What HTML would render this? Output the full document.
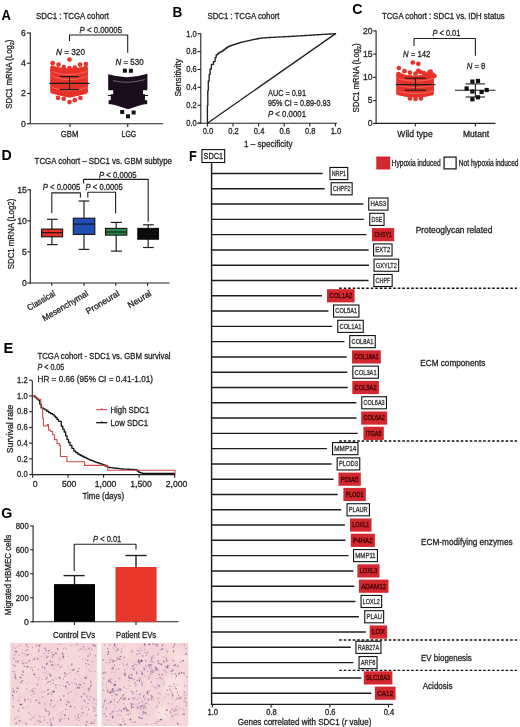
<!DOCTYPE html>
<html><head><meta charset="utf-8"><title>Figure</title>
<style>
html,body{margin:0;padding:0;background:#fff;}
body{width:520px;height:727px;overflow:hidden;}
svg{display:block;font-family:'Liberation Sans', Arial, sans-serif;fill:#231f20;}
text{stroke:#231f20;stroke-width:0.3px;}

</style></head><body>
<svg width="520" height="727" viewBox="0 0 520 727" fill="#231f20">
<rect width="520" height="727" fill="#fff"/>
<text x="1.60" y="20.20" font-size="14.2" textLength="9.40" lengthAdjust="spacingAndGlyphs" font-weight="bold" style="stroke-width:0;fill:#000;stroke:#000;">A</text>
<text x="172.40" y="17.20" font-size="14.2" textLength="9.80" lengthAdjust="spacingAndGlyphs" font-weight="bold" style="stroke-width:0;fill:#000;stroke:#000;">B</text>
<text x="352.20" y="13.60" font-size="14.2" textLength="10.20" lengthAdjust="spacingAndGlyphs" font-weight="bold" style="stroke-width:0;fill:#000;stroke:#000;">C</text>
<text x="1.60" y="160.40" font-size="14.2" textLength="10.20" lengthAdjust="spacingAndGlyphs" font-weight="bold" style="stroke-width:0;fill:#000;stroke:#000;">D</text>
<text x="3.40" y="353.40" font-size="14.2" textLength="9.80" lengthAdjust="spacingAndGlyphs" font-weight="bold" style="stroke-width:0;fill:#000;stroke:#000;">E</text>
<text x="188.90" y="161.00" font-size="14.2" textLength="7.80" lengthAdjust="spacingAndGlyphs" font-weight="bold" style="stroke-width:0;fill:#000;stroke:#000;">F</text>
<text x="1.20" y="518.40" font-size="14.2" textLength="11.00" lengthAdjust="spacingAndGlyphs" font-weight="bold" style="stroke-width:0;fill:#000;stroke:#000;">G</text>
<text x="36.00" y="19.20" font-size="8.86" textLength="73.00" lengthAdjust="spacingAndGlyphs">SDC1 : TCGA cohort</text>
<line x1="30.30" y1="32.60" x2="30.30" y2="123.60" stroke="#231f20" stroke-width="1.1" />
<line x1="29.70" y1="123.70" x2="163.00" y2="123.70" stroke="#231f20" stroke-width="1.1" />
<line x1="26.80" y1="33.00" x2="30.30" y2="33.00" stroke="#231f20" stroke-width="1.1" />
<text x="25.80" y="35.80" font-size="8.64" text-anchor="end">6</text>
<line x1="26.80" y1="63.20" x2="30.30" y2="63.20" stroke="#231f20" stroke-width="1.1" />
<text x="25.80" y="66.00" font-size="8.64" text-anchor="end">4</text>
<line x1="26.80" y1="93.50" x2="30.30" y2="93.50" stroke="#231f20" stroke-width="1.1" />
<text x="25.80" y="96.30" font-size="8.64" text-anchor="end">2</text>
<line x1="26.80" y1="123.70" x2="30.30" y2="123.70" stroke="#231f20" stroke-width="1.1" />
<text x="25.80" y="126.50" font-size="8.64" text-anchor="end">0</text>
<line x1="70.00" y1="123.70" x2="70.00" y2="126.90" stroke="#231f20" stroke-width="1.1" />
<line x1="127.70" y1="123.70" x2="127.70" y2="126.90" stroke="#231f20" stroke-width="1.1" />
<text x="69.60" y="136.60" font-size="8.64" text-anchor="middle" textLength="17.50" lengthAdjust="spacingAndGlyphs">GBM</text>
<text x="128.90" y="136.60" font-size="8.64" text-anchor="middle" textLength="14.80" lengthAdjust="spacingAndGlyphs">LGG</text>
<text transform="translate(12.4 74.2) rotate(-90)" font-size="8.64" text-anchor="middle" textLength="69" lengthAdjust="spacingAndGlyphs">SDC1 mRNA (Log<tspan font-size="5.5" dy="1.6">2</tspan><tspan dy="-1.6">)</tspan></text>
<polyline points="69.50,41.00 69.50,35.00 127.70,35.00 127.70,52.70" fill="none" stroke="#231f20" stroke-width="1.1" stroke-linejoin="round"/>
<text x="79.60" y="33.30" font-size="8.64" textLength="42.40" lengthAdjust="spacingAndGlyphs"><tspan font-style="italic">P</tspan> &lt; 0.00005</text>
<text x="56.00" y="55.20" font-size="8.64" textLength="29.00" lengthAdjust="spacingAndGlyphs"><tspan font-style="italic">N</tspan> = 320</text>
<text x="115.60" y="65.20" font-size="8.64" textLength="28.00" lengthAdjust="spacingAndGlyphs"><tspan font-style="italic">N</tspan> = 530</text>
<circle cx="69.50" cy="59.60" r="2.35" fill="#e8322a"/>
<circle cx="52.70" cy="63.20" r="2.35" fill="#e8322a"/>
<circle cx="58.50" cy="64.60" r="2.35" fill="#e8322a"/>
<circle cx="63.75" cy="67.00" r="2.35" fill="#e8322a"/>
<circle cx="69.50" cy="68.00" r="2.35" fill="#e8322a"/>
<circle cx="74.80" cy="67.50" r="2.35" fill="#e8322a"/>
<circle cx="80.10" cy="64.60" r="2.35" fill="#e8322a"/>
<circle cx="85.90" cy="64.10" r="2.35" fill="#e8322a"/>
<circle cx="52.30" cy="67.54" r="2.1" fill="#e8322a"/>
<circle cx="53.90" cy="68.07" r="2.1" fill="#e8322a"/>
<circle cx="55.50" cy="68.54" r="2.1" fill="#e8322a"/>
<circle cx="57.10" cy="68.96" r="2.1" fill="#e8322a"/>
<circle cx="58.70" cy="69.33" r="2.1" fill="#e8322a"/>
<circle cx="60.30" cy="69.65" r="2.1" fill="#e8322a"/>
<circle cx="61.90" cy="69.92" r="2.1" fill="#e8322a"/>
<circle cx="63.50" cy="70.14" r="2.1" fill="#e8322a"/>
<circle cx="65.10" cy="70.31" r="2.1" fill="#e8322a"/>
<circle cx="66.70" cy="70.42" r="2.1" fill="#e8322a"/>
<circle cx="68.30" cy="70.49" r="2.1" fill="#e8322a"/>
<circle cx="69.90" cy="70.50" r="2.1" fill="#e8322a"/>
<circle cx="71.50" cy="70.46" r="2.1" fill="#e8322a"/>
<circle cx="73.10" cy="70.37" r="2.1" fill="#e8322a"/>
<circle cx="74.70" cy="70.23" r="2.1" fill="#e8322a"/>
<circle cx="76.30" cy="70.04" r="2.1" fill="#e8322a"/>
<circle cx="77.90" cy="69.79" r="2.1" fill="#e8322a"/>
<circle cx="79.50" cy="69.50" r="2.1" fill="#e8322a"/>
<circle cx="81.10" cy="69.15" r="2.1" fill="#e8322a"/>
<circle cx="82.70" cy="68.76" r="2.1" fill="#e8322a"/>
<circle cx="84.30" cy="68.31" r="2.1" fill="#e8322a"/>
<circle cx="85.90" cy="67.81" r="2.1" fill="#e8322a"/>
<circle cx="52.30" cy="69.34" r="2.1" fill="#e8322a"/>
<circle cx="53.90" cy="69.87" r="2.1" fill="#e8322a"/>
<circle cx="55.50" cy="70.34" r="2.1" fill="#e8322a"/>
<circle cx="57.10" cy="70.76" r="2.1" fill="#e8322a"/>
<circle cx="58.70" cy="71.13" r="2.1" fill="#e8322a"/>
<circle cx="60.30" cy="71.45" r="2.1" fill="#e8322a"/>
<circle cx="61.90" cy="71.72" r="2.1" fill="#e8322a"/>
<circle cx="63.50" cy="71.94" r="2.1" fill="#e8322a"/>
<circle cx="65.10" cy="72.11" r="2.1" fill="#e8322a"/>
<circle cx="66.70" cy="72.22" r="2.1" fill="#e8322a"/>
<circle cx="68.30" cy="72.29" r="2.1" fill="#e8322a"/>
<circle cx="69.90" cy="72.30" r="2.1" fill="#e8322a"/>
<circle cx="71.50" cy="72.26" r="2.1" fill="#e8322a"/>
<circle cx="73.10" cy="72.17" r="2.1" fill="#e8322a"/>
<circle cx="74.70" cy="72.03" r="2.1" fill="#e8322a"/>
<circle cx="76.30" cy="71.84" r="2.1" fill="#e8322a"/>
<circle cx="77.90" cy="71.59" r="2.1" fill="#e8322a"/>
<circle cx="79.50" cy="71.30" r="2.1" fill="#e8322a"/>
<circle cx="81.10" cy="70.95" r="2.1" fill="#e8322a"/>
<circle cx="82.70" cy="70.56" r="2.1" fill="#e8322a"/>
<circle cx="84.30" cy="70.11" r="2.1" fill="#e8322a"/>
<circle cx="85.90" cy="69.61" r="2.1" fill="#e8322a"/>
<circle cx="52.30" cy="71.14" r="2.1" fill="#e8322a"/>
<circle cx="53.90" cy="71.67" r="2.1" fill="#e8322a"/>
<circle cx="55.50" cy="72.14" r="2.1" fill="#e8322a"/>
<circle cx="57.10" cy="72.56" r="2.1" fill="#e8322a"/>
<circle cx="58.70" cy="72.93" r="2.1" fill="#e8322a"/>
<circle cx="60.30" cy="73.25" r="2.1" fill="#e8322a"/>
<circle cx="61.90" cy="73.52" r="2.1" fill="#e8322a"/>
<circle cx="63.50" cy="73.74" r="2.1" fill="#e8322a"/>
<circle cx="65.10" cy="73.91" r="2.1" fill="#e8322a"/>
<circle cx="66.70" cy="74.02" r="2.1" fill="#e8322a"/>
<circle cx="68.30" cy="74.09" r="2.1" fill="#e8322a"/>
<circle cx="69.90" cy="74.10" r="2.1" fill="#e8322a"/>
<circle cx="71.50" cy="74.06" r="2.1" fill="#e8322a"/>
<circle cx="73.10" cy="73.97" r="2.1" fill="#e8322a"/>
<circle cx="74.70" cy="73.83" r="2.1" fill="#e8322a"/>
<circle cx="76.30" cy="73.64" r="2.1" fill="#e8322a"/>
<circle cx="77.90" cy="73.39" r="2.1" fill="#e8322a"/>
<circle cx="79.50" cy="73.10" r="2.1" fill="#e8322a"/>
<circle cx="81.10" cy="72.75" r="2.1" fill="#e8322a"/>
<circle cx="82.70" cy="72.36" r="2.1" fill="#e8322a"/>
<circle cx="84.30" cy="71.91" r="2.1" fill="#e8322a"/>
<circle cx="85.90" cy="71.41" r="2.1" fill="#e8322a"/>
<circle cx="52.30" cy="72.94" r="2.1" fill="#e8322a"/>
<circle cx="53.90" cy="73.47" r="2.1" fill="#e8322a"/>
<circle cx="55.50" cy="73.94" r="2.1" fill="#e8322a"/>
<circle cx="57.10" cy="74.36" r="2.1" fill="#e8322a"/>
<circle cx="58.70" cy="74.73" r="2.1" fill="#e8322a"/>
<circle cx="60.30" cy="75.05" r="2.1" fill="#e8322a"/>
<circle cx="61.90" cy="75.32" r="2.1" fill="#e8322a"/>
<circle cx="63.50" cy="75.54" r="2.1" fill="#e8322a"/>
<circle cx="65.10" cy="75.71" r="2.1" fill="#e8322a"/>
<circle cx="66.70" cy="75.82" r="2.1" fill="#e8322a"/>
<circle cx="68.30" cy="75.89" r="2.1" fill="#e8322a"/>
<circle cx="69.90" cy="75.90" r="2.1" fill="#e8322a"/>
<circle cx="71.50" cy="75.86" r="2.1" fill="#e8322a"/>
<circle cx="73.10" cy="75.77" r="2.1" fill="#e8322a"/>
<circle cx="74.70" cy="75.63" r="2.1" fill="#e8322a"/>
<circle cx="76.30" cy="75.44" r="2.1" fill="#e8322a"/>
<circle cx="77.90" cy="75.19" r="2.1" fill="#e8322a"/>
<circle cx="79.50" cy="74.90" r="2.1" fill="#e8322a"/>
<circle cx="81.10" cy="74.55" r="2.1" fill="#e8322a"/>
<circle cx="82.70" cy="74.16" r="2.1" fill="#e8322a"/>
<circle cx="84.30" cy="73.71" r="2.1" fill="#e8322a"/>
<circle cx="85.90" cy="73.21" r="2.1" fill="#e8322a"/>
<circle cx="52.30" cy="74.74" r="2.1" fill="#e8322a"/>
<circle cx="53.90" cy="75.27" r="2.1" fill="#e8322a"/>
<circle cx="55.50" cy="75.74" r="2.1" fill="#e8322a"/>
<circle cx="57.10" cy="76.16" r="2.1" fill="#e8322a"/>
<circle cx="58.70" cy="76.53" r="2.1" fill="#e8322a"/>
<circle cx="60.30" cy="76.85" r="2.1" fill="#e8322a"/>
<circle cx="61.90" cy="77.12" r="2.1" fill="#e8322a"/>
<circle cx="63.50" cy="77.34" r="2.1" fill="#e8322a"/>
<circle cx="65.10" cy="77.51" r="2.1" fill="#e8322a"/>
<circle cx="66.70" cy="77.62" r="2.1" fill="#e8322a"/>
<circle cx="68.30" cy="77.69" r="2.1" fill="#e8322a"/>
<circle cx="69.90" cy="77.70" r="2.1" fill="#e8322a"/>
<circle cx="71.50" cy="77.66" r="2.1" fill="#e8322a"/>
<circle cx="73.10" cy="77.57" r="2.1" fill="#e8322a"/>
<circle cx="74.70" cy="77.43" r="2.1" fill="#e8322a"/>
<circle cx="76.30" cy="77.24" r="2.1" fill="#e8322a"/>
<circle cx="77.90" cy="76.99" r="2.1" fill="#e8322a"/>
<circle cx="79.50" cy="76.70" r="2.1" fill="#e8322a"/>
<circle cx="81.10" cy="76.35" r="2.1" fill="#e8322a"/>
<circle cx="82.70" cy="75.96" r="2.1" fill="#e8322a"/>
<circle cx="84.30" cy="75.51" r="2.1" fill="#e8322a"/>
<circle cx="85.90" cy="75.01" r="2.1" fill="#e8322a"/>
<circle cx="52.30" cy="76.54" r="2.1" fill="#e8322a"/>
<circle cx="53.90" cy="77.07" r="2.1" fill="#e8322a"/>
<circle cx="55.50" cy="77.54" r="2.1" fill="#e8322a"/>
<circle cx="57.10" cy="77.96" r="2.1" fill="#e8322a"/>
<circle cx="58.70" cy="78.33" r="2.1" fill="#e8322a"/>
<circle cx="60.30" cy="78.65" r="2.1" fill="#e8322a"/>
<circle cx="61.90" cy="78.92" r="2.1" fill="#e8322a"/>
<circle cx="63.50" cy="79.14" r="2.1" fill="#e8322a"/>
<circle cx="65.10" cy="79.31" r="2.1" fill="#e8322a"/>
<circle cx="66.70" cy="79.42" r="2.1" fill="#e8322a"/>
<circle cx="68.30" cy="79.49" r="2.1" fill="#e8322a"/>
<circle cx="69.90" cy="79.50" r="2.1" fill="#e8322a"/>
<circle cx="71.50" cy="79.46" r="2.1" fill="#e8322a"/>
<circle cx="73.10" cy="79.37" r="2.1" fill="#e8322a"/>
<circle cx="74.70" cy="79.23" r="2.1" fill="#e8322a"/>
<circle cx="76.30" cy="79.04" r="2.1" fill="#e8322a"/>
<circle cx="77.90" cy="78.79" r="2.1" fill="#e8322a"/>
<circle cx="79.50" cy="78.50" r="2.1" fill="#e8322a"/>
<circle cx="81.10" cy="78.15" r="2.1" fill="#e8322a"/>
<circle cx="82.70" cy="77.76" r="2.1" fill="#e8322a"/>
<circle cx="84.30" cy="77.31" r="2.1" fill="#e8322a"/>
<circle cx="85.90" cy="76.81" r="2.1" fill="#e8322a"/>
<circle cx="52.30" cy="78.34" r="2.1" fill="#e8322a"/>
<circle cx="53.90" cy="78.87" r="2.1" fill="#e8322a"/>
<circle cx="55.50" cy="79.34" r="2.1" fill="#e8322a"/>
<circle cx="57.10" cy="79.76" r="2.1" fill="#e8322a"/>
<circle cx="58.70" cy="80.13" r="2.1" fill="#e8322a"/>
<circle cx="60.30" cy="80.45" r="2.1" fill="#e8322a"/>
<circle cx="61.90" cy="80.72" r="2.1" fill="#e8322a"/>
<circle cx="63.50" cy="80.94" r="2.1" fill="#e8322a"/>
<circle cx="65.10" cy="81.11" r="2.1" fill="#e8322a"/>
<circle cx="66.70" cy="81.22" r="2.1" fill="#e8322a"/>
<circle cx="68.30" cy="81.29" r="2.1" fill="#e8322a"/>
<circle cx="69.90" cy="81.30" r="2.1" fill="#e8322a"/>
<circle cx="71.50" cy="81.26" r="2.1" fill="#e8322a"/>
<circle cx="73.10" cy="81.17" r="2.1" fill="#e8322a"/>
<circle cx="74.70" cy="81.03" r="2.1" fill="#e8322a"/>
<circle cx="76.30" cy="80.84" r="2.1" fill="#e8322a"/>
<circle cx="77.90" cy="80.59" r="2.1" fill="#e8322a"/>
<circle cx="79.50" cy="80.30" r="2.1" fill="#e8322a"/>
<circle cx="81.10" cy="79.95" r="2.1" fill="#e8322a"/>
<circle cx="82.70" cy="79.56" r="2.1" fill="#e8322a"/>
<circle cx="84.30" cy="79.11" r="2.1" fill="#e8322a"/>
<circle cx="85.90" cy="78.61" r="2.1" fill="#e8322a"/>
<circle cx="52.30" cy="80.14" r="2.1" fill="#e8322a"/>
<circle cx="53.90" cy="80.67" r="2.1" fill="#e8322a"/>
<circle cx="55.50" cy="81.14" r="2.1" fill="#e8322a"/>
<circle cx="57.10" cy="81.56" r="2.1" fill="#e8322a"/>
<circle cx="58.70" cy="81.93" r="2.1" fill="#e8322a"/>
<circle cx="60.30" cy="82.25" r="2.1" fill="#e8322a"/>
<circle cx="61.90" cy="82.52" r="2.1" fill="#e8322a"/>
<circle cx="63.50" cy="82.74" r="2.1" fill="#e8322a"/>
<circle cx="65.10" cy="82.91" r="2.1" fill="#e8322a"/>
<circle cx="66.70" cy="83.02" r="2.1" fill="#e8322a"/>
<circle cx="68.30" cy="83.09" r="2.1" fill="#e8322a"/>
<circle cx="69.90" cy="83.10" r="2.1" fill="#e8322a"/>
<circle cx="71.50" cy="83.06" r="2.1" fill="#e8322a"/>
<circle cx="73.10" cy="82.97" r="2.1" fill="#e8322a"/>
<circle cx="74.70" cy="82.83" r="2.1" fill="#e8322a"/>
<circle cx="76.30" cy="82.64" r="2.1" fill="#e8322a"/>
<circle cx="77.90" cy="82.39" r="2.1" fill="#e8322a"/>
<circle cx="79.50" cy="82.10" r="2.1" fill="#e8322a"/>
<circle cx="81.10" cy="81.75" r="2.1" fill="#e8322a"/>
<circle cx="82.70" cy="81.36" r="2.1" fill="#e8322a"/>
<circle cx="84.30" cy="80.91" r="2.1" fill="#e8322a"/>
<circle cx="85.90" cy="80.41" r="2.1" fill="#e8322a"/>
<circle cx="52.30" cy="81.94" r="2.1" fill="#e8322a"/>
<circle cx="53.90" cy="82.47" r="2.1" fill="#e8322a"/>
<circle cx="55.50" cy="82.94" r="2.1" fill="#e8322a"/>
<circle cx="57.10" cy="83.36" r="2.1" fill="#e8322a"/>
<circle cx="58.70" cy="83.73" r="2.1" fill="#e8322a"/>
<circle cx="60.30" cy="84.05" r="2.1" fill="#e8322a"/>
<circle cx="61.90" cy="84.32" r="2.1" fill="#e8322a"/>
<circle cx="63.50" cy="84.54" r="2.1" fill="#e8322a"/>
<circle cx="65.10" cy="84.71" r="2.1" fill="#e8322a"/>
<circle cx="66.70" cy="84.82" r="2.1" fill="#e8322a"/>
<circle cx="68.30" cy="84.89" r="2.1" fill="#e8322a"/>
<circle cx="69.90" cy="84.90" r="2.1" fill="#e8322a"/>
<circle cx="71.50" cy="84.86" r="2.1" fill="#e8322a"/>
<circle cx="73.10" cy="84.77" r="2.1" fill="#e8322a"/>
<circle cx="74.70" cy="84.63" r="2.1" fill="#e8322a"/>
<circle cx="76.30" cy="84.44" r="2.1" fill="#e8322a"/>
<circle cx="77.90" cy="84.19" r="2.1" fill="#e8322a"/>
<circle cx="79.50" cy="83.90" r="2.1" fill="#e8322a"/>
<circle cx="81.10" cy="83.55" r="2.1" fill="#e8322a"/>
<circle cx="82.70" cy="83.16" r="2.1" fill="#e8322a"/>
<circle cx="84.30" cy="82.71" r="2.1" fill="#e8322a"/>
<circle cx="85.90" cy="82.21" r="2.1" fill="#e8322a"/>
<circle cx="52.30" cy="83.74" r="2.1" fill="#e8322a"/>
<circle cx="53.90" cy="84.27" r="2.1" fill="#e8322a"/>
<circle cx="55.50" cy="84.74" r="2.1" fill="#e8322a"/>
<circle cx="57.10" cy="85.16" r="2.1" fill="#e8322a"/>
<circle cx="58.70" cy="85.53" r="2.1" fill="#e8322a"/>
<circle cx="60.30" cy="85.85" r="2.1" fill="#e8322a"/>
<circle cx="61.90" cy="86.12" r="2.1" fill="#e8322a"/>
<circle cx="63.50" cy="86.34" r="2.1" fill="#e8322a"/>
<circle cx="65.10" cy="86.51" r="2.1" fill="#e8322a"/>
<circle cx="66.70" cy="86.62" r="2.1" fill="#e8322a"/>
<circle cx="68.30" cy="86.69" r="2.1" fill="#e8322a"/>
<circle cx="69.90" cy="86.70" r="2.1" fill="#e8322a"/>
<circle cx="71.50" cy="86.66" r="2.1" fill="#e8322a"/>
<circle cx="73.10" cy="86.57" r="2.1" fill="#e8322a"/>
<circle cx="74.70" cy="86.43" r="2.1" fill="#e8322a"/>
<circle cx="76.30" cy="86.24" r="2.1" fill="#e8322a"/>
<circle cx="77.90" cy="85.99" r="2.1" fill="#e8322a"/>
<circle cx="79.50" cy="85.70" r="2.1" fill="#e8322a"/>
<circle cx="81.10" cy="85.35" r="2.1" fill="#e8322a"/>
<circle cx="82.70" cy="84.96" r="2.1" fill="#e8322a"/>
<circle cx="84.30" cy="84.51" r="2.1" fill="#e8322a"/>
<circle cx="85.90" cy="84.01" r="2.1" fill="#e8322a"/>
<circle cx="52.30" cy="85.54" r="2.1" fill="#e8322a"/>
<circle cx="53.90" cy="86.07" r="2.1" fill="#e8322a"/>
<circle cx="55.50" cy="86.54" r="2.1" fill="#e8322a"/>
<circle cx="57.10" cy="86.96" r="2.1" fill="#e8322a"/>
<circle cx="58.70" cy="87.33" r="2.1" fill="#e8322a"/>
<circle cx="60.30" cy="87.65" r="2.1" fill="#e8322a"/>
<circle cx="61.90" cy="87.92" r="2.1" fill="#e8322a"/>
<circle cx="63.50" cy="88.14" r="2.1" fill="#e8322a"/>
<circle cx="65.10" cy="88.31" r="2.1" fill="#e8322a"/>
<circle cx="66.70" cy="88.42" r="2.1" fill="#e8322a"/>
<circle cx="68.30" cy="88.49" r="2.1" fill="#e8322a"/>
<circle cx="69.90" cy="88.50" r="2.1" fill="#e8322a"/>
<circle cx="71.50" cy="88.46" r="2.1" fill="#e8322a"/>
<circle cx="73.10" cy="88.37" r="2.1" fill="#e8322a"/>
<circle cx="74.70" cy="88.23" r="2.1" fill="#e8322a"/>
<circle cx="76.30" cy="88.04" r="2.1" fill="#e8322a"/>
<circle cx="77.90" cy="87.79" r="2.1" fill="#e8322a"/>
<circle cx="79.50" cy="87.50" r="2.1" fill="#e8322a"/>
<circle cx="81.10" cy="87.15" r="2.1" fill="#e8322a"/>
<circle cx="82.70" cy="86.76" r="2.1" fill="#e8322a"/>
<circle cx="84.30" cy="86.31" r="2.1" fill="#e8322a"/>
<circle cx="85.90" cy="85.81" r="2.1" fill="#e8322a"/>
<circle cx="52.30" cy="87.34" r="2.1" fill="#e8322a"/>
<circle cx="53.90" cy="87.87" r="2.1" fill="#e8322a"/>
<circle cx="55.50" cy="88.34" r="2.1" fill="#e8322a"/>
<circle cx="57.10" cy="88.76" r="2.1" fill="#e8322a"/>
<circle cx="58.70" cy="89.13" r="2.1" fill="#e8322a"/>
<circle cx="60.30" cy="89.45" r="2.1" fill="#e8322a"/>
<circle cx="61.90" cy="89.72" r="2.1" fill="#e8322a"/>
<circle cx="63.50" cy="89.94" r="2.1" fill="#e8322a"/>
<circle cx="65.10" cy="90.11" r="2.1" fill="#e8322a"/>
<circle cx="66.70" cy="90.22" r="2.1" fill="#e8322a"/>
<circle cx="68.30" cy="90.29" r="2.1" fill="#e8322a"/>
<circle cx="69.90" cy="90.30" r="2.1" fill="#e8322a"/>
<circle cx="71.50" cy="90.26" r="2.1" fill="#e8322a"/>
<circle cx="73.10" cy="90.17" r="2.1" fill="#e8322a"/>
<circle cx="74.70" cy="90.03" r="2.1" fill="#e8322a"/>
<circle cx="76.30" cy="89.84" r="2.1" fill="#e8322a"/>
<circle cx="77.90" cy="89.59" r="2.1" fill="#e8322a"/>
<circle cx="79.50" cy="89.30" r="2.1" fill="#e8322a"/>
<circle cx="81.10" cy="88.95" r="2.1" fill="#e8322a"/>
<circle cx="82.70" cy="88.56" r="2.1" fill="#e8322a"/>
<circle cx="84.30" cy="88.11" r="2.1" fill="#e8322a"/>
<circle cx="85.90" cy="87.61" r="2.1" fill="#e8322a"/>
<circle cx="52.30" cy="89.14" r="2.1" fill="#e8322a"/>
<circle cx="53.90" cy="89.67" r="2.1" fill="#e8322a"/>
<circle cx="55.50" cy="90.14" r="2.1" fill="#e8322a"/>
<circle cx="57.10" cy="90.56" r="2.1" fill="#e8322a"/>
<circle cx="58.70" cy="90.93" r="2.1" fill="#e8322a"/>
<circle cx="60.30" cy="91.25" r="2.1" fill="#e8322a"/>
<circle cx="61.90" cy="91.52" r="2.1" fill="#e8322a"/>
<circle cx="63.50" cy="91.74" r="2.1" fill="#e8322a"/>
<circle cx="65.10" cy="91.91" r="2.1" fill="#e8322a"/>
<circle cx="66.70" cy="92.02" r="2.1" fill="#e8322a"/>
<circle cx="68.30" cy="92.09" r="2.1" fill="#e8322a"/>
<circle cx="69.90" cy="92.10" r="2.1" fill="#e8322a"/>
<circle cx="71.50" cy="92.06" r="2.1" fill="#e8322a"/>
<circle cx="73.10" cy="91.97" r="2.1" fill="#e8322a"/>
<circle cx="74.70" cy="91.83" r="2.1" fill="#e8322a"/>
<circle cx="76.30" cy="91.64" r="2.1" fill="#e8322a"/>
<circle cx="77.90" cy="91.39" r="2.1" fill="#e8322a"/>
<circle cx="79.50" cy="91.10" r="2.1" fill="#e8322a"/>
<circle cx="81.10" cy="90.75" r="2.1" fill="#e8322a"/>
<circle cx="82.70" cy="90.36" r="2.1" fill="#e8322a"/>
<circle cx="84.30" cy="89.91" r="2.1" fill="#e8322a"/>
<circle cx="85.90" cy="89.41" r="2.1" fill="#e8322a"/>
<circle cx="52.30" cy="90.94" r="2.1" fill="#e8322a"/>
<circle cx="53.90" cy="91.47" r="2.1" fill="#e8322a"/>
<circle cx="55.50" cy="91.94" r="2.1" fill="#e8322a"/>
<circle cx="57.10" cy="92.36" r="2.1" fill="#e8322a"/>
<circle cx="58.70" cy="92.73" r="2.1" fill="#e8322a"/>
<circle cx="60.30" cy="93.05" r="2.1" fill="#e8322a"/>
<circle cx="61.90" cy="93.32" r="2.1" fill="#e8322a"/>
<circle cx="63.50" cy="93.54" r="2.1" fill="#e8322a"/>
<circle cx="65.10" cy="93.71" r="2.1" fill="#e8322a"/>
<circle cx="66.70" cy="93.82" r="2.1" fill="#e8322a"/>
<circle cx="68.30" cy="93.89" r="2.1" fill="#e8322a"/>
<circle cx="69.90" cy="93.90" r="2.1" fill="#e8322a"/>
<circle cx="71.50" cy="93.86" r="2.1" fill="#e8322a"/>
<circle cx="73.10" cy="93.77" r="2.1" fill="#e8322a"/>
<circle cx="74.70" cy="93.63" r="2.1" fill="#e8322a"/>
<circle cx="76.30" cy="93.44" r="2.1" fill="#e8322a"/>
<circle cx="77.90" cy="93.19" r="2.1" fill="#e8322a"/>
<circle cx="79.50" cy="92.90" r="2.1" fill="#e8322a"/>
<circle cx="81.10" cy="92.55" r="2.1" fill="#e8322a"/>
<circle cx="82.70" cy="92.16" r="2.1" fill="#e8322a"/>
<circle cx="84.30" cy="91.71" r="2.1" fill="#e8322a"/>
<circle cx="85.90" cy="91.21" r="2.1" fill="#e8322a"/>
<circle cx="58.00" cy="97.80" r="2.35" fill="#e8322a"/>
<circle cx="63.75" cy="98.75" r="2.35" fill="#e8322a"/>
<circle cx="69.50" cy="102.10" r="2.35" fill="#e8322a"/>
<circle cx="74.80" cy="100.20" r="2.35" fill="#e8322a"/>
<circle cx="80.40" cy="98.00" r="2.35" fill="#e8322a"/>
<circle cx="52.50" cy="91.80" r="2.0" fill="#e8322a"/>
<circle cx="54.00" cy="92.15" r="2.0" fill="#e8322a"/>
<circle cx="55.50" cy="92.51" r="2.0" fill="#e8322a"/>
<circle cx="57.00" cy="92.86" r="2.0" fill="#e8322a"/>
<circle cx="58.50" cy="93.21" r="2.0" fill="#e8322a"/>
<circle cx="60.00" cy="93.56" r="2.0" fill="#e8322a"/>
<circle cx="61.50" cy="93.92" r="2.0" fill="#e8322a"/>
<circle cx="63.00" cy="94.27" r="2.0" fill="#e8322a"/>
<circle cx="64.50" cy="94.62" r="2.0" fill="#e8322a"/>
<circle cx="66.00" cy="94.98" r="2.0" fill="#e8322a"/>
<circle cx="67.50" cy="95.33" r="2.0" fill="#e8322a"/>
<circle cx="69.00" cy="95.68" r="2.0" fill="#e8322a"/>
<circle cx="70.50" cy="95.56" r="2.0" fill="#e8322a"/>
<circle cx="72.00" cy="95.21" r="2.0" fill="#e8322a"/>
<circle cx="73.50" cy="94.86" r="2.0" fill="#e8322a"/>
<circle cx="75.00" cy="94.51" r="2.0" fill="#e8322a"/>
<circle cx="76.50" cy="94.15" r="2.0" fill="#e8322a"/>
<circle cx="78.00" cy="93.80" r="2.0" fill="#e8322a"/>
<circle cx="79.50" cy="93.45" r="2.0" fill="#e8322a"/>
<circle cx="81.00" cy="93.09" r="2.0" fill="#e8322a"/>
<circle cx="82.50" cy="92.74" r="2.0" fill="#e8322a"/>
<circle cx="84.00" cy="92.39" r="2.0" fill="#e8322a"/>
<circle cx="85.50" cy="92.04" r="2.0" fill="#e8322a"/>
<polyline points="52.00,71.44 53.00,71.78 54.00,72.10 55.00,72.40 56.00,72.68 57.00,72.94 58.00,73.18 59.00,73.40 60.00,73.60 61.00,73.78 62.00,73.94 63.00,74.08 64.00,74.20 65.00,74.30 66.00,74.38 67.00,74.44 68.00,74.48 69.00,74.50 70.00,74.50 71.00,74.48 72.00,74.44 73.00,74.38 74.00,74.30 75.00,74.20 76.00,74.08 77.00,73.94 78.00,73.78 79.00,73.60 80.00,73.40 81.00,73.18 82.00,72.94 83.00,72.68 84.00,72.40 85.00,72.10 86.00,71.78 87.00,71.44" fill="none" stroke="#f6a08a" stroke-width="0.7" opacity="0.7"/>
<polyline points="52.00,76.44 53.00,76.78 54.00,77.10 55.00,77.40 56.00,77.68 57.00,77.94 58.00,78.18 59.00,78.40 60.00,78.60 61.00,78.78 62.00,78.94 63.00,79.08 64.00,79.20 65.00,79.30 66.00,79.38 67.00,79.44 68.00,79.48 69.00,79.50 70.00,79.50 71.00,79.48 72.00,79.44 73.00,79.38 74.00,79.30 75.00,79.20 76.00,79.08 77.00,78.94 78.00,78.78 79.00,78.60 80.00,78.40 81.00,78.18 82.00,77.94 83.00,77.68 84.00,77.40 85.00,77.10 86.00,76.78 87.00,76.44" fill="none" stroke="#f6a08a" stroke-width="0.7" opacity="0.7"/>
<polyline points="52.00,87.44 53.00,87.78 54.00,88.10 55.00,88.40 56.00,88.68 57.00,88.94 58.00,89.18 59.00,89.40 60.00,89.60 61.00,89.78 62.00,89.94 63.00,90.08 64.00,90.20 65.00,90.30 66.00,90.38 67.00,90.44 68.00,90.48 69.00,90.50 70.00,90.50 71.00,90.48 72.00,90.44 73.00,90.38 74.00,90.30 75.00,90.20 76.00,90.08 77.00,89.94 78.00,89.78 79.00,89.60 80.00,89.40 81.00,89.18 82.00,88.94 83.00,88.68 84.00,88.40 85.00,88.10 86.00,87.78 87.00,87.44" fill="none" stroke="#f6a08a" stroke-width="0.7" opacity="0.7"/>
<line x1="49.30" y1="83.40" x2="89.40" y2="83.40" stroke="#1a1a1a" stroke-width="1.2" />
<line x1="69.50" y1="76.60" x2="69.50" y2="89.60" stroke="#1a1a1a" stroke-width="1.1" />
<line x1="59.90" y1="76.60" x2="78.70" y2="76.60" stroke="#1a1a1a" stroke-width="1.1" />
<line x1="59.90" y1="89.60" x2="78.70" y2="89.60" stroke="#1a1a1a" stroke-width="1.1" />
<path d="M108.2,74.3 Q128,80.2 147.4,73.8 L147.4,90.3 L143,90.3 L143,94.2 L145,94.2 L145,104 Q137,106 128,109.3 Q119,106 110.8,104 L110.8,94.2 L113.2,94.2 L113.2,90.3 L108.2,90.3 Z" fill="#1c0d1e"/>
<rect x="122.90" y="68.70" width="4.00" height="4.00" fill="#1c0d1e"/>
<rect x="128.90" y="68.80" width="4.00" height="4.00" fill="#1c0d1e"/>
<rect x="120.20" y="110.00" width="4.00" height="4.00" fill="#1c0d1e"/>
<rect x="126.00" y="114.30" width="4.00" height="4.00" fill="#1c0d1e"/>
<rect x="131.60" y="110.50" width="4.00" height="4.00" fill="#1c0d1e"/>
<rect x="108.60" y="100.20" width="4.00" height="4.00" fill="#1c0d1e"/>
<rect x="143.20" y="100.20" width="4.00" height="4.00" fill="#1c0d1e"/>
<path d="M113,80.6 Q128,84.5 145,79.5" fill="none" stroke="#ffffff" stroke-width="0.6" opacity="0.6"/>
<line x1="108.00" y1="95.50" x2="148.00" y2="95.50" stroke="#1c0d1e" stroke-width="1.2" />
<text x="207.50" y="19.20" font-size="8.86" textLength="72.00" lengthAdjust="spacingAndGlyphs">SDC1 : TCGA cohort</text>
<line x1="200.80" y1="33.40" x2="200.80" y2="123.60" stroke="#231f20" stroke-width="1.1" />
<line x1="197.50" y1="123.20" x2="337.00" y2="123.20" stroke="#231f20" stroke-width="1.1" />
<line x1="197.50" y1="123.20" x2="200.80" y2="123.20" stroke="#231f20" stroke-width="1.1" />
<text x="196.80" y="126.00" font-size="8.64" text-anchor="end" textLength="10.50" lengthAdjust="spacingAndGlyphs">0.0</text>
<line x1="197.50" y1="105.30" x2="200.80" y2="105.30" stroke="#231f20" stroke-width="1.1" />
<text x="196.80" y="108.10" font-size="8.64" text-anchor="end" textLength="10.50" lengthAdjust="spacingAndGlyphs">0.2</text>
<line x1="197.50" y1="87.40" x2="200.80" y2="87.40" stroke="#231f20" stroke-width="1.1" />
<text x="196.80" y="90.20" font-size="8.64" text-anchor="end" textLength="10.50" lengthAdjust="spacingAndGlyphs">0.4</text>
<line x1="197.50" y1="69.50" x2="200.80" y2="69.50" stroke="#231f20" stroke-width="1.1" />
<text x="196.80" y="72.30" font-size="8.64" text-anchor="end" textLength="10.50" lengthAdjust="spacingAndGlyphs">0.6</text>
<line x1="197.50" y1="51.60" x2="200.80" y2="51.60" stroke="#231f20" stroke-width="1.1" />
<text x="196.80" y="54.40" font-size="8.64" text-anchor="end" textLength="10.50" lengthAdjust="spacingAndGlyphs">0.8</text>
<line x1="197.50" y1="33.70" x2="200.80" y2="33.70" stroke="#231f20" stroke-width="1.1" />
<text x="196.80" y="36.50" font-size="8.64" text-anchor="end" textLength="10.50" lengthAdjust="spacingAndGlyphs">1.0</text>
<line x1="207.40" y1="123.20" x2="207.40" y2="126.40" stroke="#231f20" stroke-width="1.1" />
<text x="207.90" y="133.50" font-size="8.64" text-anchor="middle" textLength="10.50" lengthAdjust="spacingAndGlyphs">0.0</text>
<line x1="233.00" y1="123.20" x2="233.00" y2="126.40" stroke="#231f20" stroke-width="1.1" />
<text x="233.50" y="133.50" font-size="8.64" text-anchor="middle" textLength="10.50" lengthAdjust="spacingAndGlyphs">0.2</text>
<line x1="258.60" y1="123.20" x2="258.60" y2="126.40" stroke="#231f20" stroke-width="1.1" />
<text x="259.10" y="133.50" font-size="8.64" text-anchor="middle" textLength="10.50" lengthAdjust="spacingAndGlyphs">0.4</text>
<line x1="284.20" y1="123.20" x2="284.20" y2="126.40" stroke="#231f20" stroke-width="1.1" />
<text x="284.70" y="133.50" font-size="8.64" text-anchor="middle" textLength="10.50" lengthAdjust="spacingAndGlyphs">0.6</text>
<line x1="309.80" y1="123.20" x2="309.80" y2="126.40" stroke="#231f20" stroke-width="1.1" />
<text x="310.30" y="133.50" font-size="8.64" text-anchor="middle" textLength="10.50" lengthAdjust="spacingAndGlyphs">0.8</text>
<line x1="335.40" y1="123.20" x2="335.40" y2="126.40" stroke="#231f20" stroke-width="1.1" />
<text x="335.90" y="133.50" font-size="8.64" text-anchor="middle" textLength="10.50" lengthAdjust="spacingAndGlyphs">1.0</text>
<text transform="translate(180.8 77.7) rotate(-90)" font-size="8.64" text-anchor="middle" textLength="37.6" lengthAdjust="spacingAndGlyphs">Sensitivity</text>
<text x="268.20" y="146.60" font-size="8.64" text-anchor="middle" textLength="48.50" lengthAdjust="spacingAndGlyphs">1 – specificity</text>
<polyline points="207.40,122.90 207.40,105.40 207.80,105.40 207.80,90.60 208.30,90.60 208.30,81.10 209.20,81.10 209.20,74.40 210.10,74.40 210.10,69.00 211.40,69.00 211.40,64.30 213.50,64.30 213.50,61.60 215.10,61.60 215.10,57.60 216.20,57.60 216.20,54.90 217.50,54.90 217.50,53.75 218.80,53.75 218.80,52.60 219.93,52.60 219.93,52.03 221.07,52.03 221.07,51.47 222.20,51.47 222.20,50.90 223.33,50.90 223.33,50.00 224.47,50.00 224.47,49.10 225.60,49.10 225.60,48.20 226.70,48.20 226.70,47.53 227.80,47.53 227.80,46.87 228.90,46.87 228.90,46.20 230.12,46.20 230.12,45.78 231.34,45.78 231.34,45.36 232.56,45.36 232.56,44.94 233.78,44.94 233.78,44.52 235.00,44.52 235.00,44.10 236.35,44.10 236.35,43.67 237.70,43.67 237.70,43.25 239.05,43.25 239.05,42.83 240.40,42.83 240.40,42.40 241.52,42.40 241.52,42.13 242.63,42.13 242.63,41.87 243.75,41.87 243.75,41.60 244.87,41.60 244.87,41.33 245.98,41.33 245.98,41.07 247.10,41.07 247.10,40.80 248.22,40.80 248.22,40.57 249.33,40.57 249.33,40.33 250.45,40.33 250.45,40.10 251.57,40.10 251.57,39.87 252.68,39.87 252.68,39.63 253.80,39.63 253.80,39.40 254.93,39.40 254.93,39.18 256.07,39.18 256.07,38.97 257.20,38.97 257.20,38.75 258.33,38.75 258.33,38.53 259.47,38.53 259.47,38.32 260.60,38.32 260.60,38.10 261.72,38.10 261.72,38.02 262.83,38.02 262.83,37.93 263.95,37.93 263.95,37.85 265.07,37.85 265.07,37.77 266.18,37.77 266.18,37.68 267.30,37.68 267.30,37.60 268.44,37.60 268.44,37.54 269.57,37.54 269.57,37.48 270.70,37.48 270.70,37.42 271.84,37.42 271.84,37.36 272.98,37.36 272.98,37.30 274.11,37.30 274.11,37.24 275.25,37.24 275.25,37.18 276.38,37.18 276.38,37.12 277.51,37.12 277.51,37.06 278.65,37.06 278.65,37.00 279.79,37.00 279.79,36.94 280.92,36.94 280.92,36.88 282.06,36.88 282.06,36.82 283.19,36.82 283.19,36.76 284.32,36.76 284.32,36.70 285.46,36.70 285.46,36.64 286.60,36.64 286.60,36.58 287.73,36.58 287.73,36.52 288.87,36.52 288.87,36.46 290.00,36.46 290.00,36.40 291.11,36.40 291.11,36.33 292.22,36.33 292.22,36.27 293.33,36.27 293.33,36.20 294.44,36.20 294.44,36.13 295.56,36.13 295.56,36.07 296.67,36.07 296.67,36.00 297.78,36.00 297.78,35.93 298.89,35.93 298.89,35.87 300.00,35.87 300.00,35.80 301.11,35.80 301.11,35.73 302.22,35.73 302.22,35.67 303.33,35.67 303.33,35.60 304.44,35.60 304.44,35.53 305.56,35.53 305.56,35.47 306.67,35.47 306.67,35.40 307.78,35.40 307.78,35.33 308.89,35.33 308.89,35.27 310.00,35.27 310.00,35.20 311.11,35.20 311.11,35.13 312.23,35.13 312.23,35.06 313.34,35.06 313.34,34.99 314.45,34.99 314.45,34.92 315.57,34.92 315.57,34.85 316.68,34.85 316.68,34.78 317.79,34.78 317.79,34.71 318.90,34.71 318.90,34.64 320.02,34.64 320.02,34.57 321.13,34.57 321.13,34.50 322.24,34.50 322.24,34.43 323.36,34.43 323.36,34.37 324.47,34.37 324.47,34.30 325.58,34.30 325.58,34.23 326.70,34.23 326.70,34.16 327.81,34.16 327.81,34.09 328.92,34.09 328.92,34.02 330.03,34.02 330.03,33.95 331.15,33.95 331.15,33.88 332.26,33.88 332.26,33.81 333.37,33.81 333.37,33.74 334.49,33.74 334.49,33.67 335.60,33.67 335.60,33.60" fill="none" stroke="#231f20" stroke-width="1.35" stroke-linejoin="round"/>
<line x1="207.40" y1="123.20" x2="335.60" y2="33.60" stroke="#231f20" stroke-width="1.3" />
<text x="268.00" y="95.80" font-size="8.64" textLength="38.00" lengthAdjust="spacingAndGlyphs">AUC = 0.91</text>
<text x="268.00" y="106.30" font-size="8.64" textLength="62.50" lengthAdjust="spacingAndGlyphs">95% CI = 0.89-0.93</text>
<text x="268.00" y="116.80" font-size="8.64" textLength="38.00" lengthAdjust="spacingAndGlyphs"><tspan font-style="italic">P</tspan> &lt; 0.0001</text>
<text x="382.00" y="19.20" font-size="8.86" textLength="122.60" lengthAdjust="spacingAndGlyphs">TCGA cohort : SDC1 vs. IDH status</text>
<line x1="376.10" y1="30.60" x2="376.10" y2="124.00" stroke="#231f20" stroke-width="1.1" />
<line x1="375.50" y1="123.40" x2="495.50" y2="123.40" stroke="#231f20" stroke-width="1.1" />
<line x1="373.20" y1="30.90" x2="376.10" y2="30.90" stroke="#231f20" stroke-width="1.1" />
<text x="372.60" y="33.70" font-size="8.64" text-anchor="end">20</text>
<line x1="373.20" y1="54.10" x2="376.10" y2="54.10" stroke="#231f20" stroke-width="1.1" />
<text x="372.60" y="56.90" font-size="8.64" text-anchor="end">15</text>
<line x1="373.20" y1="77.40" x2="376.10" y2="77.40" stroke="#231f20" stroke-width="1.1" />
<text x="372.60" y="80.20" font-size="8.64" text-anchor="end">10</text>
<line x1="373.20" y1="100.60" x2="376.10" y2="100.60" stroke="#231f20" stroke-width="1.1" />
<text x="372.60" y="103.40" font-size="8.64" text-anchor="end">5</text>
<line x1="373.20" y1="123.40" x2="376.10" y2="123.40" stroke="#231f20" stroke-width="1.1" />
<text x="372.60" y="126.20" font-size="8.64" text-anchor="end">0</text>
<line x1="415.30" y1="123.40" x2="415.30" y2="126.60" stroke="#231f20" stroke-width="1.1" />
<line x1="475.40" y1="123.40" x2="475.40" y2="126.60" stroke="#231f20" stroke-width="1.1" />
<text x="415.00" y="137.00" font-size="8.64" text-anchor="middle" textLength="35.40" lengthAdjust="spacingAndGlyphs">Wild type</text>
<text x="476.00" y="137.00" font-size="8.64" text-anchor="middle" textLength="26.00" lengthAdjust="spacingAndGlyphs">Mutant</text>
<text transform="translate(359.4 78) rotate(-90)" font-size="8.64" text-anchor="middle" textLength="69" lengthAdjust="spacingAndGlyphs">SDC1 mRNA (Log<tspan font-size="5.5" dy="1.6">2</tspan><tspan dy="-1.6">)</tspan></text>
<polyline points="414.00,46.00 414.00,38.50 475.40,38.50 475.40,55.80" fill="none" stroke="#231f20" stroke-width="1.1" stroke-linejoin="round"/>
<text x="432.50" y="36.40" font-size="8.64" textLength="27.90" lengthAdjust="spacingAndGlyphs"><tspan font-style="italic">P</tspan> &lt; 0.01</text>
<text x="403.00" y="57.30" font-size="8.64" textLength="27.40" lengthAdjust="spacingAndGlyphs"><tspan font-style="italic">N</tspan> = 142</text>
<text x="466.70" y="69.20" font-size="8.64" textLength="18.70" lengthAdjust="spacingAndGlyphs"><tspan font-style="italic">N</tspan> = 8</text>
<circle cx="412.80" cy="62.50" r="2.35" fill="#e8322a"/>
<circle cx="418.30" cy="63.80" r="2.35" fill="#e8322a"/>
<circle cx="398.90" cy="68.00" r="2.35" fill="#e8322a"/>
<circle cx="404.50" cy="71.20" r="2.35" fill="#e8322a"/>
<circle cx="410.00" cy="72.60" r="2.35" fill="#e8322a"/>
<circle cx="415.50" cy="73.50" r="2.35" fill="#e8322a"/>
<circle cx="418.30" cy="70.80" r="2.35" fill="#e8322a"/>
<circle cx="423.90" cy="73.10" r="2.35" fill="#e8322a"/>
<circle cx="429.40" cy="72.20" r="2.35" fill="#e8322a"/>
<circle cx="432.60" cy="74.50" r="2.35" fill="#e8322a"/>
<circle cx="398.50" cy="74.00" r="2.35" fill="#e8322a"/>
<circle cx="401.50" cy="75.50" r="2.35" fill="#e8322a"/>
<circle cx="420.50" cy="72.00" r="2.35" fill="#e8322a"/>
<circle cx="426.50" cy="74.50" r="2.35" fill="#e8322a"/>
<circle cx="430.60" cy="71.50" r="2.35" fill="#e8322a"/>
<circle cx="434.50" cy="76.00" r="2.35" fill="#e8322a"/>
<circle cx="398.30" cy="75.13" r="2.1" fill="#e8322a"/>
<circle cx="399.90" cy="75.55" r="2.1" fill="#e8322a"/>
<circle cx="401.50" cy="75.93" r="2.1" fill="#e8322a"/>
<circle cx="403.10" cy="76.27" r="2.1" fill="#e8322a"/>
<circle cx="404.70" cy="76.57" r="2.1" fill="#e8322a"/>
<circle cx="406.30" cy="76.82" r="2.1" fill="#e8322a"/>
<circle cx="407.90" cy="77.04" r="2.1" fill="#e8322a"/>
<circle cx="409.50" cy="77.21" r="2.1" fill="#e8322a"/>
<circle cx="411.10" cy="77.35" r="2.1" fill="#e8322a"/>
<circle cx="412.70" cy="77.44" r="2.1" fill="#e8322a"/>
<circle cx="414.30" cy="77.49" r="2.1" fill="#e8322a"/>
<circle cx="415.90" cy="77.50" r="2.1" fill="#e8322a"/>
<circle cx="417.50" cy="77.47" r="2.1" fill="#e8322a"/>
<circle cx="419.10" cy="77.40" r="2.1" fill="#e8322a"/>
<circle cx="420.70" cy="77.28" r="2.1" fill="#e8322a"/>
<circle cx="422.30" cy="77.13" r="2.1" fill="#e8322a"/>
<circle cx="423.90" cy="76.94" r="2.1" fill="#e8322a"/>
<circle cx="425.50" cy="76.70" r="2.1" fill="#e8322a"/>
<circle cx="427.10" cy="76.42" r="2.1" fill="#e8322a"/>
<circle cx="428.70" cy="76.11" r="2.1" fill="#e8322a"/>
<circle cx="430.30" cy="75.75" r="2.1" fill="#e8322a"/>
<circle cx="431.90" cy="75.35" r="2.1" fill="#e8322a"/>
<circle cx="398.30" cy="76.93" r="2.1" fill="#e8322a"/>
<circle cx="399.90" cy="77.35" r="2.1" fill="#e8322a"/>
<circle cx="401.50" cy="77.73" r="2.1" fill="#e8322a"/>
<circle cx="403.10" cy="78.07" r="2.1" fill="#e8322a"/>
<circle cx="404.70" cy="78.37" r="2.1" fill="#e8322a"/>
<circle cx="406.30" cy="78.62" r="2.1" fill="#e8322a"/>
<circle cx="407.90" cy="78.84" r="2.1" fill="#e8322a"/>
<circle cx="409.50" cy="79.01" r="2.1" fill="#e8322a"/>
<circle cx="411.10" cy="79.15" r="2.1" fill="#e8322a"/>
<circle cx="412.70" cy="79.24" r="2.1" fill="#e8322a"/>
<circle cx="414.30" cy="79.29" r="2.1" fill="#e8322a"/>
<circle cx="415.90" cy="79.30" r="2.1" fill="#e8322a"/>
<circle cx="417.50" cy="79.27" r="2.1" fill="#e8322a"/>
<circle cx="419.10" cy="79.20" r="2.1" fill="#e8322a"/>
<circle cx="420.70" cy="79.08" r="2.1" fill="#e8322a"/>
<circle cx="422.30" cy="78.93" r="2.1" fill="#e8322a"/>
<circle cx="423.90" cy="78.74" r="2.1" fill="#e8322a"/>
<circle cx="425.50" cy="78.50" r="2.1" fill="#e8322a"/>
<circle cx="427.10" cy="78.22" r="2.1" fill="#e8322a"/>
<circle cx="428.70" cy="77.91" r="2.1" fill="#e8322a"/>
<circle cx="430.30" cy="77.55" r="2.1" fill="#e8322a"/>
<circle cx="431.90" cy="77.15" r="2.1" fill="#e8322a"/>
<circle cx="398.30" cy="78.73" r="2.1" fill="#e8322a"/>
<circle cx="399.90" cy="79.15" r="2.1" fill="#e8322a"/>
<circle cx="401.50" cy="79.53" r="2.1" fill="#e8322a"/>
<circle cx="403.10" cy="79.87" r="2.1" fill="#e8322a"/>
<circle cx="404.70" cy="80.17" r="2.1" fill="#e8322a"/>
<circle cx="406.30" cy="80.42" r="2.1" fill="#e8322a"/>
<circle cx="407.90" cy="80.64" r="2.1" fill="#e8322a"/>
<circle cx="409.50" cy="80.81" r="2.1" fill="#e8322a"/>
<circle cx="411.10" cy="80.95" r="2.1" fill="#e8322a"/>
<circle cx="412.70" cy="81.04" r="2.1" fill="#e8322a"/>
<circle cx="414.30" cy="81.09" r="2.1" fill="#e8322a"/>
<circle cx="415.90" cy="81.10" r="2.1" fill="#e8322a"/>
<circle cx="417.50" cy="81.07" r="2.1" fill="#e8322a"/>
<circle cx="419.10" cy="81.00" r="2.1" fill="#e8322a"/>
<circle cx="420.70" cy="80.88" r="2.1" fill="#e8322a"/>
<circle cx="422.30" cy="80.73" r="2.1" fill="#e8322a"/>
<circle cx="423.90" cy="80.54" r="2.1" fill="#e8322a"/>
<circle cx="425.50" cy="80.30" r="2.1" fill="#e8322a"/>
<circle cx="427.10" cy="80.02" r="2.1" fill="#e8322a"/>
<circle cx="428.70" cy="79.71" r="2.1" fill="#e8322a"/>
<circle cx="430.30" cy="79.35" r="2.1" fill="#e8322a"/>
<circle cx="431.90" cy="78.95" r="2.1" fill="#e8322a"/>
<circle cx="398.30" cy="80.53" r="2.1" fill="#e8322a"/>
<circle cx="399.90" cy="80.95" r="2.1" fill="#e8322a"/>
<circle cx="401.50" cy="81.33" r="2.1" fill="#e8322a"/>
<circle cx="403.10" cy="81.67" r="2.1" fill="#e8322a"/>
<circle cx="404.70" cy="81.97" r="2.1" fill="#e8322a"/>
<circle cx="406.30" cy="82.22" r="2.1" fill="#e8322a"/>
<circle cx="407.90" cy="82.44" r="2.1" fill="#e8322a"/>
<circle cx="409.50" cy="82.61" r="2.1" fill="#e8322a"/>
<circle cx="411.10" cy="82.75" r="2.1" fill="#e8322a"/>
<circle cx="412.70" cy="82.84" r="2.1" fill="#e8322a"/>
<circle cx="414.30" cy="82.89" r="2.1" fill="#e8322a"/>
<circle cx="415.90" cy="82.90" r="2.1" fill="#e8322a"/>
<circle cx="417.50" cy="82.87" r="2.1" fill="#e8322a"/>
<circle cx="419.10" cy="82.80" r="2.1" fill="#e8322a"/>
<circle cx="420.70" cy="82.68" r="2.1" fill="#e8322a"/>
<circle cx="422.30" cy="82.53" r="2.1" fill="#e8322a"/>
<circle cx="423.90" cy="82.34" r="2.1" fill="#e8322a"/>
<circle cx="425.50" cy="82.10" r="2.1" fill="#e8322a"/>
<circle cx="427.10" cy="81.82" r="2.1" fill="#e8322a"/>
<circle cx="428.70" cy="81.51" r="2.1" fill="#e8322a"/>
<circle cx="430.30" cy="81.15" r="2.1" fill="#e8322a"/>
<circle cx="431.90" cy="80.75" r="2.1" fill="#e8322a"/>
<circle cx="398.30" cy="82.33" r="2.1" fill="#e8322a"/>
<circle cx="399.90" cy="82.75" r="2.1" fill="#e8322a"/>
<circle cx="401.50" cy="83.13" r="2.1" fill="#e8322a"/>
<circle cx="403.10" cy="83.47" r="2.1" fill="#e8322a"/>
<circle cx="404.70" cy="83.77" r="2.1" fill="#e8322a"/>
<circle cx="406.30" cy="84.02" r="2.1" fill="#e8322a"/>
<circle cx="407.90" cy="84.24" r="2.1" fill="#e8322a"/>
<circle cx="409.50" cy="84.41" r="2.1" fill="#e8322a"/>
<circle cx="411.10" cy="84.55" r="2.1" fill="#e8322a"/>
<circle cx="412.70" cy="84.64" r="2.1" fill="#e8322a"/>
<circle cx="414.30" cy="84.69" r="2.1" fill="#e8322a"/>
<circle cx="415.90" cy="84.70" r="2.1" fill="#e8322a"/>
<circle cx="417.50" cy="84.67" r="2.1" fill="#e8322a"/>
<circle cx="419.10" cy="84.60" r="2.1" fill="#e8322a"/>
<circle cx="420.70" cy="84.48" r="2.1" fill="#e8322a"/>
<circle cx="422.30" cy="84.33" r="2.1" fill="#e8322a"/>
<circle cx="423.90" cy="84.14" r="2.1" fill="#e8322a"/>
<circle cx="425.50" cy="83.90" r="2.1" fill="#e8322a"/>
<circle cx="427.10" cy="83.62" r="2.1" fill="#e8322a"/>
<circle cx="428.70" cy="83.31" r="2.1" fill="#e8322a"/>
<circle cx="430.30" cy="82.95" r="2.1" fill="#e8322a"/>
<circle cx="431.90" cy="82.55" r="2.1" fill="#e8322a"/>
<circle cx="398.30" cy="84.13" r="2.1" fill="#e8322a"/>
<circle cx="399.90" cy="84.55" r="2.1" fill="#e8322a"/>
<circle cx="401.50" cy="84.93" r="2.1" fill="#e8322a"/>
<circle cx="403.10" cy="85.27" r="2.1" fill="#e8322a"/>
<circle cx="404.70" cy="85.57" r="2.1" fill="#e8322a"/>
<circle cx="406.30" cy="85.82" r="2.1" fill="#e8322a"/>
<circle cx="407.90" cy="86.04" r="2.1" fill="#e8322a"/>
<circle cx="409.50" cy="86.21" r="2.1" fill="#e8322a"/>
<circle cx="411.10" cy="86.35" r="2.1" fill="#e8322a"/>
<circle cx="412.70" cy="86.44" r="2.1" fill="#e8322a"/>
<circle cx="414.30" cy="86.49" r="2.1" fill="#e8322a"/>
<circle cx="415.90" cy="86.50" r="2.1" fill="#e8322a"/>
<circle cx="417.50" cy="86.47" r="2.1" fill="#e8322a"/>
<circle cx="419.10" cy="86.40" r="2.1" fill="#e8322a"/>
<circle cx="420.70" cy="86.28" r="2.1" fill="#e8322a"/>
<circle cx="422.30" cy="86.13" r="2.1" fill="#e8322a"/>
<circle cx="423.90" cy="85.94" r="2.1" fill="#e8322a"/>
<circle cx="425.50" cy="85.70" r="2.1" fill="#e8322a"/>
<circle cx="427.10" cy="85.42" r="2.1" fill="#e8322a"/>
<circle cx="428.70" cy="85.11" r="2.1" fill="#e8322a"/>
<circle cx="430.30" cy="84.75" r="2.1" fill="#e8322a"/>
<circle cx="431.90" cy="84.35" r="2.1" fill="#e8322a"/>
<circle cx="398.30" cy="85.93" r="2.1" fill="#e8322a"/>
<circle cx="399.90" cy="86.35" r="2.1" fill="#e8322a"/>
<circle cx="401.50" cy="86.73" r="2.1" fill="#e8322a"/>
<circle cx="403.10" cy="87.07" r="2.1" fill="#e8322a"/>
<circle cx="404.70" cy="87.37" r="2.1" fill="#e8322a"/>
<circle cx="406.30" cy="87.62" r="2.1" fill="#e8322a"/>
<circle cx="407.90" cy="87.84" r="2.1" fill="#e8322a"/>
<circle cx="409.50" cy="88.01" r="2.1" fill="#e8322a"/>
<circle cx="411.10" cy="88.15" r="2.1" fill="#e8322a"/>
<circle cx="412.70" cy="88.24" r="2.1" fill="#e8322a"/>
<circle cx="414.30" cy="88.29" r="2.1" fill="#e8322a"/>
<circle cx="415.90" cy="88.30" r="2.1" fill="#e8322a"/>
<circle cx="417.50" cy="88.27" r="2.1" fill="#e8322a"/>
<circle cx="419.10" cy="88.20" r="2.1" fill="#e8322a"/>
<circle cx="420.70" cy="88.08" r="2.1" fill="#e8322a"/>
<circle cx="422.30" cy="87.93" r="2.1" fill="#e8322a"/>
<circle cx="423.90" cy="87.74" r="2.1" fill="#e8322a"/>
<circle cx="425.50" cy="87.50" r="2.1" fill="#e8322a"/>
<circle cx="427.10" cy="87.22" r="2.1" fill="#e8322a"/>
<circle cx="428.70" cy="86.91" r="2.1" fill="#e8322a"/>
<circle cx="430.30" cy="86.55" r="2.1" fill="#e8322a"/>
<circle cx="431.90" cy="86.15" r="2.1" fill="#e8322a"/>
<circle cx="398.30" cy="87.73" r="2.1" fill="#e8322a"/>
<circle cx="399.90" cy="88.15" r="2.1" fill="#e8322a"/>
<circle cx="401.50" cy="88.53" r="2.1" fill="#e8322a"/>
<circle cx="403.10" cy="88.87" r="2.1" fill="#e8322a"/>
<circle cx="404.70" cy="89.17" r="2.1" fill="#e8322a"/>
<circle cx="406.30" cy="89.42" r="2.1" fill="#e8322a"/>
<circle cx="407.90" cy="89.64" r="2.1" fill="#e8322a"/>
<circle cx="409.50" cy="89.81" r="2.1" fill="#e8322a"/>
<circle cx="411.10" cy="89.95" r="2.1" fill="#e8322a"/>
<circle cx="412.70" cy="90.04" r="2.1" fill="#e8322a"/>
<circle cx="414.30" cy="90.09" r="2.1" fill="#e8322a"/>
<circle cx="415.90" cy="90.10" r="2.1" fill="#e8322a"/>
<circle cx="417.50" cy="90.07" r="2.1" fill="#e8322a"/>
<circle cx="419.10" cy="90.00" r="2.1" fill="#e8322a"/>
<circle cx="420.70" cy="89.88" r="2.1" fill="#e8322a"/>
<circle cx="422.30" cy="89.73" r="2.1" fill="#e8322a"/>
<circle cx="423.90" cy="89.54" r="2.1" fill="#e8322a"/>
<circle cx="425.50" cy="89.30" r="2.1" fill="#e8322a"/>
<circle cx="427.10" cy="89.02" r="2.1" fill="#e8322a"/>
<circle cx="428.70" cy="88.71" r="2.1" fill="#e8322a"/>
<circle cx="430.30" cy="88.35" r="2.1" fill="#e8322a"/>
<circle cx="431.90" cy="87.95" r="2.1" fill="#e8322a"/>
<circle cx="398.30" cy="89.53" r="2.1" fill="#e8322a"/>
<circle cx="399.90" cy="89.95" r="2.1" fill="#e8322a"/>
<circle cx="401.50" cy="90.33" r="2.1" fill="#e8322a"/>
<circle cx="403.10" cy="90.67" r="2.1" fill="#e8322a"/>
<circle cx="404.70" cy="90.97" r="2.1" fill="#e8322a"/>
<circle cx="406.30" cy="91.22" r="2.1" fill="#e8322a"/>
<circle cx="407.90" cy="91.44" r="2.1" fill="#e8322a"/>
<circle cx="409.50" cy="91.61" r="2.1" fill="#e8322a"/>
<circle cx="411.10" cy="91.75" r="2.1" fill="#e8322a"/>
<circle cx="412.70" cy="91.84" r="2.1" fill="#e8322a"/>
<circle cx="414.30" cy="91.89" r="2.1" fill="#e8322a"/>
<circle cx="415.90" cy="91.90" r="2.1" fill="#e8322a"/>
<circle cx="417.50" cy="91.87" r="2.1" fill="#e8322a"/>
<circle cx="419.10" cy="91.80" r="2.1" fill="#e8322a"/>
<circle cx="420.70" cy="91.68" r="2.1" fill="#e8322a"/>
<circle cx="422.30" cy="91.53" r="2.1" fill="#e8322a"/>
<circle cx="423.90" cy="91.34" r="2.1" fill="#e8322a"/>
<circle cx="425.50" cy="91.10" r="2.1" fill="#e8322a"/>
<circle cx="427.10" cy="90.82" r="2.1" fill="#e8322a"/>
<circle cx="428.70" cy="90.51" r="2.1" fill="#e8322a"/>
<circle cx="430.30" cy="90.15" r="2.1" fill="#e8322a"/>
<circle cx="431.90" cy="89.75" r="2.1" fill="#e8322a"/>
<circle cx="398.30" cy="91.33" r="2.1" fill="#e8322a"/>
<circle cx="399.90" cy="91.75" r="2.1" fill="#e8322a"/>
<circle cx="401.50" cy="92.13" r="2.1" fill="#e8322a"/>
<circle cx="403.10" cy="92.47" r="2.1" fill="#e8322a"/>
<circle cx="404.70" cy="92.77" r="2.1" fill="#e8322a"/>
<circle cx="406.30" cy="93.02" r="2.1" fill="#e8322a"/>
<circle cx="407.90" cy="93.24" r="2.1" fill="#e8322a"/>
<circle cx="409.50" cy="93.41" r="2.1" fill="#e8322a"/>
<circle cx="411.10" cy="93.55" r="2.1" fill="#e8322a"/>
<circle cx="412.70" cy="93.64" r="2.1" fill="#e8322a"/>
<circle cx="414.30" cy="93.69" r="2.1" fill="#e8322a"/>
<circle cx="415.90" cy="93.70" r="2.1" fill="#e8322a"/>
<circle cx="417.50" cy="93.67" r="2.1" fill="#e8322a"/>
<circle cx="419.10" cy="93.60" r="2.1" fill="#e8322a"/>
<circle cx="420.70" cy="93.48" r="2.1" fill="#e8322a"/>
<circle cx="422.30" cy="93.33" r="2.1" fill="#e8322a"/>
<circle cx="423.90" cy="93.14" r="2.1" fill="#e8322a"/>
<circle cx="425.50" cy="92.90" r="2.1" fill="#e8322a"/>
<circle cx="427.10" cy="92.62" r="2.1" fill="#e8322a"/>
<circle cx="428.70" cy="92.31" r="2.1" fill="#e8322a"/>
<circle cx="430.30" cy="91.95" r="2.1" fill="#e8322a"/>
<circle cx="431.90" cy="91.55" r="2.1" fill="#e8322a"/>
<circle cx="398.30" cy="93.13" r="2.1" fill="#e8322a"/>
<circle cx="399.90" cy="93.55" r="2.1" fill="#e8322a"/>
<circle cx="401.50" cy="93.93" r="2.1" fill="#e8322a"/>
<circle cx="403.10" cy="94.27" r="2.1" fill="#e8322a"/>
<circle cx="404.70" cy="94.57" r="2.1" fill="#e8322a"/>
<circle cx="406.30" cy="94.82" r="2.1" fill="#e8322a"/>
<circle cx="407.90" cy="95.04" r="2.1" fill="#e8322a"/>
<circle cx="409.50" cy="95.21" r="2.1" fill="#e8322a"/>
<circle cx="411.10" cy="95.35" r="2.1" fill="#e8322a"/>
<circle cx="412.70" cy="95.44" r="2.1" fill="#e8322a"/>
<circle cx="414.30" cy="95.49" r="2.1" fill="#e8322a"/>
<circle cx="415.90" cy="95.50" r="2.1" fill="#e8322a"/>
<circle cx="417.50" cy="95.47" r="2.1" fill="#e8322a"/>
<circle cx="419.10" cy="95.40" r="2.1" fill="#e8322a"/>
<circle cx="420.70" cy="95.28" r="2.1" fill="#e8322a"/>
<circle cx="422.30" cy="95.13" r="2.1" fill="#e8322a"/>
<circle cx="423.90" cy="94.94" r="2.1" fill="#e8322a"/>
<circle cx="425.50" cy="94.70" r="2.1" fill="#e8322a"/>
<circle cx="427.10" cy="94.42" r="2.1" fill="#e8322a"/>
<circle cx="428.70" cy="94.11" r="2.1" fill="#e8322a"/>
<circle cx="430.30" cy="93.75" r="2.1" fill="#e8322a"/>
<circle cx="431.90" cy="93.35" r="2.1" fill="#e8322a"/>
<circle cx="415.50" cy="99.00" r="2.35" fill="#e8322a"/>
<circle cx="410.00" cy="98.50" r="2.35" fill="#e8322a"/>
<circle cx="421.00" cy="98.50" r="2.35" fill="#e8322a"/>
<polyline points="398.00,78.55 399.00,78.82 400.00,79.08 401.00,79.32 402.00,79.54 403.00,79.75 404.00,79.94 405.00,80.12 406.00,80.28 407.00,80.42 408.00,80.55 409.00,80.66 410.00,80.76 411.00,80.84 412.00,80.90 413.00,80.95 414.00,80.98 415.00,81.00 416.00,81.00 417.00,80.98 418.00,80.95 419.00,80.90 420.00,80.84 421.00,80.76 422.00,80.66 423.00,80.55 424.00,80.42 425.00,80.28 426.00,80.12 427.00,79.94 428.00,79.75 429.00,79.54 430.00,79.32 431.00,79.08 432.00,78.82 433.00,78.55" fill="none" stroke="#f6a08a" stroke-width="0.7" opacity="0.7"/>
<polyline points="398.00,85.05 399.00,85.32 400.00,85.58 401.00,85.82 402.00,86.04 403.00,86.25 404.00,86.44 405.00,86.62 406.00,86.78 407.00,86.92 408.00,87.05 409.00,87.16 410.00,87.26 411.00,87.34 412.00,87.40 413.00,87.45 414.00,87.48 415.00,87.50 416.00,87.50 417.00,87.48 418.00,87.45 419.00,87.40 420.00,87.34 421.00,87.26 422.00,87.16 423.00,87.05 424.00,86.92 425.00,86.78 426.00,86.62 427.00,86.44 428.00,86.25 429.00,86.04 430.00,85.82 431.00,85.58 432.00,85.32 433.00,85.05" fill="none" stroke="#f6a08a" stroke-width="0.7" opacity="0.7"/>
<polyline points="398.00,91.05 399.00,91.32 400.00,91.58 401.00,91.82 402.00,92.04 403.00,92.25 404.00,92.44 405.00,92.62 406.00,92.78 407.00,92.92 408.00,93.05 409.00,93.16 410.00,93.26 411.00,93.34 412.00,93.40 413.00,93.45 414.00,93.48 415.00,93.50 416.00,93.50 417.00,93.48 418.00,93.45 419.00,93.40 420.00,93.34 421.00,93.26 422.00,93.16 423.00,93.05 424.00,92.92 425.00,92.78 426.00,92.62 427.00,92.44 428.00,92.25 429.00,92.04 430.00,91.82 431.00,91.58 432.00,91.32 433.00,91.05" fill="none" stroke="#f6a08a" stroke-width="0.7" opacity="0.7"/>
<line x1="395.70" y1="84.60" x2="435.40" y2="84.60" stroke="#1a1a1a" stroke-width="1.2" />
<line x1="415.50" y1="78.20" x2="415.50" y2="90.20" stroke="#1a1a1a" stroke-width="1.1" />
<line x1="405.00" y1="78.20" x2="426.20" y2="78.20" stroke="#1a1a1a" stroke-width="1.1" />
<line x1="405.00" y1="90.20" x2="426.20" y2="90.20" stroke="#1a1a1a" stroke-width="1.1" />
<line x1="455.00" y1="90.30" x2="495.50" y2="90.30" stroke="#231f20" stroke-width="1.1" />
<line x1="465.50" y1="83.90" x2="485.00" y2="83.90" stroke="#231f20" stroke-width="1.1" />
<line x1="465.50" y1="97.00" x2="485.00" y2="97.00" stroke="#231f20" stroke-width="1.1" />
<line x1="475.40" y1="83.90" x2="475.40" y2="97.00" stroke="#231f20" stroke-width="1.1" />
<rect x="470.30" y="79.50" width="4.20" height="4.20" fill="#111"/>
<rect x="475.90" y="78.90" width="4.20" height="4.20" fill="#111"/>
<rect x="464.50" y="86.40" width="4.20" height="4.20" fill="#111"/>
<rect x="470.30" y="89.40" width="4.20" height="4.20" fill="#111"/>
<rect x="479.50" y="89.90" width="4.20" height="4.20" fill="#111"/>
<rect x="484.60" y="87.90" width="4.20" height="4.20" fill="#111"/>
<rect x="470.30" y="97.20" width="4.20" height="4.20" fill="#111"/>
<rect x="475.90" y="95.20" width="4.20" height="4.20" fill="#111"/>
<text x="34.60" y="164.00" font-size="8.86" textLength="137.40" lengthAdjust="spacingAndGlyphs">TCGA cohort – SDC1 vs. GBM subtype</text>
<line x1="30.30" y1="189.60" x2="30.30" y2="283.60" stroke="#231f20" stroke-width="1.1" />
<line x1="29.70" y1="283.00" x2="169.50" y2="283.00" stroke="#231f20" stroke-width="1.1" />
<line x1="27.20" y1="189.80" x2="30.30" y2="189.80" stroke="#231f20" stroke-width="1.1" />
<text x="26.80" y="192.60" font-size="8.64" text-anchor="end">15</text>
<line x1="27.20" y1="220.80" x2="30.30" y2="220.80" stroke="#231f20" stroke-width="1.1" />
<text x="26.80" y="223.60" font-size="8.64" text-anchor="end">10</text>
<line x1="27.20" y1="251.80" x2="30.30" y2="251.80" stroke="#231f20" stroke-width="1.1" />
<text x="26.80" y="254.60" font-size="8.64" text-anchor="end">5</text>
<line x1="27.20" y1="283.00" x2="30.30" y2="283.00" stroke="#231f20" stroke-width="1.1" />
<text x="26.80" y="285.80" font-size="8.64" text-anchor="end">0</text>
<text transform="translate(14.2 234) rotate(-90)" font-size="8.64" text-anchor="middle" textLength="70.5" lengthAdjust="spacingAndGlyphs">SDC1 mRNA (Log2)</text>
<line x1="51.90" y1="219.30" x2="51.90" y2="229.10" stroke="#231f20" stroke-width="1.2" />
<line x1="51.90" y1="236.80" x2="51.90" y2="244.60" stroke="#231f20" stroke-width="1.2" />
<line x1="47.00" y1="219.30" x2="57.60" y2="219.30" stroke="#231f20" stroke-width="1.2" />
<line x1="47.00" y1="244.60" x2="57.60" y2="244.60" stroke="#231f20" stroke-width="1.2" />
<rect x="41.60" y="229.10" width="21.00" height="7.70" fill="#e5302c" stroke="#111" stroke-width="1.1"/>
<line x1="41.60" y1="232.70" x2="62.60" y2="232.70" stroke="#111" stroke-width="1.1" />
<line x1="84.00" y1="201.00" x2="84.00" y2="218.20" stroke="#231f20" stroke-width="1.2" />
<line x1="84.00" y1="234.40" x2="84.00" y2="249.40" stroke="#231f20" stroke-width="1.2" />
<line x1="78.60" y1="201.00" x2="89.30" y2="201.00" stroke="#231f20" stroke-width="1.2" />
<line x1="78.60" y1="249.40" x2="89.30" y2="249.40" stroke="#231f20" stroke-width="1.2" />
<rect x="73.30" y="218.20" width="21.50" height="16.20" fill="#1f4fb4" stroke="#111" stroke-width="1.1"/>
<line x1="73.30" y1="224.10" x2="94.80" y2="224.10" stroke="#111" stroke-width="1.1" />
<line x1="116.20" y1="222.40" x2="116.20" y2="228.40" stroke="#231f20" stroke-width="1.2" />
<line x1="116.20" y1="235.10" x2="116.20" y2="251.10" stroke="#231f20" stroke-width="1.2" />
<line x1="110.80" y1="222.40" x2="122.00" y2="222.40" stroke="#231f20" stroke-width="1.2" />
<line x1="110.80" y1="251.10" x2="122.00" y2="251.10" stroke="#231f20" stroke-width="1.2" />
<rect x="105.50" y="228.40" width="21.30" height="6.70" fill="#2f8a4e" stroke="#111" stroke-width="1.1"/>
<line x1="105.50" y1="232.00" x2="126.80" y2="232.00" stroke="#111" stroke-width="1.1" />
<line x1="148.20" y1="224.80" x2="148.20" y2="228.40" stroke="#231f20" stroke-width="1.2" />
<line x1="148.20" y1="239.20" x2="148.20" y2="247.50" stroke="#231f20" stroke-width="1.2" />
<line x1="143.00" y1="224.80" x2="153.80" y2="224.80" stroke="#231f20" stroke-width="1.2" />
<line x1="143.00" y1="247.50" x2="153.80" y2="247.50" stroke="#231f20" stroke-width="1.2" />
<rect x="137.80" y="228.40" width="20.70" height="10.80" fill="#0a0a0a" stroke="#111" stroke-width="1.1"/>
<line x1="137.80" y1="234.00" x2="158.50" y2="234.00" stroke="#111" stroke-width="1.1" />
<polyline points="51.80,212.90 51.80,192.90 80.40,192.90 80.40,197.60" fill="none" stroke="#231f20" stroke-width="1.1" stroke-linejoin="round"/>
<polyline points="87.80,197.60 87.80,192.20 115.60,192.20 115.60,213.50" fill="none" stroke="#231f20" stroke-width="1.1" stroke-linejoin="round"/>
<polyline points="83.60,183.60 83.60,179.40 148.20,179.40 148.20,221.70" fill="none" stroke="#231f20" stroke-width="1.1" stroke-linejoin="round"/>
<text x="42.70" y="190.40" font-size="8.64" textLength="37.60" lengthAdjust="spacingAndGlyphs"><tspan font-style="italic">P</tspan> &lt; 0.0005</text>
<text x="85.60" y="190.40" font-size="8.64" textLength="37.20" lengthAdjust="spacingAndGlyphs"><tspan font-style="italic">P</tspan> &lt; 0.0005</text>
<text x="99.00" y="178.00" font-size="8.64" textLength="37.60" lengthAdjust="spacingAndGlyphs"><tspan font-style="italic">P</tspan> &lt; 0.0005</text>
<line x1="51.80" y1="283.00" x2="51.80" y2="285.80" stroke="#231f20" stroke-width="1.1" />
<line x1="84.10" y1="283.00" x2="84.10" y2="285.80" stroke="#231f20" stroke-width="1.1" />
<line x1="115.70" y1="283.00" x2="115.70" y2="285.80" stroke="#231f20" stroke-width="1.1" />
<line x1="147.50" y1="283.00" x2="147.50" y2="285.80" stroke="#231f20" stroke-width="1.1" />
<text transform="translate(54.40 292.50) rotate(-31)" font-size="8.64" text-anchor="end" textLength="31" lengthAdjust="spacingAndGlyphs" x="0" y="3">Classical</text>
<text transform="translate(87.20 292.50) rotate(-31)" font-size="8.64" text-anchor="end" textLength="51.5" lengthAdjust="spacingAndGlyphs" x="0" y="3">Mesenchymal</text>
<text transform="translate(118.60 292.50) rotate(-31)" font-size="8.64" text-anchor="end" textLength="37.5" lengthAdjust="spacingAndGlyphs" x="0" y="3">Proneural</text>
<text transform="translate(150.50 292.50) rotate(-31)" font-size="8.64" text-anchor="end" textLength="26" lengthAdjust="spacingAndGlyphs" x="0" y="3">Neural</text>
<text x="37.50" y="359.00" font-size="8.86" textLength="133.00" lengthAdjust="spacingAndGlyphs">TCGA cohort - SDC1 vs. GBM survival</text>
<text x="37.50" y="369.60" font-size="8.86" textLength="26.80" lengthAdjust="spacingAndGlyphs"><tspan font-style="italic">P</tspan> &lt; 0.05</text>
<text x="37.50" y="382.00" font-size="8.86" textLength="115.50" lengthAdjust="spacingAndGlyphs">HR = 0.66 (95% CI = 0.41-1.01)</text>
<line x1="32.30" y1="380.40" x2="32.30" y2="475.00" stroke="#231f20" stroke-width="1.1" />
<line x1="31.70" y1="474.60" x2="175.50" y2="474.60" stroke="#231f20" stroke-width="1.1" />
<line x1="29.20" y1="474.60" x2="32.30" y2="474.60" stroke="#231f20" stroke-width="1.1" />
<text x="27.60" y="477.40" font-size="8.64" text-anchor="end" textLength="10.50" lengthAdjust="spacingAndGlyphs">0.0</text>
<line x1="29.20" y1="458.87" x2="32.30" y2="458.87" stroke="#231f20" stroke-width="1.1" />
<text x="27.60" y="461.67" font-size="8.64" text-anchor="end" textLength="10.50" lengthAdjust="spacingAndGlyphs">0.2</text>
<line x1="29.20" y1="443.14" x2="32.30" y2="443.14" stroke="#231f20" stroke-width="1.1" />
<text x="27.60" y="445.94" font-size="8.64" text-anchor="end" textLength="10.50" lengthAdjust="spacingAndGlyphs">0.4</text>
<line x1="29.20" y1="427.41" x2="32.30" y2="427.41" stroke="#231f20" stroke-width="1.1" />
<text x="27.60" y="430.21" font-size="8.64" text-anchor="end" textLength="10.50" lengthAdjust="spacingAndGlyphs">0.6</text>
<line x1="29.20" y1="411.68" x2="32.30" y2="411.68" stroke="#231f20" stroke-width="1.1" />
<text x="27.60" y="414.48" font-size="8.64" text-anchor="end" textLength="10.50" lengthAdjust="spacingAndGlyphs">0.8</text>
<line x1="29.20" y1="395.95" x2="32.30" y2="395.95" stroke="#231f20" stroke-width="1.1" />
<text x="27.60" y="398.75" font-size="8.64" text-anchor="end" textLength="10.50" lengthAdjust="spacingAndGlyphs">1.0</text>
<line x1="29.20" y1="380.22" x2="32.30" y2="380.22" stroke="#231f20" stroke-width="1.1" />
<text x="27.60" y="383.02" font-size="8.64" text-anchor="end" textLength="10.50" lengthAdjust="spacingAndGlyphs">1.2</text>
<line x1="32.60" y1="474.60" x2="32.60" y2="477.70" stroke="#231f20" stroke-width="1.1" />
<text x="35.20" y="486.60" font-size="8.64" text-anchor="middle">0</text>
<line x1="68.10" y1="474.60" x2="68.10" y2="477.70" stroke="#231f20" stroke-width="1.1" />
<text x="69.10" y="486.60" font-size="8.64" text-anchor="middle">500</text>
<line x1="103.60" y1="474.60" x2="103.60" y2="477.70" stroke="#231f20" stroke-width="1.1" />
<text x="105.60" y="486.60" font-size="8.64" text-anchor="middle">1,000</text>
<line x1="139.10" y1="474.60" x2="139.10" y2="477.70" stroke="#231f20" stroke-width="1.1" />
<text x="141.10" y="486.60" font-size="8.64" text-anchor="middle">1,500</text>
<line x1="174.60" y1="474.60" x2="174.60" y2="477.70" stroke="#231f20" stroke-width="1.1" />
<text x="176.60" y="486.60" font-size="8.64" text-anchor="middle">2,000</text>
<text x="103.30" y="499.20" font-size="8.64" text-anchor="middle" textLength="41.50" lengthAdjust="spacingAndGlyphs">Time (days)</text>
<text transform="translate(12.6 429) rotate(-90)" font-size="8.64" text-anchor="middle" textLength="48.6" lengthAdjust="spacingAndGlyphs">Survival rate</text>
<polyline points="32.50,395.80 35.00,395.80 35.00,397.50 36.65,397.50 36.65,398.85 38.30,398.85 38.30,400.20 39.75,400.20 39.75,404.05 41.20,404.05 41.20,407.90 43.10,407.90 43.10,408.85 45.00,408.85 45.00,409.80 46.90,409.80 46.90,411.25 48.80,411.25 48.80,412.70 50.75,412.70 50.75,413.65 52.70,413.65 52.70,414.60 54.15,414.60 54.15,416.05 55.60,416.05 55.60,417.50 57.05,417.50 57.05,419.40 58.50,419.40 58.50,421.30 61.30,421.30 61.30,426.20 62.75,426.20 62.75,429.10 64.20,429.10 64.20,432.00 65.65,432.00 65.65,435.80 67.10,435.80 67.10,439.60 68.55,439.60 68.55,442.50 70.00,442.50 70.00,445.40 71.90,445.40 71.90,448.30 73.80,448.30 73.80,451.20 75.75,451.20 75.75,452.60 77.70,452.60 77.70,454.00 79.15,454.00 79.15,454.75 80.60,454.75 80.60,455.50 82.05,455.50 82.05,456.25 83.50,456.25 83.50,457.00 84.92,457.00 84.92,457.70 86.35,457.70 86.35,458.40 87.78,458.40 87.78,459.10 89.20,459.10 89.20,459.80 90.74,459.80 90.74,460.38 92.28,460.38 92.28,460.96 93.82,460.96 93.82,461.54 95.36,461.54 95.36,462.12 96.90,462.12 96.90,462.70 98.35,462.70 98.35,463.18 99.80,463.18 99.80,463.65 101.25,463.65 101.25,464.12 102.70,464.12 102.70,464.60 104.37,464.60 104.37,465.50 106.03,465.50 106.03,466.40 107.70,466.40 107.70,467.30 109.24,467.30 109.24,467.49 110.79,467.49 110.79,467.68 112.33,467.68 112.33,467.87 113.88,467.87 113.88,468.06 115.42,468.06 115.42,468.24 116.97,468.24 116.97,468.43 118.51,468.43 118.51,468.62 120.06,468.62 120.06,468.81 121.60,468.81 121.60,469.00 123.13,469.00 123.13,469.07 124.67,469.07 124.67,469.13 126.20,469.13 126.20,469.20 127.73,469.20 127.73,469.27 129.27,469.27 129.27,469.33 130.80,469.33 130.80,469.40 132.33,469.40 132.33,469.47 133.87,469.47 133.87,469.53 135.40,469.53 135.40,469.60 137.15,469.60 137.15,471.00 138.90,471.00 138.90,472.40 140.65,472.40 140.65,472.95 142.40,472.95 142.40,473.50 175.00,473.50" fill="none" stroke="#111" stroke-width="1.3" stroke-linejoin="round"/>
<polyline points="32.50,395.80 35.00,395.80 35.00,397.00 36.65,397.00 36.65,398.10 38.30,398.10 38.30,399.20 40.80,399.20 40.80,407.00 42.70,407.00 42.70,418.50 43.50,418.50 43.50,426.00 47.00,426.00 47.30,426.00 47.30,424.60 48.50,424.60 48.50,430.00 50.80,430.00 50.80,431.50 52.70,431.50 52.70,434.80 54.60,434.80 54.60,439.60 57.00,439.60 57.00,443.50 59.40,443.50 59.40,445.40 60.40,445.40 60.40,456.50 65.80,456.50 67.00,456.50 67.00,461.70 84.60,461.70 84.60,465.40 107.70,465.40 107.70,470.20 175.00,470.20 175.00,474.00" fill="none" stroke="#d0484a" stroke-width="1.1" stroke-linejoin="round"/>
<line x1="96.20" y1="409.60" x2="107.30" y2="409.60" stroke="#d0484a" stroke-width="1.1" />
<line x1="96.20" y1="422.70" x2="107.30" y2="422.70" stroke="#111" stroke-width="1.3" />
<line x1="101.70" y1="408.00" x2="101.70" y2="409.60" stroke="#d0484a" stroke-width="0.8" />
<line x1="101.70" y1="421.00" x2="101.70" y2="422.70" stroke="#111" stroke-width="0.8" />
<text x="110.50" y="413.30" font-size="8.86" textLength="38.80" lengthAdjust="spacingAndGlyphs">High SDC1</text>
<text x="110.50" y="426.20" font-size="8.86" textLength="37.50" lengthAdjust="spacingAndGlyphs">Low SDC1</text>
<line x1="33.10" y1="525.60" x2="33.10" y2="622.20" stroke="#231f20" stroke-width="1.1" />
<line x1="32.50" y1="621.80" x2="178.40" y2="621.80" stroke="#231f20" stroke-width="1.1" />
<line x1="30.20" y1="526.00" x2="33.10" y2="526.00" stroke="#231f20" stroke-width="1.1" />
<text x="28.70" y="528.80" font-size="8.64" text-anchor="end" textLength="12.90" lengthAdjust="spacingAndGlyphs">800</text>
<line x1="30.20" y1="549.80" x2="33.10" y2="549.80" stroke="#231f20" stroke-width="1.1" />
<text x="28.70" y="552.60" font-size="8.64" text-anchor="end" textLength="12.90" lengthAdjust="spacingAndGlyphs">600</text>
<line x1="30.20" y1="573.80" x2="33.10" y2="573.80" stroke="#231f20" stroke-width="1.1" />
<text x="28.70" y="576.60" font-size="8.64" text-anchor="end" textLength="12.90" lengthAdjust="spacingAndGlyphs">400</text>
<line x1="30.20" y1="597.80" x2="33.10" y2="597.80" stroke="#231f20" stroke-width="1.1" />
<text x="28.70" y="600.60" font-size="8.64" text-anchor="end" textLength="12.90" lengthAdjust="spacingAndGlyphs">200</text>
<line x1="30.20" y1="621.80" x2="33.10" y2="621.80" stroke="#231f20" stroke-width="1.1" />
<text x="28.70" y="624.60" font-size="8.64" text-anchor="end">0</text>
<text transform="translate(11.2 575) rotate(-90)" font-size="8.64" text-anchor="middle" textLength="80.6" lengthAdjust="spacingAndGlyphs">Migrated HBMEC cells</text>
<rect x="54.00" y="584.10" width="41.00" height="37.70" fill="#000"/>
<rect x="115.50" y="567.00" width="41.10" height="54.80" fill="#e8372c"/>
<line x1="74.50" y1="575.60" x2="74.50" y2="584.10" stroke="#231f20" stroke-width="1.4" />
<line x1="63.50" y1="575.60" x2="84.60" y2="575.60" stroke="#231f20" stroke-width="1.4" />
<line x1="136.00" y1="555.50" x2="136.00" y2="567.00" stroke="#231f20" stroke-width="1.4" />
<line x1="125.50" y1="555.50" x2="146.60" y2="555.50" stroke="#231f20" stroke-width="1.4" />
<polyline points="74.20,571.00 74.20,544.30 136.00,544.30 136.00,549.60" fill="none" stroke="#231f20" stroke-width="1.1" stroke-linejoin="round"/>
<text x="93.10" y="542.00" font-size="8.64" textLength="28.20" lengthAdjust="spacingAndGlyphs"><tspan font-style="italic">P</tspan> &lt; 0.01</text>
<line x1="74.50" y1="621.80" x2="74.50" y2="625.00" stroke="#231f20" stroke-width="1.1" />
<line x1="136.00" y1="621.80" x2="136.00" y2="625.00" stroke="#231f20" stroke-width="1.1" />
<text x="74.20" y="637.60" font-size="8.64" text-anchor="middle" textLength="42.30" lengthAdjust="spacingAndGlyphs">Control EVs</text>
<text x="136.10" y="637.60" font-size="8.64" text-anchor="middle" textLength="40.20" lengthAdjust="spacingAndGlyphs">Patient EVs</text>
<clipPath id="clip11"><rect x="10.2" y="642.8" width="87.3" height="83.4"/></clipPath>
<filter id="bl11" x="-50%" y="-50%" width="200%" height="200%"><feGaussianBlur stdDeviation="2.2"/></filter>
<g clip-path="url(#clip11)">
<rect x="10.2" y="642.8" width="87.3" height="83.4" fill="#f3d3da"/>
<circle cx="49.7" cy="689.5" r="8.5" fill="#f7dcd9" opacity="0.55" filter="url(#bl11)"/>
<circle cx="50.9" cy="685.2" r="6.5" fill="#f7dcd9" opacity="0.55" filter="url(#bl11)"/>
<circle cx="26.3" cy="685.5" r="6.8" fill="#f7dcd9" opacity="0.55" filter="url(#bl11)"/>
<circle cx="79.4" cy="650.6" r="4.8" fill="#f7dcd9" opacity="0.55" filter="url(#bl11)"/>
<circle cx="18.1" cy="710.3" r="7.2" fill="#f7dcd9" opacity="0.55" filter="url(#bl11)"/>
<circle cx="13.9" cy="724.7" r="8.8" fill="#f7dcd9" opacity="0.55" filter="url(#bl11)"/>
<circle cx="67.3" cy="694.1" r="3.9" fill="#f7dcd9" opacity="0.55" filter="url(#bl11)"/>
<circle cx="11.5" cy="686.9" r="3.4" fill="#f7dcd9" opacity="0.55" filter="url(#bl11)"/>
<circle cx="26.8" cy="663.0" r="3.2" fill="#f7dcd9" opacity="0.55" filter="url(#bl11)"/>
<circle cx="50.7" cy="679.5" r="8.1" fill="#f7dcd9" opacity="0.55" filter="url(#bl11)"/>
<circle cx="55.5" cy="696.2" r="6.0" fill="#f7dcd9" opacity="0.55" filter="url(#bl11)"/>
<circle cx="68.0" cy="680.9" r="4.7" fill="#f7dcd9" opacity="0.55" filter="url(#bl11)"/>
<circle cx="97.3" cy="725.8" r="8.0" fill="#f7dcd9" opacity="0.55" filter="url(#bl11)"/>
<circle cx="72.0" cy="669.1" r="4.4" fill="#f7dcd9" opacity="0.55" filter="url(#bl11)"/>
<circle cx="35.4" cy="648.7" r="7.6" fill="#f7dcd9" opacity="0.55" filter="url(#bl11)"/>
<circle cx="45.2" cy="713.4" r="5.3" fill="#f7dcd9" opacity="0.55" filter="url(#bl11)"/>
<circle cx="93.8" cy="713.5" r="3.0" fill="#f7dcd9" opacity="0.55" filter="url(#bl11)"/>
<circle cx="28.5" cy="718.7" r="5.8" fill="#f7dcd9" opacity="0.55" filter="url(#bl11)"/>
<circle cx="95.8" cy="675.9" r="3.4" fill="#f7dcd9" opacity="0.55" filter="url(#bl11)"/>
<circle cx="65.2" cy="707.7" r="4.6" fill="#f7dcd9" opacity="0.55" filter="url(#bl11)"/>
<circle cx="17.8" cy="670.5" r="8.8" fill="#f7dcd9" opacity="0.55" filter="url(#bl11)"/>
<circle cx="76.4" cy="652.6" r="4.5" fill="#f7dcd9" opacity="0.55" filter="url(#bl11)"/>
<circle cx="19.0" cy="647.8" r="7.8" fill="#f7dcd9" opacity="0.55" filter="url(#bl11)"/>
<circle cx="25.7" cy="689.4" r="5.7" fill="#f7dcd9" opacity="0.55" filter="url(#bl11)"/>
<circle cx="26.8" cy="703.8" r="3.8" fill="#f7dcd9" opacity="0.55" filter="url(#bl11)"/>
<circle cx="66.4" cy="652.5" r="5.5" fill="#f7dcd9" opacity="0.55" filter="url(#bl11)"/>
<circle cx="28.8" cy="665.3" r="8.8" fill="#f7dcd9" opacity="0.55" filter="url(#bl11)"/>
<circle cx="80.3" cy="668.2" r="8.3" fill="#f7dcd9" opacity="0.55" filter="url(#bl11)"/>
<circle cx="28.6" cy="675.7" r="8.1" fill="#f7dcd9" opacity="0.55" filter="url(#bl11)"/>
<circle cx="66.2" cy="651.2" r="8.9" fill="#f7dcd9" opacity="0.55" filter="url(#bl11)"/>
<circle cx="28.8" cy="664.3" r="7.6" fill="#f7dcd9" opacity="0.55" filter="url(#bl11)"/>
<circle cx="38.9" cy="667.5" r="3.4" fill="#f7dcd9" opacity="0.55" filter="url(#bl11)"/>
<circle cx="18.1" cy="691.4" r="4.5" fill="#f7dcd9" opacity="0.55" filter="url(#bl11)"/>
<circle cx="62.7" cy="673.8" r="5.7" fill="#f7dcd9" opacity="0.55" filter="url(#bl11)"/>
<circle cx="93.9" cy="683.1" r="6.4" fill="#f7dcd9" opacity="0.55" filter="url(#bl11)"/>
<circle cx="85.8" cy="658.0" r="3.9" fill="#f7dcd9" opacity="0.55" filter="url(#bl11)"/>
<circle cx="89.5" cy="711.0" r="4.5" fill="#f7dcd9" opacity="0.55" filter="url(#bl11)"/>
<circle cx="26.8" cy="704.5" r="8.6" fill="#f7dcd9" opacity="0.55" filter="url(#bl11)"/>
<circle cx="27.4" cy="722.0" r="8.3" fill="#f7dcd9" opacity="0.55" filter="url(#bl11)"/>
<circle cx="62.9" cy="677.9" r="3.6" fill="#f7dcd9" opacity="0.55" filter="url(#bl11)"/>
<circle cx="13.6" cy="723.1" r="4.4" fill="#f7dcd9" opacity="0.55" filter="url(#bl11)"/>
<circle cx="71.7" cy="664.2" r="7.9" fill="#f7dcd9" opacity="0.55" filter="url(#bl11)"/>
<circle cx="62.3" cy="667.3" r="4.1" fill="#f7dcd9" opacity="0.55" filter="url(#bl11)"/>
<circle cx="73.1" cy="648.5" r="4.4" fill="#f7dcd9" opacity="0.55" filter="url(#bl11)"/>
<circle cx="59.0" cy="713.9" r="6.7" fill="#f7dcd9" opacity="0.55" filter="url(#bl11)"/>
<ellipse cx="35.1" cy="718.5" rx="0.41" ry="0.45" fill="#c29cba" opacity="0.61" transform="rotate(114 35.1 718.5)"/>
<ellipse cx="32.4" cy="647.6" rx="0.74" ry="0.50" fill="#a07598" opacity="0.89" transform="rotate(23 32.4 647.6)"/>
<ellipse cx="42.1" cy="716.3" rx="0.85" ry="0.50" fill="#c29cba" opacity="0.71" transform="rotate(35 42.1 716.3)"/>
<ellipse cx="61.5" cy="719.0" rx="0.92" ry="0.55" fill="#a07598" opacity="0.89" transform="rotate(5 61.5 719.0)"/>
<ellipse cx="62.2" cy="649.9" rx="0.50" ry="0.40" fill="#c29cba" opacity="0.55" transform="rotate(18 62.2 649.9)"/>
<ellipse cx="17.6" cy="688.3" rx="1.32" ry="0.70" fill="#94648f" opacity="0.79" transform="rotate(180 17.6 688.3)"/>
<ellipse cx="22.3" cy="722.2" rx="0.50" ry="0.50" fill="#a07598" opacity="0.69" transform="rotate(19 22.3 722.2)"/>
<ellipse cx="85.5" cy="677.8" rx="1.48" ry="0.80" fill="#94648f" opacity="0.73" transform="rotate(159 85.5 677.8)"/>
<ellipse cx="67.7" cy="674.7" rx="0.39" ry="0.40" fill="#6e4274" opacity="0.54" transform="rotate(29 67.7 674.7)"/>
<ellipse cx="95.9" cy="715.4" rx="0.93" ry="0.70" fill="#a07598" opacity="0.79" transform="rotate(148 95.9 715.4)"/>
<ellipse cx="50.2" cy="681.5" rx="0.88" ry="0.60" fill="#94648f" opacity="0.71" transform="rotate(79 50.2 681.5)"/>
<ellipse cx="62.5" cy="682.9" rx="0.46" ry="0.45" fill="#c29cba" opacity="0.81" transform="rotate(168 62.5 682.9)"/>
<ellipse cx="89.7" cy="664.6" rx="0.49" ry="0.40" fill="#a07598" opacity="0.77" transform="rotate(51 89.7 664.6)"/>
<ellipse cx="55.4" cy="705.2" rx="0.96" ry="0.50" fill="#c29cba" opacity="0.70" transform="rotate(61 55.4 705.2)"/>
<ellipse cx="39.1" cy="698.0" rx="0.62" ry="0.45" fill="#c29cba" opacity="0.82" transform="rotate(51 39.1 698.0)"/>
<ellipse cx="86.3" cy="675.1" rx="0.68" ry="0.60" fill="#a07598" opacity="0.55" transform="rotate(89 86.3 675.1)"/>
<ellipse cx="82.6" cy="712.9" rx="1.36" ry="0.70" fill="#94648f" opacity="0.61" transform="rotate(43 82.6 712.9)"/>
<ellipse cx="20.8" cy="682.2" rx="0.61" ry="0.45" fill="#a8789e" opacity="0.75" transform="rotate(126 20.8 682.2)"/>
<ellipse cx="68.5" cy="702.1" rx="1.12" ry="0.80" fill="#6e4274" opacity="0.53" transform="rotate(8 68.5 702.1)"/>
<ellipse cx="34.9" cy="693.3" rx="0.85" ry="0.70" fill="#c29cba" opacity="0.64" transform="rotate(166 34.9 693.3)"/>
<ellipse cx="78.7" cy="645.4" rx="0.63" ry="0.45" fill="#b48aab" opacity="0.51" transform="rotate(68 78.7 645.4)"/>
<ellipse cx="31.5" cy="655.3" rx="0.41" ry="0.40" fill="#c29cba" opacity="0.54" transform="rotate(137 31.5 655.3)"/>
<ellipse cx="67.1" cy="709.5" rx="0.45" ry="0.40" fill="#c29cba" opacity="0.83" transform="rotate(65 67.1 709.5)"/>
<ellipse cx="26.4" cy="644.7" rx="0.93" ry="0.55" fill="#6e4274" opacity="0.57" transform="rotate(69 26.4 644.7)"/>
<ellipse cx="77.6" cy="687.7" rx="0.95" ry="0.60" fill="#6e4274" opacity="0.80" transform="rotate(100 77.6 687.7)"/>
<ellipse cx="83.6" cy="700.8" rx="0.61" ry="0.45" fill="#94648f" opacity="0.86" transform="rotate(99 83.6 700.8)"/>
<ellipse cx="22.3" cy="680.7" rx="0.92" ry="0.70" fill="#94648f" opacity="0.73" transform="rotate(128 22.3 680.7)"/>
<ellipse cx="79.2" cy="720.7" rx="0.89" ry="0.55" fill="#a07598" opacity="0.58" transform="rotate(164 79.2 720.7)"/>
<ellipse cx="90.0" cy="653.9" rx="0.89" ry="0.45" fill="#b48aab" opacity="0.89" transform="rotate(137 90.0 653.9)"/>
<ellipse cx="94.5" cy="719.7" rx="0.92" ry="0.50" fill="#c29cba" opacity="0.64" transform="rotate(21 94.5 719.7)"/>
<ellipse cx="14.4" cy="671.6" rx="0.66" ry="0.55" fill="#a8789e" opacity="0.87" transform="rotate(55 14.4 671.6)"/>
<ellipse cx="80.2" cy="649.0" rx="0.87" ry="0.80" fill="#94648f" opacity="0.63" transform="rotate(35 80.2 649.0)"/>
<ellipse cx="51.3" cy="725.2" rx="1.28" ry="0.70" fill="#6e4274" opacity="0.78" transform="rotate(126 51.3 725.2)"/>
<ellipse cx="60.6" cy="699.9" rx="1.11" ry="0.80" fill="#83577f" opacity="0.72" transform="rotate(143 60.6 699.9)"/>
<ellipse cx="65.7" cy="686.4" rx="0.95" ry="0.80" fill="#6e4274" opacity="0.77" transform="rotate(156 65.7 686.4)"/>
<ellipse cx="29.0" cy="713.1" rx="0.72" ry="0.60" fill="#6e4274" opacity="0.70" transform="rotate(105 29.0 713.1)"/>
<ellipse cx="56.9" cy="684.8" rx="0.56" ry="0.60" fill="#b48aab" opacity="0.89" transform="rotate(132 56.9 684.8)"/>
<ellipse cx="89.5" cy="688.1" rx="0.86" ry="0.60" fill="#94648f" opacity="0.78" transform="rotate(16 89.5 688.1)"/>
<ellipse cx="90.6" cy="681.2" rx="0.96" ry="0.80" fill="#b48aab" opacity="0.69" transform="rotate(32 90.6 681.2)"/>
<ellipse cx="40.2" cy="717.1" rx="0.69" ry="0.55" fill="#6e4274" opacity="0.58" transform="rotate(158 40.2 717.1)"/>
<ellipse cx="13.7" cy="665.0" rx="1.38" ry="0.70" fill="#a8789e" opacity="0.51" transform="rotate(39 13.7 665.0)"/>
<ellipse cx="30.6" cy="699.7" rx="0.65" ry="0.50" fill="#c29cba" opacity="0.75" transform="rotate(26 30.6 699.7)"/>
<ellipse cx="53.8" cy="691.2" rx="1.27" ry="0.80" fill="#6e4274" opacity="0.79" transform="rotate(179 53.8 691.2)"/>
<ellipse cx="56.4" cy="679.4" rx="0.75" ry="0.55" fill="#c29cba" opacity="0.71" transform="rotate(40 56.4 679.4)"/>
<ellipse cx="57.1" cy="714.1" rx="0.68" ry="0.60" fill="#c29cba" opacity="0.59" transform="rotate(138 57.1 714.1)"/>
<ellipse cx="63.4" cy="713.5" rx="0.72" ry="0.45" fill="#c29cba" opacity="0.64" transform="rotate(46 63.4 713.5)"/>
<ellipse cx="38.1" cy="669.4" rx="0.79" ry="0.45" fill="#83577f" opacity="0.58" transform="rotate(24 38.1 669.4)"/>
<ellipse cx="22.6" cy="663.3" rx="0.83" ry="0.70" fill="#94648f" opacity="0.54" transform="rotate(107 22.6 663.3)"/>
<ellipse cx="57.5" cy="701.2" rx="0.72" ry="0.45" fill="#b48aab" opacity="0.82" transform="rotate(24 57.5 701.2)"/>
<ellipse cx="28.3" cy="699.3" rx="0.82" ry="0.80" fill="#a07598" opacity="0.70" transform="rotate(87 28.3 699.3)"/>
<ellipse cx="54.1" cy="699.6" rx="0.44" ry="0.45" fill="#a8789e" opacity="0.54" transform="rotate(9 54.1 699.6)"/>
<ellipse cx="76.2" cy="693.7" rx="0.64" ry="0.60" fill="#b48aab" opacity="0.57" transform="rotate(52 76.2 693.7)"/>
<ellipse cx="25.9" cy="656.7" rx="0.50" ry="0.50" fill="#c29cba" opacity="0.52" transform="rotate(174 25.9 656.7)"/>
<ellipse cx="50.6" cy="706.0" rx="0.71" ry="0.50" fill="#b48aab" opacity="0.71" transform="rotate(110 50.6 706.0)"/>
<ellipse cx="29.1" cy="674.2" rx="0.66" ry="0.70" fill="#c29cba" opacity="0.58" transform="rotate(104 29.1 674.2)"/>
<ellipse cx="49.9" cy="704.0" rx="0.86" ry="0.55" fill="#83577f" opacity="0.54" transform="rotate(3 49.9 704.0)"/>
<ellipse cx="38.8" cy="650.7" rx="1.49" ry="0.80" fill="#c29cba" opacity="0.86" transform="rotate(103 38.8 650.7)"/>
<ellipse cx="59.8" cy="659.3" rx="1.07" ry="0.60" fill="#a07598" opacity="0.60" transform="rotate(29 59.8 659.3)"/>
<ellipse cx="74.7" cy="707.1" rx="0.84" ry="0.80" fill="#b48aab" opacity="0.63" transform="rotate(137 74.7 707.1)"/>
<ellipse cx="70.5" cy="706.3" rx="1.08" ry="0.80" fill="#83577f" opacity="0.79" transform="rotate(18 70.5 706.3)"/>
<ellipse cx="79.2" cy="668.4" rx="0.75" ry="0.40" fill="#94648f" opacity="0.90" transform="rotate(159 79.2 668.4)"/>
<ellipse cx="15.4" cy="666.0" rx="0.89" ry="0.70" fill="#a07598" opacity="0.76" transform="rotate(145 15.4 666.0)"/>
<ellipse cx="26.7" cy="650.1" rx="0.96" ry="0.60" fill="#b48aab" opacity="0.78" transform="rotate(101 26.7 650.1)"/>
<ellipse cx="94.8" cy="645.7" rx="1.03" ry="0.60" fill="#94648f" opacity="0.60" transform="rotate(102 94.8 645.7)"/>
<ellipse cx="54.3" cy="705.8" rx="0.64" ry="0.70" fill="#b48aab" opacity="0.60" transform="rotate(70 54.3 705.8)"/>
<ellipse cx="88.5" cy="688.6" rx="1.18" ry="0.60" fill="#b48aab" opacity="0.73" transform="rotate(25 88.5 688.6)"/>
<ellipse cx="65.6" cy="709.7" rx="0.62" ry="0.40" fill="#6e4274" opacity="0.80" transform="rotate(11 65.6 709.7)"/>
<ellipse cx="44.2" cy="720.2" rx="1.08" ry="0.55" fill="#b48aab" opacity="0.84" transform="rotate(138 44.2 720.2)"/>
<ellipse cx="63.3" cy="648.6" rx="0.67" ry="0.55" fill="#b48aab" opacity="0.66" transform="rotate(79 63.3 648.6)"/>
<ellipse cx="42.4" cy="667.1" rx="1.06" ry="0.70" fill="#a07598" opacity="0.61" transform="rotate(75 42.4 667.1)"/>
<ellipse cx="13.5" cy="706.7" rx="0.96" ry="0.60" fill="#94648f" opacity="0.66" transform="rotate(175 13.5 706.7)"/>
<ellipse cx="44.5" cy="716.9" rx="0.67" ry="0.70" fill="#b48aab" opacity="0.90" transform="rotate(81 44.5 716.9)"/>
<ellipse cx="17.5" cy="717.5" rx="0.78" ry="0.55" fill="#c29cba" opacity="0.89" transform="rotate(62 17.5 717.5)"/>
<ellipse cx="15.1" cy="651.8" rx="1.52" ry="0.80" fill="#c29cba" opacity="0.56" transform="rotate(62 15.1 651.8)"/>
<ellipse cx="62.7" cy="653.2" rx="0.84" ry="0.60" fill="#b48aab" opacity="0.58" transform="rotate(13 62.7 653.2)"/>
<ellipse cx="41.6" cy="656.4" rx="0.53" ry="0.50" fill="#b48aab" opacity="0.67" transform="rotate(153 41.6 656.4)"/>
<ellipse cx="33.6" cy="691.2" rx="0.97" ry="0.55" fill="#a07598" opacity="0.71" transform="rotate(35 33.6 691.2)"/>
<ellipse cx="92.5" cy="703.6" rx="0.46" ry="0.45" fill="#b48aab" opacity="0.86" transform="rotate(129 92.5 703.6)"/>
<ellipse cx="64.5" cy="673.0" rx="0.83" ry="0.50" fill="#6e4274" opacity="0.73" transform="rotate(151 64.5 673.0)"/>
<ellipse cx="27.4" cy="666.5" rx="0.88" ry="0.45" fill="#83577f" opacity="0.70" transform="rotate(167 27.4 666.5)"/>
<ellipse cx="89.3" cy="715.3" rx="0.39" ry="0.40" fill="#c29cba" opacity="0.61" transform="rotate(108 89.3 715.3)"/>
<ellipse cx="13.5" cy="646.9" rx="0.54" ry="0.45" fill="#6e4274" opacity="0.80" transform="rotate(173 13.5 646.9)"/>
<ellipse cx="24.9" cy="662.9" rx="0.71" ry="0.50" fill="#b48aab" opacity="0.58" transform="rotate(87 24.9 662.9)"/>
<ellipse cx="53.4" cy="654.7" rx="1.43" ry="0.80" fill="#94648f" opacity="0.68" transform="rotate(159 53.4 654.7)"/>
<ellipse cx="82.7" cy="706.4" rx="0.95" ry="0.55" fill="#b48aab" opacity="0.66" transform="rotate(38 82.7 706.4)"/>
<ellipse cx="42.7" cy="697.0" rx="0.73" ry="0.60" fill="#a07598" opacity="0.80" transform="rotate(47 42.7 697.0)"/>
<ellipse cx="47.7" cy="673.9" rx="0.75" ry="0.40" fill="#b48aab" opacity="0.53" transform="rotate(21 47.7 673.9)"/>
<ellipse cx="48.0" cy="690.0" rx="1.13" ry="0.80" fill="#c29cba" opacity="0.83" transform="rotate(2 48.0 690.0)"/>
<ellipse cx="17.7" cy="661.2" rx="0.69" ry="0.70" fill="#6e4274" opacity="0.62" transform="rotate(177 17.7 661.2)"/>
<ellipse cx="39.2" cy="715.6" rx="0.73" ry="0.45" fill="#a07598" opacity="0.63" transform="rotate(30 39.2 715.6)"/>
<ellipse cx="38.7" cy="679.7" rx="1.14" ry="0.60" fill="#c29cba" opacity="0.68" transform="rotate(78 38.7 679.7)"/>
<ellipse cx="50.3" cy="661.8" rx="0.82" ry="0.70" fill="#6e4274" opacity="0.64" transform="rotate(93 50.3 661.8)"/>
<ellipse cx="13.3" cy="698.9" rx="1.07" ry="0.60" fill="#b48aab" opacity="0.80" transform="rotate(94 13.3 698.9)"/>
<ellipse cx="79.2" cy="687.8" rx="1.22" ry="0.80" fill="#6e4274" opacity="0.57" transform="rotate(116 79.2 687.8)"/>
<ellipse cx="86.3" cy="666.7" rx="0.59" ry="0.40" fill="#83577f" opacity="0.72" transform="rotate(145 86.3 666.7)"/>
<ellipse cx="36.4" cy="645.6" rx="1.09" ry="0.80" fill="#a8789e" opacity="0.73" transform="rotate(78 36.4 645.6)"/>
<ellipse cx="78.4" cy="650.6" rx="0.68" ry="0.40" fill="#a07598" opacity="0.86" transform="rotate(21 78.4 650.6)"/>
<ellipse cx="13.4" cy="697.0" rx="0.72" ry="0.40" fill="#c29cba" opacity="0.67" transform="rotate(56 13.4 697.0)"/>
<ellipse cx="52.9" cy="717.7" rx="0.70" ry="0.50" fill="#a8789e" opacity="0.64" transform="rotate(85 52.9 717.7)"/>
<ellipse cx="68.6" cy="684.0" rx="1.02" ry="0.60" fill="#a8789e" opacity="0.78" transform="rotate(11 68.6 684.0)"/>
<ellipse cx="46.2" cy="711.1" rx="1.29" ry="0.70" fill="#a07598" opacity="0.82" transform="rotate(22 46.2 711.1)"/>
<ellipse cx="87.0" cy="721.8" rx="1.03" ry="0.70" fill="#94648f" opacity="0.78" transform="rotate(28 87.0 721.8)"/>
<ellipse cx="47.2" cy="678.0" rx="0.77" ry="0.45" fill="#83577f" opacity="0.90" transform="rotate(96 47.2 678.0)"/>
<ellipse cx="69.6" cy="669.9" rx="0.82" ry="0.55" fill="#b48aab" opacity="0.61" transform="rotate(15 69.6 669.9)"/>
<ellipse cx="51.4" cy="703.3" rx="0.54" ry="0.50" fill="#c29cba" opacity="0.87" transform="rotate(15 51.4 703.3)"/>
<ellipse cx="75.4" cy="645.2" rx="0.52" ry="0.55" fill="#a8789e" opacity="0.54" transform="rotate(47 75.4 645.2)"/>
<ellipse cx="41.9" cy="691.7" rx="0.85" ry="0.60" fill="#c29cba" opacity="0.70" transform="rotate(113 41.9 691.7)"/>
<ellipse cx="27.0" cy="666.7" rx="0.87" ry="0.45" fill="#a8789e" opacity="0.75" transform="rotate(140 27.0 666.7)"/>
<ellipse cx="52.1" cy="665.0" rx="0.89" ry="0.55" fill="#a07598" opacity="0.81" transform="rotate(23 52.1 665.0)"/>
<ellipse cx="52.4" cy="661.8" rx="0.78" ry="0.40" fill="#83577f" opacity="0.82" transform="rotate(98 52.4 661.8)"/>
<ellipse cx="94.5" cy="708.5" rx="1.41" ry="0.80" fill="#a07598" opacity="0.52" transform="rotate(60 94.5 708.5)"/>
<ellipse cx="87.3" cy="714.9" rx="0.89" ry="0.50" fill="#b48aab" opacity="0.79" transform="rotate(155 87.3 714.9)"/>
<ellipse cx="85.8" cy="677.6" rx="0.85" ry="0.80" fill="#a07598" opacity="0.86" transform="rotate(132 85.8 677.6)"/>
<ellipse cx="22.4" cy="704.2" rx="0.88" ry="0.60" fill="#a07598" opacity="0.52" transform="rotate(146 22.4 704.2)"/>
<ellipse cx="76.9" cy="643.9" rx="0.85" ry="0.80" fill="#a8789e" opacity="0.55" transform="rotate(90 76.9 643.9)"/>
<ellipse cx="34.2" cy="702.1" rx="0.67" ry="0.40" fill="#b48aab" opacity="0.53" transform="rotate(150 34.2 702.1)"/>
<ellipse cx="57.6" cy="685.0" rx="0.44" ry="0.40" fill="#a8789e" opacity="0.58" transform="rotate(174 57.6 685.0)"/>
<ellipse cx="19.0" cy="711.1" rx="0.67" ry="0.45" fill="#94648f" opacity="0.71" transform="rotate(40 19.0 711.1)"/>
<ellipse cx="91.9" cy="722.3" rx="0.67" ry="0.50" fill="#a07598" opacity="0.72" transform="rotate(119 91.9 722.3)"/>
<ellipse cx="68.1" cy="649.3" rx="0.42" ry="0.40" fill="#c29cba" opacity="0.77" transform="rotate(173 68.1 649.3)"/>
<ellipse cx="50.6" cy="722.5" rx="1.30" ry="0.80" fill="#94648f" opacity="0.50" transform="rotate(96 50.6 722.5)"/>
<ellipse cx="71.9" cy="682.5" rx="0.51" ry="0.50" fill="#6e4274" opacity="0.81" transform="rotate(52 71.9 682.5)"/>
<ellipse cx="88.1" cy="656.2" rx="1.35" ry="0.70" fill="#b48aab" opacity="0.80" transform="rotate(86 88.1 656.2)"/>
<ellipse cx="75.6" cy="689.0" rx="0.44" ry="0.40" fill="#a07598" opacity="0.65" transform="rotate(28 75.6 689.0)"/>
<ellipse cx="39.3" cy="720.7" rx="1.02" ry="0.60" fill="#b48aab" opacity="0.63" transform="rotate(97 39.3 720.7)"/>
<ellipse cx="19.1" cy="655.3" rx="0.66" ry="0.40" fill="#83577f" opacity="0.78" transform="rotate(46 19.1 655.3)"/>
<ellipse cx="27.7" cy="646.8" rx="0.92" ry="0.55" fill="#6e4274" opacity="0.54" transform="rotate(8 27.7 646.8)"/>
<ellipse cx="24.6" cy="653.9" rx="0.54" ry="0.55" fill="#a8789e" opacity="0.87" transform="rotate(109 24.6 653.9)"/>
<ellipse cx="90.3" cy="655.1" rx="0.48" ry="0.45" fill="#a8789e" opacity="0.78" transform="rotate(123 90.3 655.1)"/>
<ellipse cx="39.5" cy="677.3" rx="0.54" ry="0.40" fill="#c29cba" opacity="0.78" transform="rotate(62 39.5 677.3)"/>
<ellipse cx="67.5" cy="693.3" rx="0.51" ry="0.40" fill="#a07598" opacity="0.64" transform="rotate(166 67.5 693.3)"/>
<ellipse cx="48.8" cy="689.2" rx="0.57" ry="0.45" fill="#6e4274" opacity="0.62" transform="rotate(26 48.8 689.2)"/>
<ellipse cx="63.4" cy="656.7" rx="1.51" ry="0.80" fill="#6e4274" opacity="0.72" transform="rotate(90 63.4 656.7)"/>
<ellipse cx="63.4" cy="685.6" rx="0.67" ry="0.60" fill="#c29cba" opacity="0.87" transform="rotate(180 63.4 685.6)"/>
<ellipse cx="82.5" cy="659.9" rx="0.65" ry="0.40" fill="#c29cba" opacity="0.81" transform="rotate(34 82.5 659.9)"/>
<ellipse cx="32.1" cy="690.7" rx="0.88" ry="0.70" fill="#a07598" opacity="0.87" transform="rotate(92 32.1 690.7)"/>
<ellipse cx="33.9" cy="715.7" rx="0.58" ry="0.55" fill="#c29cba" opacity="0.86" transform="rotate(139 33.9 715.7)"/>
<ellipse cx="57.8" cy="649.0" rx="0.95" ry="0.50" fill="#83577f" opacity="0.90" transform="rotate(85 57.8 649.0)"/>
<ellipse cx="62.5" cy="653.8" rx="0.97" ry="0.80" fill="#94648f" opacity="0.86" transform="rotate(61 62.5 653.8)"/>
<ellipse cx="75.9" cy="673.4" rx="0.70" ry="0.45" fill="#83577f" opacity="0.82" transform="rotate(116 75.9 673.4)"/>
<ellipse cx="13.9" cy="658.5" rx="0.87" ry="0.70" fill="#83577f" opacity="0.77" transform="rotate(97 13.9 658.5)"/>
<ellipse cx="63.7" cy="695.9" rx="0.86" ry="0.80" fill="#94648f" opacity="0.66" transform="rotate(8 63.7 695.9)"/>
<ellipse cx="23.4" cy="675.3" rx="0.65" ry="0.60" fill="#b48aab" opacity="0.71" transform="rotate(67 23.4 675.3)"/>
<ellipse cx="32.0" cy="719.6" rx="0.70" ry="0.40" fill="#c29cba" opacity="0.79" transform="rotate(37 32.0 719.6)"/>
<ellipse cx="45.6" cy="684.3" rx="0.51" ry="0.40" fill="#b48aab" opacity="0.86" transform="rotate(176 45.6 684.3)"/>
<ellipse cx="59.4" cy="676.9" rx="0.94" ry="0.50" fill="#b48aab" opacity="0.69" transform="rotate(176 59.4 676.9)"/>
<ellipse cx="46.1" cy="679.1" rx="1.14" ry="0.60" fill="#94648f" opacity="0.71" transform="rotate(134 46.1 679.1)"/>
<ellipse cx="55.6" cy="678.0" rx="0.76" ry="0.40" fill="#a07598" opacity="0.62" transform="rotate(157 55.6 678.0)"/>
<ellipse cx="88.0" cy="703.4" rx="1.04" ry="0.60" fill="#a07598" opacity="0.62" transform="rotate(151 88.0 703.4)"/>
<ellipse cx="86.0" cy="663.7" rx="0.93" ry="0.80" fill="#b48aab" opacity="0.85" transform="rotate(13 86.0 663.7)"/>
<ellipse cx="51.8" cy="652.4" rx="0.56" ry="0.45" fill="#6e4274" opacity="0.66" transform="rotate(60 51.8 652.4)"/>
<ellipse cx="86.2" cy="725.1" rx="1.14" ry="0.70" fill="#a8789e" opacity="0.85" transform="rotate(107 86.2 725.1)"/>
<ellipse cx="59.3" cy="657.2" rx="0.95" ry="0.70" fill="#c29cba" opacity="0.55" transform="rotate(18 59.3 657.2)"/>
<ellipse cx="19.6" cy="708.3" rx="0.61" ry="0.40" fill="#6e4274" opacity="0.68" transform="rotate(75 19.6 708.3)"/>
<ellipse cx="32.0" cy="668.2" rx="0.48" ry="0.50" fill="#83577f" opacity="0.86" transform="rotate(135 32.0 668.2)"/>
<ellipse cx="45.1" cy="672.8" rx="0.57" ry="0.60" fill="#83577f" opacity="0.51" transform="rotate(80 45.1 672.8)"/>
<ellipse cx="37.5" cy="684.4" rx="1.14" ry="0.80" fill="#a8789e" opacity="0.58" transform="rotate(75 37.5 684.4)"/>
<ellipse cx="84.5" cy="700.2" rx="0.50" ry="0.40" fill="#83577f" opacity="0.84" transform="rotate(120 84.5 700.2)"/>
<ellipse cx="12.6" cy="695.5" rx="0.79" ry="0.70" fill="#6e4274" opacity="0.75" transform="rotate(49 12.6 695.5)"/>
<ellipse cx="92.2" cy="723.3" rx="0.87" ry="0.70" fill="#94648f" opacity="0.83" transform="rotate(70 92.2 723.3)"/>
<ellipse cx="85.4" cy="701.8" rx="0.75" ry="0.45" fill="#a07598" opacity="0.88" transform="rotate(113 85.4 701.8)"/>
<ellipse cx="46.6" cy="657.6" rx="0.83" ry="0.80" fill="#a07598" opacity="0.78" transform="rotate(68 46.6 657.6)"/>
<ellipse cx="26.6" cy="663.0" rx="1.24" ry="0.70" fill="#a07598" opacity="0.65" transform="rotate(169 26.6 663.0)"/>
<ellipse cx="55.9" cy="653.2" rx="1.18" ry="0.60" fill="#83577f" opacity="0.86" transform="rotate(46 55.9 653.2)"/>
<ellipse cx="68.1" cy="666.3" rx="0.70" ry="0.70" fill="#c29cba" opacity="0.89" transform="rotate(112 68.1 666.3)"/>
<ellipse cx="89.4" cy="649.8" rx="0.62" ry="0.40" fill="#94648f" opacity="0.61" transform="rotate(64 89.4 649.8)"/>
<ellipse cx="47.3" cy="690.1" rx="0.89" ry="0.45" fill="#a07598" opacity="0.58" transform="rotate(45 47.3 690.1)"/>
<ellipse cx="35.0" cy="688.4" rx="0.85" ry="0.45" fill="#a8789e" opacity="0.90" transform="rotate(8 35.0 688.4)"/>
<ellipse cx="64.2" cy="718.4" rx="0.54" ry="0.60" fill="#b48aab" opacity="0.86" transform="rotate(15 64.2 718.4)"/>
<ellipse cx="26.5" cy="689.1" rx="0.88" ry="0.70" fill="#a07598" opacity="0.69" transform="rotate(8 26.5 689.1)"/>
<ellipse cx="55.3" cy="685.0" rx="1.32" ry="0.80" fill="#c29cba" opacity="0.71" transform="rotate(136 55.3 685.0)"/>
<ellipse cx="26.0" cy="707.3" rx="0.71" ry="0.45" fill="#94648f" opacity="0.59" transform="rotate(112 26.0 707.3)"/>
<ellipse cx="57.9" cy="664.7" rx="1.19" ry="0.70" fill="#a8789e" opacity="0.60" transform="rotate(139 57.9 664.7)"/>
<ellipse cx="30.1" cy="691.0" rx="0.52" ry="0.55" fill="#a07598" opacity="0.74" transform="rotate(13 30.1 691.0)"/>
<ellipse cx="60.0" cy="714.9" rx="0.48" ry="0.45" fill="#a07598" opacity="0.51" transform="rotate(127 60.0 714.9)"/>
<ellipse cx="80.0" cy="684.8" rx="1.29" ry="0.70" fill="#a07598" opacity="0.51" transform="rotate(29 80.0 684.8)"/>
<ellipse cx="88.6" cy="690.1" rx="1.06" ry="0.60" fill="#6e4274" opacity="0.60" transform="rotate(37 88.6 690.1)"/>
<ellipse cx="15.8" cy="678.4" rx="1.26" ry="0.70" fill="#a07598" opacity="0.80" transform="rotate(67 15.8 678.4)"/>
<ellipse cx="76.5" cy="684.4" rx="1.02" ry="0.70" fill="#a8789e" opacity="0.65" transform="rotate(63 76.5 684.4)"/>
<ellipse cx="24.8" cy="700.0" rx="1.41" ry="0.80" fill="#6e4274" opacity="0.52" transform="rotate(105 24.8 700.0)"/>
<ellipse cx="51.0" cy="700.7" rx="0.73" ry="0.70" fill="#94648f" opacity="0.80" transform="rotate(153 51.0 700.7)"/>
<ellipse cx="95.3" cy="655.6" rx="0.95" ry="0.55" fill="#6e4274" opacity="0.52" transform="rotate(61 95.3 655.6)"/>
<ellipse cx="46.2" cy="686.6" rx="0.60" ry="0.40" fill="#b48aab" opacity="0.69" transform="rotate(19 46.2 686.6)"/>
<ellipse cx="94.1" cy="699.1" rx="1.38" ry="0.70" fill="#a8789e" opacity="0.74" transform="rotate(75 94.1 699.1)"/>
<ellipse cx="32.8" cy="688.7" rx="0.63" ry="0.45" fill="#b48aab" opacity="0.87" transform="rotate(93 32.8 688.7)"/>
<ellipse cx="37.5" cy="720.8" rx="0.57" ry="0.60" fill="#83577f" opacity="0.66" transform="rotate(166 37.5 720.8)"/>
<ellipse cx="96.1" cy="703.8" rx="1.14" ry="0.60" fill="#c29cba" opacity="0.85" transform="rotate(45 96.1 703.8)"/>
<ellipse cx="50.7" cy="675.8" rx="1.06" ry="0.80" fill="#83577f" opacity="0.81" transform="rotate(55 50.7 675.8)"/>
<ellipse cx="46.9" cy="663.9" rx="1.43" ry="0.80" fill="#6e4274" opacity="0.69" transform="rotate(102 46.9 663.9)"/>
<ellipse cx="29.5" cy="681.9" rx="0.70" ry="0.50" fill="#b48aab" opacity="0.90" transform="rotate(173 29.5 681.9)"/>
<ellipse cx="26.7" cy="683.5" rx="0.82" ry="0.60" fill="#b48aab" opacity="0.52" transform="rotate(70 26.7 683.5)"/>
<ellipse cx="42.1" cy="666.1" rx="0.44" ry="0.40" fill="#6e4274" opacity="0.60" transform="rotate(100 42.1 666.1)"/>
<ellipse cx="59.6" cy="696.7" rx="0.46" ry="0.45" fill="#a07598" opacity="0.52" transform="rotate(92 59.6 696.7)"/>
<ellipse cx="22.9" cy="663.4" rx="0.74" ry="0.80" fill="#94648f" opacity="0.63" transform="rotate(98 22.9 663.4)"/>
<ellipse cx="49.6" cy="713.4" rx="0.65" ry="0.55" fill="#a07598" opacity="0.85" transform="rotate(171 49.6 713.4)"/>
<ellipse cx="15.9" cy="675.9" rx="0.43" ry="0.45" fill="#b48aab" opacity="0.56" transform="rotate(152 15.9 675.9)"/>
<ellipse cx="22.1" cy="660.8" rx="0.78" ry="0.55" fill="#b48aab" opacity="0.78" transform="rotate(132 22.1 660.8)"/>
<ellipse cx="71.5" cy="665.0" rx="1.14" ry="0.70" fill="#b48aab" opacity="0.56" transform="rotate(52 71.5 665.0)"/>
<ellipse cx="82.4" cy="687.3" rx="0.58" ry="0.55" fill="#b48aab" opacity="0.71" transform="rotate(91 82.4 687.3)"/>
<ellipse cx="30.5" cy="667.6" rx="0.57" ry="0.50" fill="#6e4274" opacity="0.52" transform="rotate(6 30.5 667.6)"/>
<ellipse cx="74.9" cy="683.1" rx="0.70" ry="0.40" fill="#a8789e" opacity="0.80" transform="rotate(169 74.9 683.1)"/>
<ellipse cx="68.4" cy="718.6" rx="0.75" ry="0.45" fill="#6e4274" opacity="0.77" transform="rotate(95 68.4 718.6)"/>
<ellipse cx="31.2" cy="695.3" rx="0.55" ry="0.40" fill="#a8789e" opacity="0.66" transform="rotate(15 31.2 695.3)"/>
<ellipse cx="53.0" cy="719.6" rx="0.84" ry="0.50" fill="#b48aab" opacity="0.59" transform="rotate(103 53.0 719.6)"/>
<ellipse cx="28.4" cy="706.3" rx="0.84" ry="0.50" fill="#c29cba" opacity="0.71" transform="rotate(87 28.4 706.3)"/>
<ellipse cx="88.6" cy="709.3" rx="0.65" ry="0.55" fill="#6e4274" opacity="0.84" transform="rotate(78 88.6 709.3)"/>
<ellipse cx="70.9" cy="645.7" rx="0.72" ry="0.55" fill="#94648f" opacity="0.53" transform="rotate(103 70.9 645.7)"/>
<ellipse cx="34.4" cy="674.5" rx="0.98" ry="0.80" fill="#6e4274" opacity="0.79" transform="rotate(64 34.4 674.5)"/>
<ellipse cx="17.4" cy="646.7" rx="0.76" ry="0.50" fill="#a07598" opacity="0.60" transform="rotate(171 17.4 646.7)"/>
<ellipse cx="86.9" cy="696.1" rx="0.70" ry="0.55" fill="#6e4274" opacity="0.86" transform="rotate(7 86.9 696.1)"/>
<ellipse cx="60.3" cy="720.5" rx="1.27" ry="0.80" fill="#94648f" opacity="0.75" transform="rotate(105 60.3 720.5)"/>
<ellipse cx="63.5" cy="649.0" rx="0.56" ry="0.40" fill="#a8789e" opacity="0.68" transform="rotate(98 63.5 649.0)"/>
<ellipse cx="14.5" cy="654.9" rx="0.74" ry="0.60" fill="#a07598" opacity="0.64" transform="rotate(5 14.5 654.9)"/>
<ellipse cx="24.0" cy="659.5" rx="0.74" ry="0.45" fill="#a07598" opacity="0.59" transform="rotate(0 24.0 659.5)"/>
<ellipse cx="90.2" cy="723.6" rx="0.60" ry="0.40" fill="#83577f" opacity="0.84" transform="rotate(140 90.2 723.6)"/>
<ellipse cx="17.9" cy="710.8" rx="1.57" ry="0.80" fill="#c29cba" opacity="0.63" transform="rotate(88 17.9 710.8)"/>
<ellipse cx="20.1" cy="645.4" rx="0.90" ry="0.80" fill="#c29cba" opacity="0.66" transform="rotate(40 20.1 645.4)"/>
<ellipse cx="93.4" cy="710.9" rx="0.71" ry="0.45" fill="#a07598" opacity="0.70" transform="rotate(144 93.4 710.9)"/>
<ellipse cx="36.3" cy="677.6" rx="0.82" ry="0.50" fill="#c29cba" opacity="0.70" transform="rotate(165 36.3 677.6)"/>
<ellipse cx="32.5" cy="670.3" rx="0.77" ry="0.45" fill="#6e4274" opacity="0.85" transform="rotate(17 32.5 670.3)"/>
<ellipse cx="81.0" cy="715.9" rx="0.92" ry="0.50" fill="#94648f" opacity="0.70" transform="rotate(173 81.0 715.9)"/>
<ellipse cx="52.2" cy="657.0" rx="1.49" ry="0.80" fill="#b48aab" opacity="0.52" transform="rotate(64 52.2 657.0)"/>
<ellipse cx="45.1" cy="704.0" rx="0.82" ry="0.70" fill="#b48aab" opacity="0.75" transform="rotate(94 45.1 704.0)"/>
<ellipse cx="72.3" cy="670.4" rx="0.87" ry="0.50" fill="#a8789e" opacity="0.84" transform="rotate(33 72.3 670.4)"/>
<ellipse cx="59.6" cy="678.0" rx="1.11" ry="0.70" fill="#83577f" opacity="0.83" transform="rotate(41 59.6 678.0)"/>
<ellipse cx="21.9" cy="674.5" rx="0.81" ry="0.70" fill="#a07598" opacity="0.57" transform="rotate(3 21.9 674.5)"/>
<ellipse cx="51.4" cy="700.3" rx="0.96" ry="0.80" fill="#83577f" opacity="0.61" transform="rotate(64 51.4 700.3)"/>
<ellipse cx="65.1" cy="676.1" rx="0.67" ry="0.70" fill="#83577f" opacity="0.79" transform="rotate(30 65.1 676.1)"/>
<ellipse cx="85.5" cy="659.6" rx="0.75" ry="0.50" fill="#c29cba" opacity="0.82" transform="rotate(103 85.5 659.6)"/>
<ellipse cx="39.4" cy="646.0" rx="0.86" ry="0.60" fill="#a8789e" opacity="0.65" transform="rotate(79 39.4 646.0)"/>
<ellipse cx="48.6" cy="714.6" rx="0.80" ry="0.70" fill="#a07598" opacity="0.79" transform="rotate(104 48.6 714.6)"/>
<ellipse cx="76.5" cy="723.7" rx="0.91" ry="0.55" fill="#c29cba" opacity="0.72" transform="rotate(37 76.5 723.7)"/>
<ellipse cx="48.9" cy="711.7" rx="1.12" ry="0.60" fill="#a07598" opacity="0.67" transform="rotate(38 48.9 711.7)"/>
<ellipse cx="38.8" cy="645.4" rx="0.63" ry="0.60" fill="#6e4274" opacity="0.75" transform="rotate(70 38.8 645.4)"/>
<ellipse cx="38.7" cy="650.4" rx="0.68" ry="0.45" fill="#a07598" opacity="0.72" transform="rotate(38 38.7 650.4)"/>
<ellipse cx="16.7" cy="716.5" rx="0.49" ry="0.50" fill="#c29cba" opacity="0.57" transform="rotate(123 16.7 716.5)"/>
<ellipse cx="23.1" cy="708.0" rx="1.15" ry="0.80" fill="#b48aab" opacity="0.67" transform="rotate(143 23.1 708.0)"/>
<ellipse cx="45.0" cy="648.5" rx="0.97" ry="0.60" fill="#6e4274" opacity="0.75" transform="rotate(70 45.0 648.5)"/>
<ellipse cx="27.3" cy="667.5" rx="0.62" ry="0.45" fill="#a8789e" opacity="0.83" transform="rotate(12 27.3 667.5)"/>
<ellipse cx="26.2" cy="646.0" rx="0.46" ry="0.45" fill="#6e4274" opacity="0.53" transform="rotate(91 26.2 646.0)"/>
<ellipse cx="13.2" cy="689.0" rx="0.56" ry="0.40" fill="#6e4274" opacity="0.85" transform="rotate(16 13.2 689.0)"/>
<ellipse cx="93.0" cy="644.7" rx="1.07" ry="0.60" fill="#a07598" opacity="0.82" transform="rotate(126 93.0 644.7)"/>
<ellipse cx="45.3" cy="709.2" rx="1.40" ry="0.80" fill="#c29cba" opacity="0.89" transform="rotate(25 45.3 709.2)"/>
<ellipse cx="91.1" cy="683.0" rx="1.08" ry="0.80" fill="#c29cba" opacity="0.86" transform="rotate(159 91.1 683.0)"/>
<ellipse cx="13.2" cy="690.8" rx="0.60" ry="0.45" fill="#a07598" opacity="0.65" transform="rotate(168 13.2 690.8)"/>
<ellipse cx="34.8" cy="724.6" rx="0.98" ry="0.70" fill="#c29cba" opacity="0.62" transform="rotate(17 34.8 724.6)"/>
<ellipse cx="88.4" cy="670.0" rx="0.51" ry="0.40" fill="#a07598" opacity="0.80" transform="rotate(54 88.4 670.0)"/>
<ellipse cx="15.2" cy="654.4" rx="0.56" ry="0.50" fill="#c29cba" opacity="0.64" transform="rotate(39 15.2 654.4)"/>
<ellipse cx="23.4" cy="672.3" rx="0.50" ry="0.55" fill="#94648f" opacity="0.70" transform="rotate(103 23.4 672.3)"/>
<ellipse cx="19.3" cy="721.2" rx="0.90" ry="0.80" fill="#a8789e" opacity="0.85" transform="rotate(82 19.3 721.2)"/>
<ellipse cx="16.9" cy="691.8" rx="0.82" ry="0.60" fill="#a07598" opacity="0.89" transform="rotate(56 16.9 691.8)"/>
<ellipse cx="53.8" cy="707.3" rx="0.54" ry="0.45" fill="#a8789e" opacity="0.77" transform="rotate(82 53.8 707.3)"/>
<ellipse cx="86.4" cy="707.1" rx="0.64" ry="0.60" fill="#94648f" opacity="0.75" transform="rotate(96 86.4 707.1)"/>
<ellipse cx="88.9" cy="648.3" rx="0.77" ry="0.60" fill="#6e4274" opacity="0.68" transform="rotate(160 88.9 648.3)"/>
<ellipse cx="47.4" cy="722.7" rx="0.73" ry="0.40" fill="#94648f" opacity="0.78" transform="rotate(116 47.4 722.7)"/>
<ellipse cx="48.4" cy="681.8" rx="1.16" ry="0.80" fill="#b48aab" opacity="0.65" transform="rotate(138 48.4 681.8)"/>
<ellipse cx="60.1" cy="685.7" rx="0.64" ry="0.40" fill="#6e4274" opacity="0.68" transform="rotate(151 60.1 685.7)"/>
<ellipse cx="15.1" cy="648.2" rx="0.75" ry="0.50" fill="#83577f" opacity="0.63" transform="rotate(65 15.1 648.2)"/>
<ellipse cx="74.2" cy="669.3" rx="1.39" ry="0.70" fill="#b48aab" opacity="0.66" transform="rotate(32 74.2 669.3)"/>
<ellipse cx="75.4" cy="716.8" rx="0.44" ry="0.40" fill="#83577f" opacity="0.87" transform="rotate(36 75.4 716.8)"/>
<ellipse cx="81.9" cy="708.7" rx="1.20" ry="0.60" fill="#a07598" opacity="0.53" transform="rotate(9 81.9 708.7)"/>
<ellipse cx="71.9" cy="664.2" rx="1.12" ry="0.80" fill="#a07598" opacity="0.71" transform="rotate(109 71.9 664.2)"/>
<ellipse cx="27.9" cy="666.6" rx="0.69" ry="0.70" fill="#83577f" opacity="0.72" transform="rotate(125 27.9 666.6)"/>
<ellipse cx="86.0" cy="649.7" rx="0.53" ry="0.55" fill="#a8789e" opacity="0.85" transform="rotate(16 86.0 649.7)"/>
<ellipse cx="79.2" cy="656.2" rx="0.51" ry="0.50" fill="#83577f" opacity="0.51" transform="rotate(88 79.2 656.2)"/>
<ellipse cx="92.7" cy="661.7" rx="0.68" ry="0.50" fill="#94648f" opacity="0.75" transform="rotate(7 92.7 661.7)"/>
<ellipse cx="83.6" cy="694.0" rx="0.55" ry="0.55" fill="#94648f" opacity="0.76" transform="rotate(136 83.6 694.0)"/>
<ellipse cx="64.9" cy="715.2" rx="1.06" ry="0.70" fill="#83577f" opacity="0.90" transform="rotate(96 64.9 715.2)"/>
<ellipse cx="12.5" cy="671.4" rx="0.80" ry="0.50" fill="#a8789e" opacity="0.61" transform="rotate(154 12.5 671.4)"/>
<ellipse cx="29.0" cy="660.9" rx="0.87" ry="0.80" fill="#83577f" opacity="0.73" transform="rotate(10 29.0 660.9)"/>
<ellipse cx="22.2" cy="653.2" rx="0.79" ry="0.50" fill="#6e4274" opacity="0.62" transform="rotate(2 22.2 653.2)"/>
<ellipse cx="96.1" cy="700.1" rx="0.91" ry="0.70" fill="#c29cba" opacity="0.62" transform="rotate(104 96.1 700.1)"/>
<ellipse cx="28.3" cy="649.6" rx="0.66" ry="0.50" fill="#b48aab" opacity="0.75" transform="rotate(71 28.3 649.6)"/>
<ellipse cx="50.2" cy="685.0" rx="0.59" ry="0.40" fill="#a07598" opacity="0.67" transform="rotate(126 50.2 685.0)"/>
<ellipse cx="60.6" cy="667.0" rx="1.56" ry="0.80" fill="#a07598" opacity="0.53" transform="rotate(165 60.6 667.0)"/>
<ellipse cx="50.0" cy="719.8" rx="0.94" ry="0.55" fill="#83577f" opacity="0.74" transform="rotate(114 50.0 719.8)"/>
<ellipse cx="65.8" cy="673.7" rx="0.77" ry="0.50" fill="#a07598" opacity="0.76" transform="rotate(68 65.8 673.7)"/>
<ellipse cx="36.2" cy="700.4" rx="0.82" ry="0.70" fill="#6e4274" opacity="0.66" transform="rotate(33 36.2 700.4)"/>
<ellipse cx="61.8" cy="714.3" rx="0.66" ry="0.55" fill="#b48aab" opacity="0.54" transform="rotate(151 61.8 714.3)"/>
<ellipse cx="20.1" cy="697.3" rx="0.55" ry="0.55" fill="#83577f" opacity="0.65" transform="rotate(95 20.1 697.3)"/>
<ellipse cx="13.8" cy="691.8" rx="1.39" ry="0.70" fill="#a07598" opacity="0.83" transform="rotate(5 13.8 691.8)"/>
<ellipse cx="68.2" cy="656.5" rx="0.43" ry="0.40" fill="#a07598" opacity="0.70" transform="rotate(122 68.2 656.5)"/>
<ellipse cx="68.4" cy="693.1" rx="0.90" ry="0.45" fill="#94648f" opacity="0.66" transform="rotate(58 68.4 693.1)"/>
<ellipse cx="66.6" cy="700.9" rx="0.80" ry="0.40" fill="#94648f" opacity="0.76" transform="rotate(167 66.6 700.9)"/>
<ellipse cx="90.7" cy="686.0" rx="0.87" ry="0.60" fill="#83577f" opacity="0.83" transform="rotate(131 90.7 686.0)"/>
<ellipse cx="44.9" cy="704.2" rx="0.43" ry="0.40" fill="#94648f" opacity="0.76" transform="rotate(159 44.9 704.2)"/>
<ellipse cx="78.3" cy="717.6" rx="1.38" ry="0.70" fill="#a8789e" opacity="0.69" transform="rotate(30 78.3 717.6)"/>
<ellipse cx="48.1" cy="656.5" rx="0.65" ry="0.50" fill="#a8789e" opacity="0.83" transform="rotate(6 48.1 656.5)"/>
<ellipse cx="20.5" cy="677.4" rx="1.18" ry="0.60" fill="#6e4274" opacity="0.81" transform="rotate(24 20.5 677.4)"/>
<ellipse cx="36.9" cy="685.1" rx="0.61" ry="0.40" fill="#94648f" opacity="0.55" transform="rotate(22 36.9 685.1)"/>
<ellipse cx="54.7" cy="668.9" rx="0.59" ry="0.50" fill="#a8789e" opacity="0.74" transform="rotate(119 54.7 668.9)"/>
<ellipse cx="15.8" cy="661.5" rx="0.83" ry="0.55" fill="#83577f" opacity="0.68" transform="rotate(26 15.8 661.5)"/>
<ellipse cx="80.3" cy="684.8" rx="0.66" ry="0.45" fill="#6e4274" opacity="0.66" transform="rotate(156 80.3 684.8)"/>
<ellipse cx="93.4" cy="701.8" rx="0.72" ry="0.40" fill="#b48aab" opacity="0.59" transform="rotate(28 93.4 701.8)"/>
<ellipse cx="73.8" cy="701.8" rx="0.67" ry="0.45" fill="#a07598" opacity="0.51" transform="rotate(28 73.8 701.8)"/>
<ellipse cx="53.3" cy="718.0" rx="1.04" ry="0.60" fill="#c29cba" opacity="0.81" transform="rotate(99 53.3 718.0)"/>
<ellipse cx="46.7" cy="650.2" rx="0.51" ry="0.50" fill="#6e4274" opacity="0.87" transform="rotate(84 46.7 650.2)"/>
<ellipse cx="87.6" cy="660.4" rx="0.91" ry="0.60" fill="#83577f" opacity="0.70" transform="rotate(24 87.6 660.4)"/>
<ellipse cx="44.8" cy="668.2" rx="0.83" ry="0.70" fill="#6e4274" opacity="0.65" transform="rotate(109 44.8 668.2)"/>
<ellipse cx="78.7" cy="675.1" rx="0.89" ry="0.70" fill="#b48aab" opacity="0.55" transform="rotate(79 78.7 675.1)"/>
<ellipse cx="82.5" cy="648.8" rx="0.90" ry="0.60" fill="#b48aab" opacity="0.66" transform="rotate(57 82.5 648.8)"/>
<ellipse cx="68.8" cy="701.8" rx="0.52" ry="0.40" fill="#a07598" opacity="0.88" transform="rotate(133 68.8 701.8)"/>
<ellipse cx="75.1" cy="683.5" rx="0.54" ry="0.40" fill="#a07598" opacity="0.89" transform="rotate(1 75.1 683.5)"/>
<ellipse cx="69.9" cy="672.9" rx="0.88" ry="0.45" fill="#a07598" opacity="0.78" transform="rotate(77 69.9 672.9)"/>
<ellipse cx="29.1" cy="705.9" rx="0.44" ry="0.40" fill="#a07598" opacity="0.55" transform="rotate(88 29.1 705.9)"/>
<ellipse cx="15.7" cy="651.4" rx="0.60" ry="0.50" fill="#6e4274" opacity="0.82" transform="rotate(108 15.7 651.4)"/>
<ellipse cx="66.4" cy="674.2" rx="0.61" ry="0.40" fill="#a07598" opacity="0.54" transform="rotate(101 66.4 674.2)"/>
<ellipse cx="95.1" cy="711.5" rx="0.62" ry="0.50" fill="#94648f" opacity="0.83" transform="rotate(73 95.1 711.5)"/>
<ellipse cx="66.0" cy="648.4" rx="0.76" ry="0.80" fill="#b48aab" opacity="0.75" transform="rotate(141 66.0 648.4)"/>
<ellipse cx="23.0" cy="671.5" rx="1.11" ry="0.70" fill="#94648f" opacity="0.77" transform="rotate(54 23.0 671.5)"/>
<ellipse cx="60.7" cy="644.3" rx="0.95" ry="0.70" fill="#b48aab" opacity="0.77" transform="rotate(19 60.7 644.3)"/>
<ellipse cx="25.9" cy="650.6" rx="0.74" ry="0.70" fill="#a8789e" opacity="0.80" transform="rotate(173 25.9 650.6)"/>
<ellipse cx="48.5" cy="653.4" rx="0.85" ry="0.50" fill="#c29cba" opacity="0.83" transform="rotate(91 48.5 653.4)"/>
<ellipse cx="68.0" cy="688.4" rx="0.41" ry="0.40" fill="#c29cba" opacity="0.62" transform="rotate(167 68.0 688.4)"/>
<ellipse cx="59.0" cy="718.9" rx="0.61" ry="0.45" fill="#94648f" opacity="0.71" transform="rotate(31 59.0 718.9)"/>
<ellipse cx="24.4" cy="666.1" rx="1.04" ry="0.55" fill="#94648f" opacity="0.87" transform="rotate(51 24.4 666.1)"/>
<ellipse cx="68.7" cy="719.4" rx="0.91" ry="0.55" fill="#b48aab" opacity="0.66" transform="rotate(123 68.7 719.4)"/>
<ellipse cx="20.2" cy="704.2" rx="0.69" ry="0.45" fill="#a8789e" opacity="0.58" transform="rotate(88 20.2 704.2)"/>
<ellipse cx="81.4" cy="696.8" rx="0.98" ry="0.55" fill="#6e4274" opacity="0.77" transform="rotate(115 81.4 696.8)"/>
<ellipse cx="60.2" cy="712.4" rx="0.77" ry="0.50" fill="#a8789e" opacity="0.69" transform="rotate(101 60.2 712.4)"/>
<ellipse cx="39.2" cy="700.6" rx="0.53" ry="0.45" fill="#c29cba" opacity="0.79" transform="rotate(147 39.2 700.6)"/>
<ellipse cx="15.0" cy="718.8" rx="0.94" ry="0.80" fill="#a8789e" opacity="0.60" transform="rotate(54 15.0 718.8)"/>
<ellipse cx="48.1" cy="694.1" rx="1.18" ry="0.60" fill="#83577f" opacity="0.86" transform="rotate(116 48.1 694.1)"/>
<ellipse cx="44.2" cy="653.4" rx="0.71" ry="0.45" fill="#a8789e" opacity="0.77" transform="rotate(128 44.2 653.4)"/>
<ellipse cx="83.5" cy="646.7" rx="1.07" ry="0.70" fill="#a07598" opacity="0.72" transform="rotate(85 83.5 646.7)"/>
<ellipse cx="53.0" cy="680.2" rx="1.43" ry="0.80" fill="#a07598" opacity="0.54" transform="rotate(39 53.0 680.2)"/>
<ellipse cx="29.8" cy="660.0" rx="0.94" ry="0.60" fill="#c29cba" opacity="0.55" transform="rotate(48 29.8 660.0)"/>
<ellipse cx="60.9" cy="717.0" rx="0.63" ry="0.50" fill="#c29cba" opacity="0.54" transform="rotate(74 60.9 717.0)"/>
<ellipse cx="63.1" cy="711.4" rx="0.59" ry="0.50" fill="#94648f" opacity="0.51" transform="rotate(137 63.1 711.4)"/>
<ellipse cx="87.1" cy="698.2" rx="0.76" ry="0.50" fill="#a07598" opacity="0.61" transform="rotate(19 87.1 698.2)"/>
<ellipse cx="34.5" cy="667.0" rx="0.53" ry="0.50" fill="#6e4274" opacity="0.66" transform="rotate(139 34.5 667.0)"/>
<ellipse cx="84.1" cy="693.4" rx="1.02" ry="0.60" fill="#a8789e" opacity="0.71" transform="rotate(168 84.1 693.4)"/>
<ellipse cx="71.1" cy="691.8" rx="0.87" ry="0.70" fill="#a07598" opacity="0.67" transform="rotate(92 71.1 691.8)"/>
<ellipse cx="66.8" cy="688.0" rx="0.91" ry="0.55" fill="#b48aab" opacity="0.64" transform="rotate(55 66.8 688.0)"/>
<ellipse cx="91.7" cy="685.0" rx="0.77" ry="0.60" fill="#c29cba" opacity="0.59" transform="rotate(140 91.7 685.0)"/>
<ellipse cx="20.6" cy="720.4" rx="0.69" ry="0.70" fill="#c29cba" opacity="0.86" transform="rotate(26 20.6 720.4)"/>
<ellipse cx="90.8" cy="722.0" rx="0.56" ry="0.45" fill="#a07598" opacity="0.85" transform="rotate(15 90.8 722.0)"/>
<ellipse cx="92.2" cy="697.9" rx="0.61" ry="0.45" fill="#94648f" opacity="0.56" transform="rotate(175 92.2 697.9)"/>
<ellipse cx="94.3" cy="723.1" rx="0.59" ry="0.60" fill="#6e4274" opacity="0.71" transform="rotate(47 94.3 723.1)"/>
<ellipse cx="18.5" cy="700.3" rx="1.15" ry="0.60" fill="#b48aab" opacity="0.85" transform="rotate(26 18.5 700.3)"/>
<ellipse cx="46.8" cy="683.4" rx="0.57" ry="0.40" fill="#c29cba" opacity="0.72" transform="rotate(143 46.8 683.4)"/>
<ellipse cx="18.8" cy="717.0" rx="0.57" ry="0.50" fill="#a07598" opacity="0.61" transform="rotate(38 18.8 717.0)"/>
<ellipse cx="94.5" cy="721.1" rx="0.62" ry="0.45" fill="#a8789e" opacity="0.82" transform="rotate(155 94.5 721.1)"/>
<ellipse cx="53.0" cy="691.9" rx="1.10" ry="0.70" fill="#6e4274" opacity="0.75" transform="rotate(43 53.0 691.9)"/>
<ellipse cx="18.6" cy="686.1" rx="0.41" ry="0.40" fill="#94648f" opacity="0.85" transform="rotate(6 18.6 686.1)"/>
<ellipse cx="46.5" cy="655.9" rx="0.70" ry="0.45" fill="#c29cba" opacity="0.84" transform="rotate(171 46.5 655.9)"/>
<ellipse cx="80.1" cy="643.9" rx="0.46" ry="0.40" fill="#a8789e" opacity="0.66" transform="rotate(59 80.1 643.9)"/>
<ellipse cx="46.0" cy="671.1" rx="0.46" ry="0.50" fill="#b48aab" opacity="0.81" transform="rotate(67 46.0 671.1)"/>
<ellipse cx="15.3" cy="673.9" rx="1.03" ry="0.70" fill="#a07598" opacity="0.64" transform="rotate(166 15.3 673.9)"/>
<ellipse cx="31.2" cy="715.6" rx="0.48" ry="0.45" fill="#83577f" opacity="0.60" transform="rotate(122 31.2 715.6)"/>
<ellipse cx="30.0" cy="718.6" rx="0.74" ry="0.45" fill="#83577f" opacity="0.74" transform="rotate(152 30.0 718.6)"/>
<ellipse cx="55.8" cy="664.6" rx="0.50" ry="0.40" fill="#83577f" opacity="0.53" transform="rotate(130 55.8 664.6)"/>
<ellipse cx="39.3" cy="702.9" rx="1.24" ry="0.70" fill="#94648f" opacity="0.72" transform="rotate(20 39.3 702.9)"/>
<ellipse cx="69.6" cy="684.8" rx="0.52" ry="0.55" fill="#83577f" opacity="0.72" transform="rotate(35 69.6 684.8)"/>
<ellipse cx="42.8" cy="672.8" rx="0.53" ry="0.40" fill="#a8789e" opacity="0.55" transform="rotate(171 42.8 672.8)"/>
<ellipse cx="77.9" cy="671.3" rx="1.05" ry="0.80" fill="#83577f" opacity="0.61" transform="rotate(151 77.9 671.3)"/>
<ellipse cx="91.7" cy="649.3" rx="0.77" ry="0.80" fill="#94648f" opacity="0.51" transform="rotate(16 91.7 649.3)"/>
<ellipse cx="47.4" cy="656.7" rx="0.43" ry="0.40" fill="#83577f" opacity="0.70" transform="rotate(57 47.4 656.7)"/>
<ellipse cx="90.7" cy="671.6" rx="0.80" ry="0.45" fill="#83577f" opacity="0.63" transform="rotate(10 90.7 671.6)"/>
<ellipse cx="27.6" cy="654.8" rx="1.31" ry="0.70" fill="#83577f" opacity="0.79" transform="rotate(171 27.6 654.8)"/>
<ellipse cx="49.9" cy="674.1" rx="0.42" ry="0.40" fill="#a07598" opacity="0.85" transform="rotate(47 49.9 674.1)"/>
<ellipse cx="73.1" cy="698.9" rx="0.50" ry="0.40" fill="#a07598" opacity="0.73" transform="rotate(70 73.1 698.9)"/>
<ellipse cx="56.1" cy="687.8" rx="1.04" ry="0.60" fill="#b48aab" opacity="0.71" transform="rotate(23 56.1 687.8)"/>
<ellipse cx="18.2" cy="661.9" rx="0.79" ry="0.40" fill="#a07598" opacity="0.87" transform="rotate(173 18.2 661.9)"/>
<ellipse cx="54.2" cy="656.9" rx="0.76" ry="0.50" fill="#c29cba" opacity="0.62" transform="rotate(153 54.2 656.9)"/>
<ellipse cx="50.4" cy="692.9" rx="1.13" ry="0.80" fill="#b48aab" opacity="0.58" transform="rotate(120 50.4 692.9)"/>
<ellipse cx="94.6" cy="645.8" rx="1.07" ry="0.80" fill="#6e4274" opacity="0.52" transform="rotate(41 94.6 645.8)"/>
<ellipse cx="15.1" cy="676.5" rx="1.57" ry="0.80" fill="#83577f" opacity="0.51" transform="rotate(108 15.1 676.5)"/>
<ellipse cx="79.4" cy="684.4" rx="0.99" ry="0.70" fill="#94648f" opacity="0.57" transform="rotate(3 79.4 684.4)"/>
<ellipse cx="25.4" cy="722.9" rx="0.92" ry="0.50" fill="#a07598" opacity="0.72" transform="rotate(176 25.4 722.9)"/>
<ellipse cx="51.5" cy="694.6" rx="0.65" ry="0.50" fill="#83577f" opacity="0.85" transform="rotate(148 51.5 694.6)"/>
<ellipse cx="63.4" cy="678.8" rx="0.71" ry="0.60" fill="#b48aab" opacity="0.88" transform="rotate(125 63.4 678.8)"/>
<ellipse cx="31.1" cy="720.0" rx="0.86" ry="0.80" fill="#c29cba" opacity="0.70" transform="rotate(73 31.1 720.0)"/>
<ellipse cx="76.5" cy="719.8" rx="0.76" ry="0.50" fill="#83577f" opacity="0.66" transform="rotate(179 76.5 719.8)"/>
<ellipse cx="92.0" cy="666.9" rx="0.66" ry="0.40" fill="#c29cba" opacity="0.64" transform="rotate(143 92.0 666.9)"/>
<ellipse cx="20.8" cy="704.5" rx="1.29" ry="0.80" fill="#6e4274" opacity="0.77" transform="rotate(169 20.8 704.5)"/>
<ellipse cx="53.6" cy="665.7" rx="0.96" ry="0.60" fill="#a8789e" opacity="0.68" transform="rotate(23 53.6 665.7)"/>
<ellipse cx="38.5" cy="695.8" rx="0.42" ry="0.40" fill="#c29cba" opacity="0.51" transform="rotate(137 38.5 695.8)"/>
<ellipse cx="49.0" cy="650.7" rx="0.93" ry="0.80" fill="#94648f" opacity="0.83" transform="rotate(10 49.0 650.7)"/>
<ellipse cx="32.9" cy="717.3" rx="0.82" ry="0.60" fill="#94648f" opacity="0.72" transform="rotate(18 32.9 717.3)"/>
<ellipse cx="53.0" cy="683.1" rx="0.91" ry="0.50" fill="#a07598" opacity="0.70" transform="rotate(87 53.0 683.1)"/>
<ellipse cx="90.2" cy="696.4" rx="0.97" ry="0.70" fill="#a8789e" opacity="0.62" transform="rotate(170 90.2 696.4)"/>
<ellipse cx="89.4" cy="699.6" rx="1.35" ry="0.80" fill="#c29cba" opacity="0.82" transform="rotate(45 89.4 699.6)"/>
<ellipse cx="21.2" cy="682.5" rx="0.66" ry="0.70" fill="#83577f" opacity="0.82" transform="rotate(131 21.2 682.5)"/>
<ellipse cx="67.3" cy="682.1" rx="1.15" ry="0.70" fill="#6e4274" opacity="0.66" transform="rotate(164 67.3 682.1)"/>
<ellipse cx="85.0" cy="723.3" rx="0.53" ry="0.45" fill="#94648f" opacity="0.62" transform="rotate(99 85.0 723.3)"/>
<ellipse cx="37.7" cy="658.9" rx="1.21" ry="0.70" fill="#a8789e" opacity="0.89" transform="rotate(159 37.7 658.9)"/>
<ellipse cx="66.6" cy="704.8" rx="0.97" ry="0.70" fill="#94648f" opacity="0.66" transform="rotate(100 66.6 704.8)"/>
<ellipse cx="78.2" cy="714.9" rx="1.16" ry="0.60" fill="#a07598" opacity="0.76" transform="rotate(125 78.2 714.9)"/>
<ellipse cx="30.4" cy="701.7" rx="0.75" ry="0.40" fill="#94648f" opacity="0.70" transform="rotate(58 30.4 701.7)"/>
<ellipse cx="30.9" cy="694.1" rx="0.43" ry="0.40" fill="#c29cba" opacity="0.67" transform="rotate(119 30.9 694.1)"/>
<ellipse cx="34.5" cy="659.0" rx="1.16" ry="0.70" fill="#a07598" opacity="0.88" transform="rotate(84 34.5 659.0)"/>
<ellipse cx="39.2" cy="648.2" rx="0.59" ry="0.40" fill="#a07598" opacity="0.73" transform="rotate(77 39.2 648.2)"/>
<ellipse cx="93.3" cy="706.8" rx="0.60" ry="0.50" fill="#94648f" opacity="0.71" transform="rotate(124 93.3 706.8)"/>
<ellipse cx="16.8" cy="651.7" rx="0.67" ry="0.70" fill="#6e4274" opacity="0.80" transform="rotate(134 16.8 651.7)"/>
<ellipse cx="32.5" cy="660.0" rx="0.70" ry="0.60" fill="#a07598" opacity="0.63" transform="rotate(17 32.5 660.0)"/>
<ellipse cx="40.2" cy="721.8" rx="0.92" ry="0.50" fill="#6e4274" opacity="0.84" transform="rotate(136 40.2 721.8)"/>
<ellipse cx="46.5" cy="676.9" rx="0.64" ry="0.45" fill="#a8789e" opacity="0.88" transform="rotate(31 46.5 676.9)"/>
<ellipse cx="47.8" cy="682.5" rx="0.88" ry="0.55" fill="#a8789e" opacity="0.82" transform="rotate(128 47.8 682.5)"/>
<ellipse cx="88.2" cy="664.2" rx="1.20" ry="0.60" fill="#b48aab" opacity="0.71" transform="rotate(48 88.2 664.2)"/>
<ellipse cx="26.7" cy="724.1" rx="0.66" ry="0.60" fill="#83577f" opacity="0.89" transform="rotate(149 26.7 724.1)"/>
<ellipse cx="73.2" cy="669.8" rx="1.29" ry="0.80" fill="#a8789e" opacity="0.78" transform="rotate(116 73.2 669.8)"/>
<ellipse cx="16.4" cy="723.2" rx="1.07" ry="0.55" fill="#83577f" opacity="0.86" transform="rotate(14 16.4 723.2)"/>
<ellipse cx="58.1" cy="644.0" rx="0.87" ry="0.55" fill="#c29cba" opacity="0.85" transform="rotate(108 58.1 644.0)"/>
<ellipse cx="53.7" cy="707.7" rx="0.81" ry="0.45" fill="#b48aab" opacity="0.60" transform="rotate(157 53.7 707.7)"/>
<ellipse cx="46.1" cy="650.9" rx="0.70" ry="0.60" fill="#83577f" opacity="0.73" transform="rotate(103 46.1 650.9)"/>
<ellipse cx="12.6" cy="649.7" rx="0.78" ry="0.55" fill="#c29cba" opacity="0.54" transform="rotate(62 12.6 649.7)"/>
<ellipse cx="83.9" cy="683.4" rx="0.75" ry="0.60" fill="#a8789e" opacity="0.89" transform="rotate(30 83.9 683.4)"/>
<ellipse cx="39.8" cy="645.6" rx="1.35" ry="0.80" fill="#a8789e" opacity="0.73" transform="rotate(102 39.8 645.6)"/>
<ellipse cx="85.4" cy="659.4" rx="0.40" ry="0.40" fill="#a8789e" opacity="0.61" transform="rotate(53 85.4 659.4)"/>
<ellipse cx="42.4" cy="679.4" rx="0.69" ry="0.55" fill="#b48aab" opacity="0.75" transform="rotate(105 42.4 679.4)"/>
<ellipse cx="85.6" cy="694.4" rx="0.68" ry="0.40" fill="#b48aab" opacity="0.75" transform="rotate(140 85.6 694.4)"/>
<ellipse cx="50.0" cy="674.4" rx="1.06" ry="0.60" fill="#a8789e" opacity="0.66" transform="rotate(171 50.0 674.4)"/>
<ellipse cx="17.6" cy="662.3" rx="0.70" ry="0.45" fill="#c29cba" opacity="0.74" transform="rotate(171 17.6 662.3)"/>
<ellipse cx="50.0" cy="661.1" rx="0.78" ry="0.50" fill="#83577f" opacity="0.53" transform="rotate(150 50.0 661.1)"/>
<ellipse cx="94.8" cy="671.6" rx="0.64" ry="0.70" fill="#b48aab" opacity="0.67" transform="rotate(109 94.8 671.6)"/>
<ellipse cx="33.3" cy="693.7" rx="0.60" ry="0.45" fill="#a8789e" opacity="0.90" transform="rotate(50 33.3 693.7)"/>
<ellipse cx="75.0" cy="679.1" rx="0.53" ry="0.55" fill="#6e4274" opacity="0.59" transform="rotate(166 75.0 679.1)"/>
<ellipse cx="44.6" cy="691.9" rx="1.22" ry="0.70" fill="#c29cba" opacity="0.80" transform="rotate(148 44.6 691.9)"/>
<ellipse cx="52.0" cy="664.7" rx="0.94" ry="0.70" fill="#6e4274" opacity="0.56" transform="rotate(6 52.0 664.7)"/>
</g>
<clipPath id="clip23"><rect x="101.2" y="642.8" width="87.3" height="83.4"/></clipPath>
<filter id="bl23" x="-50%" y="-50%" width="200%" height="200%"><feGaussianBlur stdDeviation="2.2"/></filter>
<g clip-path="url(#clip23)">
<rect x="101.2" y="642.8" width="87.3" height="83.4" fill="#f3d3da"/>
<circle cx="181.9" cy="721.9" r="8.4" fill="#f7dcd9" opacity="0.55" filter="url(#bl23)"/>
<circle cx="108.5" cy="692.2" r="5.5" fill="#f7dcd9" opacity="0.55" filter="url(#bl23)"/>
<circle cx="147.5" cy="653.7" r="4.2" fill="#f7dcd9" opacity="0.55" filter="url(#bl23)"/>
<circle cx="140.0" cy="661.2" r="5.7" fill="#f7dcd9" opacity="0.55" filter="url(#bl23)"/>
<circle cx="103.4" cy="650.0" r="7.3" fill="#f7dcd9" opacity="0.55" filter="url(#bl23)"/>
<circle cx="138.0" cy="685.6" r="7.4" fill="#f7dcd9" opacity="0.55" filter="url(#bl23)"/>
<circle cx="132.5" cy="647.6" r="7.7" fill="#f7dcd9" opacity="0.55" filter="url(#bl23)"/>
<circle cx="152.6" cy="697.7" r="6.7" fill="#f7dcd9" opacity="0.55" filter="url(#bl23)"/>
<circle cx="185.9" cy="673.1" r="7.6" fill="#f7dcd9" opacity="0.55" filter="url(#bl23)"/>
<circle cx="133.4" cy="690.5" r="7.0" fill="#f7dcd9" opacity="0.55" filter="url(#bl23)"/>
<circle cx="128.6" cy="650.0" r="5.8" fill="#f7dcd9" opacity="0.55" filter="url(#bl23)"/>
<circle cx="163.9" cy="692.1" r="5.7" fill="#f7dcd9" opacity="0.55" filter="url(#bl23)"/>
<circle cx="157.3" cy="658.0" r="4.1" fill="#f7dcd9" opacity="0.55" filter="url(#bl23)"/>
<circle cx="129.4" cy="710.8" r="4.2" fill="#f7dcd9" opacity="0.55" filter="url(#bl23)"/>
<circle cx="111.2" cy="651.0" r="3.2" fill="#f7dcd9" opacity="0.55" filter="url(#bl23)"/>
<circle cx="125.3" cy="690.6" r="7.9" fill="#f7dcd9" opacity="0.55" filter="url(#bl23)"/>
<circle cx="130.1" cy="673.6" r="4.7" fill="#f7dcd9" opacity="0.55" filter="url(#bl23)"/>
<circle cx="127.8" cy="707.7" r="6.3" fill="#f7dcd9" opacity="0.55" filter="url(#bl23)"/>
<circle cx="123.8" cy="651.7" r="7.7" fill="#f7dcd9" opacity="0.55" filter="url(#bl23)"/>
<circle cx="162.9" cy="711.9" r="4.4" fill="#f7dcd9" opacity="0.55" filter="url(#bl23)"/>
<circle cx="148.8" cy="719.4" r="6.6" fill="#f7dcd9" opacity="0.55" filter="url(#bl23)"/>
<circle cx="183.7" cy="656.7" r="8.9" fill="#f7dcd9" opacity="0.55" filter="url(#bl23)"/>
<circle cx="106.1" cy="677.5" r="3.1" fill="#f7dcd9" opacity="0.55" filter="url(#bl23)"/>
<circle cx="171.9" cy="700.1" r="8.8" fill="#f7dcd9" opacity="0.55" filter="url(#bl23)"/>
<circle cx="171.5" cy="721.9" r="6.2" fill="#f7dcd9" opacity="0.55" filter="url(#bl23)"/>
<circle cx="187.5" cy="705.3" r="5.1" fill="#f7dcd9" opacity="0.55" filter="url(#bl23)"/>
<circle cx="186.3" cy="674.2" r="4.2" fill="#f7dcd9" opacity="0.55" filter="url(#bl23)"/>
<circle cx="107.8" cy="681.7" r="4.2" fill="#f7dcd9" opacity="0.55" filter="url(#bl23)"/>
<circle cx="182.7" cy="722.1" r="4.3" fill="#f7dcd9" opacity="0.55" filter="url(#bl23)"/>
<circle cx="110.2" cy="686.9" r="4.0" fill="#f7dcd9" opacity="0.55" filter="url(#bl23)"/>
<circle cx="148.7" cy="710.6" r="4.5" fill="#f7dcd9" opacity="0.55" filter="url(#bl23)"/>
<circle cx="138.0" cy="717.9" r="5.7" fill="#f7dcd9" opacity="0.55" filter="url(#bl23)"/>
<circle cx="131.1" cy="717.2" r="7.9" fill="#f7dcd9" opacity="0.55" filter="url(#bl23)"/>
<circle cx="179.3" cy="700.2" r="5.5" fill="#f7dcd9" opacity="0.55" filter="url(#bl23)"/>
<circle cx="161.7" cy="712.0" r="6.8" fill="#f7dcd9" opacity="0.55" filter="url(#bl23)"/>
<circle cx="122.0" cy="667.4" r="5.5" fill="#f7dcd9" opacity="0.55" filter="url(#bl23)"/>
<circle cx="168.6" cy="689.3" r="6.3" fill="#f7dcd9" opacity="0.55" filter="url(#bl23)"/>
<circle cx="173.4" cy="651.8" r="6.8" fill="#f7dcd9" opacity="0.55" filter="url(#bl23)"/>
<circle cx="130.2" cy="689.5" r="8.0" fill="#f7dcd9" opacity="0.55" filter="url(#bl23)"/>
<circle cx="122.9" cy="722.2" r="3.5" fill="#f7dcd9" opacity="0.55" filter="url(#bl23)"/>
<circle cx="150.3" cy="688.0" r="4.4" fill="#f7dcd9" opacity="0.55" filter="url(#bl23)"/>
<circle cx="150.2" cy="682.1" r="5.7" fill="#f7dcd9" opacity="0.55" filter="url(#bl23)"/>
<circle cx="163.9" cy="643.1" r="5.3" fill="#f7dcd9" opacity="0.55" filter="url(#bl23)"/>
<circle cx="169.8" cy="654.6" r="8.2" fill="#f7dcd9" opacity="0.55" filter="url(#bl23)"/>
<circle cx="119.0" cy="699.6" r="4.0" fill="#f7dcd9" opacity="0.55" filter="url(#bl23)"/>
<circle cx="175.2" cy="684.8" r="11" fill="#f8e6e2" opacity="0.85" filter="url(#bl23)"/>
<circle cx="163.2" cy="712.8" r="8" fill="#f8e6e2" opacity="0.85" filter="url(#bl23)"/>
<circle cx="181.2" cy="657.8" r="6" fill="#f8e6e2" opacity="0.85" filter="url(#bl23)"/>
<ellipse cx="140.5" cy="678.2" rx="0.67" ry="0.40" fill="#b48aab" opacity="0.69" transform="rotate(176 140.5 678.2)"/>
<ellipse cx="186.8" cy="702.4" rx="0.67" ry="0.45" fill="#6e4274" opacity="0.61" transform="rotate(22 186.8 702.4)"/>
<ellipse cx="121.5" cy="648.9" rx="0.97" ry="0.55" fill="#b48aab" opacity="0.77" transform="rotate(154 121.5 648.9)"/>
<ellipse cx="137.3" cy="699.3" rx="0.98" ry="0.55" fill="#a07598" opacity="0.61" transform="rotate(87 137.3 699.3)"/>
<ellipse cx="115.9" cy="647.3" rx="1.14" ry="0.80" fill="#c29cba" opacity="0.72" transform="rotate(65 115.9 647.3)"/>
<ellipse cx="148.2" cy="700.0" rx="1.04" ry="0.55" fill="#83577f" opacity="0.90" transform="rotate(37 148.2 700.0)"/>
<ellipse cx="145.1" cy="652.8" rx="0.66" ry="0.55" fill="#94648f" opacity="0.81" transform="rotate(1 145.1 652.8)"/>
<ellipse cx="175.4" cy="664.9" rx="0.94" ry="0.80" fill="#94648f" opacity="0.89" transform="rotate(162 175.4 664.9)"/>
<ellipse cx="142.2" cy="676.9" rx="0.45" ry="0.40" fill="#a07598" opacity="0.73" transform="rotate(159 142.2 676.9)"/>
<ellipse cx="173.6" cy="651.2" rx="0.93" ry="0.70" fill="#6e4274" opacity="0.77" transform="rotate(75 173.6 651.2)"/>
<ellipse cx="186.3" cy="694.7" rx="1.10" ry="0.70" fill="#c29cba" opacity="0.52" transform="rotate(30 186.3 694.7)"/>
<ellipse cx="180.0" cy="658.7" rx="0.63" ry="0.40" fill="#83577f" opacity="0.56" transform="rotate(75 180.0 658.7)"/>
<ellipse cx="142.2" cy="701.5" rx="1.05" ry="0.60" fill="#a8789e" opacity="0.83" transform="rotate(154 142.2 701.5)"/>
<ellipse cx="167.0" cy="652.1" rx="0.51" ry="0.40" fill="#83577f" opacity="0.56" transform="rotate(54 167.0 652.1)"/>
<ellipse cx="119.8" cy="678.5" rx="0.79" ry="0.50" fill="#a8789e" opacity="0.71" transform="rotate(111 119.8 678.5)"/>
<ellipse cx="158.8" cy="687.1" rx="0.68" ry="0.45" fill="#c29cba" opacity="0.80" transform="rotate(116 158.8 687.1)"/>
<ellipse cx="177.8" cy="723.7" rx="0.90" ry="0.70" fill="#83577f" opacity="0.89" transform="rotate(79 177.8 723.7)"/>
<ellipse cx="173.1" cy="647.0" rx="0.93" ry="0.55" fill="#a07598" opacity="0.80" transform="rotate(136 173.1 647.0)"/>
<ellipse cx="116.0" cy="669.5" rx="0.52" ry="0.55" fill="#94648f" opacity="0.79" transform="rotate(120 116.0 669.5)"/>
<ellipse cx="172.4" cy="691.8" rx="0.64" ry="0.55" fill="#a07598" opacity="0.63" transform="rotate(171 172.4 691.8)"/>
<ellipse cx="127.5" cy="710.4" rx="0.72" ry="0.55" fill="#a8789e" opacity="0.70" transform="rotate(4 127.5 710.4)"/>
<ellipse cx="148.0" cy="694.5" rx="0.86" ry="0.55" fill="#a8789e" opacity="0.87" transform="rotate(48 148.0 694.5)"/>
<ellipse cx="158.6" cy="678.8" rx="0.73" ry="0.40" fill="#b48aab" opacity="0.66" transform="rotate(97 158.6 678.8)"/>
<ellipse cx="123.9" cy="703.8" rx="0.71" ry="0.55" fill="#b48aab" opacity="0.88" transform="rotate(171 123.9 703.8)"/>
<ellipse cx="162.7" cy="698.2" rx="0.54" ry="0.50" fill="#c29cba" opacity="0.74" transform="rotate(16 162.7 698.2)"/>
<ellipse cx="166.3" cy="709.9" rx="0.95" ry="0.55" fill="#6e4274" opacity="0.87" transform="rotate(108 166.3 709.9)"/>
<ellipse cx="142.6" cy="655.6" rx="0.87" ry="0.70" fill="#a8789e" opacity="0.75" transform="rotate(133 142.6 655.6)"/>
<ellipse cx="153.9" cy="687.1" rx="0.58" ry="0.45" fill="#a8789e" opacity="0.89" transform="rotate(68 153.9 687.1)"/>
<ellipse cx="162.2" cy="678.8" rx="0.90" ry="0.60" fill="#a8789e" opacity="0.64" transform="rotate(5 162.2 678.8)"/>
<ellipse cx="121.0" cy="698.2" rx="0.85" ry="0.80" fill="#6e4274" opacity="0.78" transform="rotate(35 121.0 698.2)"/>
<ellipse cx="159.1" cy="652.9" rx="0.51" ry="0.50" fill="#a07598" opacity="0.83" transform="rotate(20 159.1 652.9)"/>
<ellipse cx="172.9" cy="722.1" rx="0.57" ry="0.40" fill="#c29cba" opacity="0.87" transform="rotate(9 172.9 722.1)"/>
<ellipse cx="145.8" cy="665.9" rx="1.20" ry="0.60" fill="#b48aab" opacity="0.76" transform="rotate(50 145.8 665.9)"/>
<ellipse cx="180.7" cy="697.5" rx="1.14" ry="0.70" fill="#94648f" opacity="0.55" transform="rotate(55 180.7 697.5)"/>
<ellipse cx="143.9" cy="703.7" rx="0.89" ry="0.45" fill="#a07598" opacity="0.50" transform="rotate(98 143.9 703.7)"/>
<ellipse cx="167.0" cy="690.1" rx="1.07" ry="0.60" fill="#b48aab" opacity="0.75" transform="rotate(35 167.0 690.1)"/>
<ellipse cx="114.6" cy="644.9" rx="1.35" ry="0.70" fill="#6e4274" opacity="0.72" transform="rotate(106 114.6 644.9)"/>
<ellipse cx="102.9" cy="684.2" rx="0.67" ry="0.55" fill="#a07598" opacity="0.79" transform="rotate(8 102.9 684.2)"/>
<ellipse cx="173.2" cy="660.7" rx="1.42" ry="0.80" fill="#a8789e" opacity="0.56" transform="rotate(35 173.2 660.7)"/>
<ellipse cx="172.2" cy="698.3" rx="0.73" ry="0.40" fill="#6e4274" opacity="0.80" transform="rotate(50 172.2 698.3)"/>
<ellipse cx="171.3" cy="686.3" rx="0.93" ry="0.60" fill="#c29cba" opacity="0.87" transform="rotate(52 171.3 686.3)"/>
<ellipse cx="173.8" cy="665.5" rx="1.08" ry="0.60" fill="#94648f" opacity="0.79" transform="rotate(32 173.8 665.5)"/>
<ellipse cx="112.0" cy="678.8" rx="0.66" ry="0.40" fill="#83577f" opacity="0.65" transform="rotate(85 112.0 678.8)"/>
<ellipse cx="167.7" cy="651.9" rx="0.59" ry="0.45" fill="#83577f" opacity="0.85" transform="rotate(117 167.7 651.9)"/>
<ellipse cx="120.7" cy="689.3" rx="1.02" ry="0.80" fill="#83577f" opacity="0.73" transform="rotate(24 120.7 689.3)"/>
<ellipse cx="168.4" cy="703.7" rx="0.68" ry="0.45" fill="#94648f" opacity="0.75" transform="rotate(9 168.4 703.7)"/>
<ellipse cx="140.3" cy="648.1" rx="0.86" ry="0.50" fill="#a07598" opacity="0.69" transform="rotate(172 140.3 648.1)"/>
<ellipse cx="131.0" cy="651.3" rx="0.97" ry="0.55" fill="#b48aab" opacity="0.54" transform="rotate(136 131.0 651.3)"/>
<ellipse cx="159.0" cy="674.4" rx="0.76" ry="0.70" fill="#94648f" opacity="0.85" transform="rotate(17 159.0 674.4)"/>
<ellipse cx="104.2" cy="713.7" rx="1.33" ry="0.80" fill="#a07598" opacity="0.54" transform="rotate(171 104.2 713.7)"/>
<ellipse cx="168.0" cy="694.8" rx="0.80" ry="0.50" fill="#b48aab" opacity="0.87" transform="rotate(36 168.0 694.8)"/>
<ellipse cx="137.1" cy="654.2" rx="0.75" ry="0.50" fill="#6e4274" opacity="0.74" transform="rotate(159 137.1 654.2)"/>
<ellipse cx="150.8" cy="695.3" rx="0.99" ry="0.60" fill="#b48aab" opacity="0.57" transform="rotate(68 150.8 695.3)"/>
<ellipse cx="136.5" cy="671.4" rx="0.41" ry="0.45" fill="#a8789e" opacity="0.63" transform="rotate(76 136.5 671.4)"/>
<ellipse cx="149.0" cy="715.4" rx="0.93" ry="0.55" fill="#a07598" opacity="0.52" transform="rotate(105 149.0 715.4)"/>
<ellipse cx="158.9" cy="712.7" rx="0.51" ry="0.50" fill="#83577f" opacity="0.74" transform="rotate(58 158.9 712.7)"/>
<ellipse cx="179.2" cy="673.5" rx="1.25" ry="0.80" fill="#83577f" opacity="0.83" transform="rotate(134 179.2 673.5)"/>
<ellipse cx="161.3" cy="664.6" rx="0.75" ry="0.45" fill="#83577f" opacity="0.89" transform="rotate(37 161.3 664.6)"/>
<ellipse cx="144.1" cy="670.0" rx="1.08" ry="0.80" fill="#c29cba" opacity="0.65" transform="rotate(56 144.1 670.0)"/>
<ellipse cx="152.4" cy="713.0" rx="0.53" ry="0.40" fill="#c29cba" opacity="0.63" transform="rotate(29 152.4 713.0)"/>
<ellipse cx="107.7" cy="654.2" rx="0.83" ry="0.45" fill="#94648f" opacity="0.61" transform="rotate(32 107.7 654.2)"/>
<ellipse cx="132.5" cy="652.0" rx="0.89" ry="0.70" fill="#a07598" opacity="0.73" transform="rotate(116 132.5 652.0)"/>
<ellipse cx="180.5" cy="725.1" rx="0.68" ry="0.45" fill="#a8789e" opacity="0.66" transform="rotate(153 180.5 725.1)"/>
<ellipse cx="165.9" cy="666.8" rx="1.05" ry="0.60" fill="#94648f" opacity="0.81" transform="rotate(163 165.9 666.8)"/>
<ellipse cx="174.1" cy="710.9" rx="0.96" ry="0.60" fill="#b48aab" opacity="0.52" transform="rotate(122 174.1 710.9)"/>
<ellipse cx="103.3" cy="673.2" rx="1.28" ry="0.80" fill="#a8789e" opacity="0.81" transform="rotate(139 103.3 673.2)"/>
<ellipse cx="177.7" cy="697.3" rx="0.42" ry="0.45" fill="#c29cba" opacity="0.85" transform="rotate(147 177.7 697.3)"/>
<ellipse cx="118.8" cy="668.9" rx="1.03" ry="0.55" fill="#6e4274" opacity="0.50" transform="rotate(68 118.8 668.9)"/>
<ellipse cx="124.0" cy="686.3" rx="0.71" ry="0.45" fill="#a8789e" opacity="0.67" transform="rotate(51 124.0 686.3)"/>
<ellipse cx="112.1" cy="660.5" rx="1.02" ry="0.55" fill="#94648f" opacity="0.55" transform="rotate(69 112.1 660.5)"/>
<ellipse cx="117.6" cy="711.5" rx="0.52" ry="0.45" fill="#83577f" opacity="0.76" transform="rotate(75 117.6 711.5)"/>
<ellipse cx="146.1" cy="677.6" rx="0.50" ry="0.45" fill="#b48aab" opacity="0.86" transform="rotate(10 146.1 677.6)"/>
<ellipse cx="170.9" cy="717.0" rx="0.37" ry="0.40" fill="#c29cba" opacity="0.57" transform="rotate(9 170.9 717.0)"/>
<ellipse cx="165.1" cy="645.9" rx="0.69" ry="0.55" fill="#c29cba" opacity="0.69" transform="rotate(160 165.1 645.9)"/>
<ellipse cx="167.5" cy="716.0" rx="0.44" ry="0.45" fill="#a07598" opacity="0.86" transform="rotate(1 167.5 716.0)"/>
<ellipse cx="110.2" cy="659.6" rx="0.78" ry="0.40" fill="#83577f" opacity="0.84" transform="rotate(177 110.2 659.6)"/>
<ellipse cx="174.9" cy="686.8" rx="0.80" ry="0.55" fill="#b48aab" opacity="0.82" transform="rotate(11 174.9 686.8)"/>
<ellipse cx="176.5" cy="688.9" rx="0.56" ry="0.45" fill="#94648f" opacity="0.83" transform="rotate(121 176.5 688.9)"/>
<ellipse cx="174.7" cy="643.9" rx="0.68" ry="0.55" fill="#83577f" opacity="0.73" transform="rotate(8 174.7 643.9)"/>
<ellipse cx="130.5" cy="719.5" rx="1.10" ry="0.60" fill="#6e4274" opacity="0.87" transform="rotate(129 130.5 719.5)"/>
<ellipse cx="174.2" cy="710.5" rx="0.55" ry="0.55" fill="#a07598" opacity="0.82" transform="rotate(179 174.2 710.5)"/>
<ellipse cx="172.7" cy="695.6" rx="1.21" ry="0.70" fill="#6e4274" opacity="0.62" transform="rotate(57 172.7 695.6)"/>
<ellipse cx="138.1" cy="696.8" rx="0.39" ry="0.40" fill="#94648f" opacity="0.63" transform="rotate(161 138.1 696.8)"/>
<ellipse cx="151.0" cy="700.0" rx="0.45" ry="0.45" fill="#6e4274" opacity="0.70" transform="rotate(57 151.0 700.0)"/>
<ellipse cx="119.4" cy="700.3" rx="0.84" ry="0.60" fill="#94648f" opacity="0.77" transform="rotate(122 119.4 700.3)"/>
<ellipse cx="124.9" cy="675.4" rx="0.71" ry="0.40" fill="#6e4274" opacity="0.86" transform="rotate(8 124.9 675.4)"/>
<ellipse cx="131.3" cy="721.8" rx="0.79" ry="0.60" fill="#c29cba" opacity="0.78" transform="rotate(132 131.3 721.8)"/>
<ellipse cx="124.3" cy="657.2" rx="0.92" ry="0.50" fill="#83577f" opacity="0.81" transform="rotate(40 124.3 657.2)"/>
<ellipse cx="171.9" cy="674.1" rx="0.75" ry="0.70" fill="#b48aab" opacity="0.79" transform="rotate(6 171.9 674.1)"/>
<ellipse cx="106.1" cy="716.4" rx="0.84" ry="0.55" fill="#83577f" opacity="0.86" transform="rotate(37 106.1 716.4)"/>
<ellipse cx="141.4" cy="718.5" rx="0.91" ry="0.60" fill="#a8789e" opacity="0.79" transform="rotate(48 141.4 718.5)"/>
<ellipse cx="121.5" cy="711.1" rx="1.15" ry="0.60" fill="#a8789e" opacity="0.81" transform="rotate(115 121.5 711.1)"/>
<ellipse cx="108.6" cy="681.1" rx="1.36" ry="0.70" fill="#a8789e" opacity="0.86" transform="rotate(86 108.6 681.1)"/>
<ellipse cx="109.5" cy="662.4" rx="0.82" ry="0.50" fill="#83577f" opacity="0.63" transform="rotate(49 109.5 662.4)"/>
<ellipse cx="103.6" cy="690.0" rx="1.03" ry="0.55" fill="#a07598" opacity="0.75" transform="rotate(51 103.6 690.0)"/>
<ellipse cx="110.0" cy="692.7" rx="1.41" ry="0.80" fill="#94648f" opacity="0.65" transform="rotate(57 110.0 692.7)"/>
<ellipse cx="108.3" cy="651.4" rx="0.56" ry="0.55" fill="#6e4274" opacity="0.59" transform="rotate(154 108.3 651.4)"/>
<ellipse cx="161.2" cy="664.0" rx="0.76" ry="0.50" fill="#83577f" opacity="0.88" transform="rotate(38 161.2 664.0)"/>
<ellipse cx="162.0" cy="705.1" rx="0.67" ry="0.40" fill="#a07598" opacity="0.86" transform="rotate(60 162.0 705.1)"/>
<ellipse cx="117.7" cy="702.3" rx="0.84" ry="0.55" fill="#6e4274" opacity="0.70" transform="rotate(154 117.7 702.3)"/>
<ellipse cx="176.4" cy="698.8" rx="1.11" ry="0.70" fill="#b48aab" opacity="0.66" transform="rotate(104 176.4 698.8)"/>
<ellipse cx="128.5" cy="714.4" rx="0.78" ry="0.55" fill="#94648f" opacity="0.74" transform="rotate(23 128.5 714.4)"/>
<ellipse cx="153.2" cy="709.9" rx="0.74" ry="0.40" fill="#a07598" opacity="0.57" transform="rotate(110 153.2 709.9)"/>
<ellipse cx="113.1" cy="683.1" rx="0.62" ry="0.50" fill="#b48aab" opacity="0.77" transform="rotate(163 113.1 683.1)"/>
<ellipse cx="131.5" cy="674.9" rx="1.22" ry="0.70" fill="#a07598" opacity="0.78" transform="rotate(38 131.5 674.9)"/>
<ellipse cx="157.2" cy="721.4" rx="0.58" ry="0.55" fill="#83577f" opacity="0.78" transform="rotate(104 157.2 721.4)"/>
<ellipse cx="114.3" cy="672.6" rx="0.67" ry="0.40" fill="#b48aab" opacity="0.75" transform="rotate(19 114.3 672.6)"/>
<ellipse cx="184.5" cy="701.5" rx="1.53" ry="0.80" fill="#a8789e" opacity="0.56" transform="rotate(5 184.5 701.5)"/>
<ellipse cx="141.2" cy="650.4" rx="0.64" ry="0.60" fill="#94648f" opacity="0.74" transform="rotate(77 141.2 650.4)"/>
<ellipse cx="133.1" cy="704.7" rx="0.54" ry="0.45" fill="#b48aab" opacity="0.55" transform="rotate(60 133.1 704.7)"/>
<ellipse cx="171.5" cy="677.6" rx="0.50" ry="0.55" fill="#c29cba" opacity="0.58" transform="rotate(118 171.5 677.6)"/>
<ellipse cx="133.0" cy="722.5" rx="0.54" ry="0.40" fill="#83577f" opacity="0.85" transform="rotate(174 133.0 722.5)"/>
<ellipse cx="108.5" cy="688.6" rx="0.67" ry="0.40" fill="#a8789e" opacity="0.55" transform="rotate(174 108.5 688.6)"/>
<ellipse cx="162.5" cy="645.2" rx="0.82" ry="0.80" fill="#6e4274" opacity="0.75" transform="rotate(53 162.5 645.2)"/>
<ellipse cx="181.8" cy="672.6" rx="0.82" ry="0.55" fill="#6e4274" opacity="0.89" transform="rotate(87 181.8 672.6)"/>
<ellipse cx="112.9" cy="661.8" rx="1.27" ry="0.70" fill="#a07598" opacity="0.50" transform="rotate(79 112.9 661.8)"/>
<ellipse cx="134.2" cy="679.6" rx="1.02" ry="0.70" fill="#a8789e" opacity="0.56" transform="rotate(166 134.2 679.6)"/>
<ellipse cx="112.4" cy="712.0" rx="1.32" ry="0.80" fill="#b48aab" opacity="0.71" transform="rotate(169 112.4 712.0)"/>
<ellipse cx="113.3" cy="711.1" rx="0.98" ry="0.80" fill="#b48aab" opacity="0.77" transform="rotate(17 113.3 711.1)"/>
<ellipse cx="131.2" cy="691.4" rx="1.04" ry="0.70" fill="#94648f" opacity="0.55" transform="rotate(130 131.2 691.4)"/>
<ellipse cx="141.1" cy="660.2" rx="0.63" ry="0.45" fill="#83577f" opacity="0.62" transform="rotate(66 141.1 660.2)"/>
<ellipse cx="124.9" cy="724.1" rx="0.81" ry="0.80" fill="#94648f" opacity="0.83" transform="rotate(67 124.9 724.1)"/>
<ellipse cx="178.5" cy="695.2" rx="0.99" ry="0.50" fill="#a07598" opacity="0.77" transform="rotate(89 178.5 695.2)"/>
<ellipse cx="174.0" cy="647.0" rx="0.80" ry="0.45" fill="#a8789e" opacity="0.66" transform="rotate(177 174.0 647.0)"/>
<ellipse cx="108.3" cy="720.1" rx="0.81" ry="0.60" fill="#b48aab" opacity="0.83" transform="rotate(137 108.3 720.1)"/>
<ellipse cx="144.9" cy="669.4" rx="0.96" ry="0.60" fill="#a8789e" opacity="0.78" transform="rotate(120 144.9 669.4)"/>
<ellipse cx="109.7" cy="645.1" rx="0.47" ry="0.50" fill="#a8789e" opacity="0.69" transform="rotate(88 109.7 645.1)"/>
<ellipse cx="186.1" cy="703.6" rx="0.62" ry="0.40" fill="#a07598" opacity="0.86" transform="rotate(85 186.1 703.6)"/>
<ellipse cx="108.3" cy="703.4" rx="0.46" ry="0.40" fill="#83577f" opacity="0.76" transform="rotate(149 108.3 703.4)"/>
<ellipse cx="185.4" cy="698.4" rx="1.07" ry="0.80" fill="#a07598" opacity="0.78" transform="rotate(117 185.4 698.4)"/>
<ellipse cx="106.0" cy="662.5" rx="0.43" ry="0.40" fill="#a8789e" opacity="0.74" transform="rotate(78 106.0 662.5)"/>
<ellipse cx="130.3" cy="713.1" rx="0.94" ry="0.50" fill="#a07598" opacity="0.68" transform="rotate(35 130.3 713.1)"/>
<ellipse cx="177.6" cy="692.4" rx="1.07" ry="0.70" fill="#a8789e" opacity="0.60" transform="rotate(104 177.6 692.4)"/>
<ellipse cx="123.9" cy="709.0" rx="1.08" ry="0.80" fill="#83577f" opacity="0.85" transform="rotate(61 123.9 709.0)"/>
<ellipse cx="138.9" cy="717.4" rx="1.22" ry="0.70" fill="#6e4274" opacity="0.63" transform="rotate(82 138.9 717.4)"/>
<ellipse cx="147.5" cy="671.5" rx="0.57" ry="0.50" fill="#94648f" opacity="0.83" transform="rotate(13 147.5 671.5)"/>
<ellipse cx="177.6" cy="714.6" rx="0.60" ry="0.55" fill="#a8789e" opacity="0.84" transform="rotate(153 177.6 714.6)"/>
<ellipse cx="164.0" cy="681.4" rx="0.85" ry="0.45" fill="#c29cba" opacity="0.51" transform="rotate(73 164.0 681.4)"/>
<ellipse cx="172.0" cy="715.8" rx="1.05" ry="0.80" fill="#b48aab" opacity="0.75" transform="rotate(120 172.0 715.8)"/>
<ellipse cx="137.4" cy="705.6" rx="0.69" ry="0.55" fill="#a8789e" opacity="0.64" transform="rotate(101 137.4 705.6)"/>
<ellipse cx="108.0" cy="648.6" rx="0.48" ry="0.40" fill="#a07598" opacity="0.75" transform="rotate(3 108.0 648.6)"/>
<ellipse cx="163.8" cy="656.5" rx="0.86" ry="0.60" fill="#a8789e" opacity="0.74" transform="rotate(69 163.8 656.5)"/>
<ellipse cx="129.5" cy="685.9" rx="0.81" ry="0.50" fill="#6e4274" opacity="0.57" transform="rotate(23 129.5 685.9)"/>
<ellipse cx="166.4" cy="658.4" rx="1.14" ry="0.80" fill="#a07598" opacity="0.56" transform="rotate(81 166.4 658.4)"/>
<ellipse cx="152.9" cy="672.2" rx="0.87" ry="0.60" fill="#6e4274" opacity="0.75" transform="rotate(101 152.9 672.2)"/>
<ellipse cx="163.9" cy="661.4" rx="1.48" ry="0.80" fill="#a07598" opacity="0.72" transform="rotate(46 163.9 661.4)"/>
<ellipse cx="105.6" cy="710.1" rx="0.48" ry="0.40" fill="#94648f" opacity="0.68" transform="rotate(54 105.6 710.1)"/>
<ellipse cx="115.8" cy="681.4" rx="0.54" ry="0.40" fill="#6e4274" opacity="0.57" transform="rotate(138 115.8 681.4)"/>
<ellipse cx="106.5" cy="663.1" rx="0.41" ry="0.40" fill="#a07598" opacity="0.51" transform="rotate(3 106.5 663.1)"/>
<ellipse cx="152.3" cy="685.8" rx="1.05" ry="0.60" fill="#c29cba" opacity="0.61" transform="rotate(147 152.3 685.8)"/>
<ellipse cx="124.9" cy="720.5" rx="0.88" ry="0.55" fill="#b48aab" opacity="0.53" transform="rotate(147 124.9 720.5)"/>
<ellipse cx="107.6" cy="654.3" rx="0.79" ry="0.70" fill="#a07598" opacity="0.73" transform="rotate(130 107.6 654.3)"/>
<ellipse cx="129.4" cy="719.3" rx="0.73" ry="0.60" fill="#c29cba" opacity="0.64" transform="rotate(41 129.4 719.3)"/>
<ellipse cx="165.5" cy="693.6" rx="0.71" ry="0.50" fill="#c29cba" opacity="0.69" transform="rotate(28 165.5 693.6)"/>
<ellipse cx="171.1" cy="713.2" rx="0.85" ry="0.50" fill="#b48aab" opacity="0.82" transform="rotate(166 171.1 713.2)"/>
<ellipse cx="134.1" cy="697.9" rx="0.92" ry="0.50" fill="#a07598" opacity="0.65" transform="rotate(59 134.1 697.9)"/>
<ellipse cx="113.8" cy="661.0" rx="1.02" ry="0.80" fill="#83577f" opacity="0.67" transform="rotate(52 113.8 661.0)"/>
<ellipse cx="120.4" cy="656.5" rx="1.08" ry="0.60" fill="#6e4274" opacity="0.71" transform="rotate(164 120.4 656.5)"/>
<ellipse cx="151.8" cy="672.8" rx="0.68" ry="0.40" fill="#c29cba" opacity="0.78" transform="rotate(80 151.8 672.8)"/>
<ellipse cx="128.7" cy="699.4" rx="0.76" ry="0.70" fill="#a07598" opacity="0.65" transform="rotate(98 128.7 699.4)"/>
<ellipse cx="157.1" cy="644.8" rx="1.12" ry="0.70" fill="#83577f" opacity="0.50" transform="rotate(138 157.1 644.8)"/>
<ellipse cx="117.3" cy="658.2" rx="1.27" ry="0.80" fill="#c29cba" opacity="0.69" transform="rotate(117 117.3 658.2)"/>
<ellipse cx="166.6" cy="650.1" rx="0.59" ry="0.55" fill="#a07598" opacity="0.79" transform="rotate(111 166.6 650.1)"/>
<ellipse cx="144.5" cy="675.9" rx="0.61" ry="0.50" fill="#a07598" opacity="0.75" transform="rotate(29 144.5 675.9)"/>
<ellipse cx="110.8" cy="701.8" rx="1.24" ry="0.80" fill="#83577f" opacity="0.84" transform="rotate(129 110.8 701.8)"/>
<ellipse cx="153.9" cy="699.6" rx="0.90" ry="0.50" fill="#a07598" opacity="0.75" transform="rotate(83 153.9 699.6)"/>
<ellipse cx="122.7" cy="663.5" rx="1.04" ry="0.70" fill="#c29cba" opacity="0.53" transform="rotate(6 122.7 663.5)"/>
<ellipse cx="113.0" cy="667.9" rx="0.84" ry="0.60" fill="#6e4274" opacity="0.81" transform="rotate(37 113.0 667.9)"/>
<ellipse cx="115.1" cy="707.0" rx="0.64" ry="0.45" fill="#94648f" opacity="0.53" transform="rotate(27 115.1 707.0)"/>
<ellipse cx="103.3" cy="659.8" rx="1.02" ry="0.70" fill="#6e4274" opacity="0.52" transform="rotate(35 103.3 659.8)"/>
<ellipse cx="103.8" cy="704.2" rx="1.06" ry="0.80" fill="#c29cba" opacity="0.83" transform="rotate(44 103.8 704.2)"/>
<ellipse cx="170.2" cy="711.9" rx="1.13" ry="0.70" fill="#a8789e" opacity="0.79" transform="rotate(77 170.2 711.9)"/>
<ellipse cx="123.9" cy="646.4" rx="0.77" ry="0.45" fill="#a8789e" opacity="0.71" transform="rotate(126 123.9 646.4)"/>
<ellipse cx="148.5" cy="678.6" rx="0.76" ry="0.50" fill="#83577f" opacity="0.73" transform="rotate(126 148.5 678.6)"/>
<ellipse cx="183.1" cy="714.2" rx="0.86" ry="0.60" fill="#6e4274" opacity="0.62" transform="rotate(123 183.1 714.2)"/>
<ellipse cx="172.6" cy="694.6" rx="0.53" ry="0.50" fill="#6e4274" opacity="0.71" transform="rotate(75 172.6 694.6)"/>
<ellipse cx="175.5" cy="710.9" rx="0.93" ry="0.70" fill="#c29cba" opacity="0.62" transform="rotate(103 175.5 710.9)"/>
<ellipse cx="139.0" cy="678.1" rx="0.71" ry="0.50" fill="#94648f" opacity="0.77" transform="rotate(25 139.0 678.1)"/>
<ellipse cx="175.6" cy="700.7" rx="0.63" ry="0.40" fill="#94648f" opacity="0.53" transform="rotate(149 175.6 700.7)"/>
<ellipse cx="184.1" cy="713.7" rx="0.83" ry="0.55" fill="#a07598" opacity="0.78" transform="rotate(66 184.1 713.7)"/>
<ellipse cx="144.6" cy="644.3" rx="1.12" ry="0.60" fill="#6e4274" opacity="0.90" transform="rotate(51 144.6 644.3)"/>
<ellipse cx="108.7" cy="652.2" rx="0.88" ry="0.45" fill="#94648f" opacity="0.83" transform="rotate(74 108.7 652.2)"/>
<ellipse cx="184.2" cy="645.1" rx="0.85" ry="0.60" fill="#6e4274" opacity="0.52" transform="rotate(68 184.2 645.1)"/>
<ellipse cx="116.6" cy="690.2" rx="0.59" ry="0.40" fill="#6e4274" opacity="0.54" transform="rotate(10 116.6 690.2)"/>
<ellipse cx="111.1" cy="691.9" rx="1.11" ry="0.60" fill="#83577f" opacity="0.90" transform="rotate(154 111.1 691.9)"/>
<ellipse cx="133.0" cy="666.0" rx="1.04" ry="0.55" fill="#6e4274" opacity="0.75" transform="rotate(121 133.0 666.0)"/>
<ellipse cx="172.3" cy="709.2" rx="0.96" ry="0.80" fill="#94648f" opacity="0.59" transform="rotate(124 172.3 709.2)"/>
<ellipse cx="164.1" cy="684.0" rx="1.10" ry="0.60" fill="#c29cba" opacity="0.86" transform="rotate(44 164.1 684.0)"/>
<ellipse cx="112.9" cy="659.8" rx="0.47" ry="0.45" fill="#c29cba" opacity="0.56" transform="rotate(128 112.9 659.8)"/>
<ellipse cx="144.0" cy="668.1" rx="0.97" ry="0.70" fill="#6e4274" opacity="0.59" transform="rotate(77 144.0 668.1)"/>
<ellipse cx="185.2" cy="701.3" rx="0.53" ry="0.55" fill="#c29cba" opacity="0.62" transform="rotate(49 185.2 701.3)"/>
<ellipse cx="184.2" cy="714.5" rx="0.57" ry="0.45" fill="#83577f" opacity="0.86" transform="rotate(4 184.2 714.5)"/>
<ellipse cx="155.8" cy="723.1" rx="0.83" ry="0.50" fill="#b48aab" opacity="0.67" transform="rotate(128 155.8 723.1)"/>
<ellipse cx="145.1" cy="644.1" rx="0.71" ry="0.55" fill="#c29cba" opacity="0.73" transform="rotate(109 145.1 644.1)"/>
<ellipse cx="140.3" cy="694.3" rx="1.09" ry="0.70" fill="#b48aab" opacity="0.64" transform="rotate(125 140.3 694.3)"/>
<ellipse cx="141.7" cy="680.2" rx="0.67" ry="0.55" fill="#a07598" opacity="0.69" transform="rotate(112 141.7 680.2)"/>
<ellipse cx="115.5" cy="650.9" rx="0.98" ry="0.50" fill="#c29cba" opacity="0.66" transform="rotate(19 115.5 650.9)"/>
<ellipse cx="160.9" cy="719.6" rx="1.37" ry="0.70" fill="#6e4274" opacity="0.82" transform="rotate(20 160.9 719.6)"/>
<ellipse cx="152.8" cy="697.2" rx="0.82" ry="0.70" fill="#a07598" opacity="0.71" transform="rotate(34 152.8 697.2)"/>
<ellipse cx="186.4" cy="686.5" rx="0.77" ry="0.50" fill="#b48aab" opacity="0.78" transform="rotate(23 186.4 686.5)"/>
<ellipse cx="138.7" cy="651.6" rx="0.46" ry="0.40" fill="#b48aab" opacity="0.62" transform="rotate(137 138.7 651.6)"/>
<ellipse cx="175.7" cy="714.2" rx="0.75" ry="0.55" fill="#94648f" opacity="0.69" transform="rotate(132 175.7 714.2)"/>
<ellipse cx="119.1" cy="659.6" rx="0.83" ry="0.55" fill="#b48aab" opacity="0.56" transform="rotate(27 119.1 659.6)"/>
<ellipse cx="107.7" cy="689.3" rx="0.44" ry="0.40" fill="#a07598" opacity="0.68" transform="rotate(57 107.7 689.3)"/>
<ellipse cx="167.5" cy="710.4" rx="0.81" ry="0.55" fill="#a07598" opacity="0.72" transform="rotate(75 167.5 710.4)"/>
<ellipse cx="174.5" cy="644.9" rx="1.18" ry="0.70" fill="#b48aab" opacity="0.86" transform="rotate(101 174.5 644.9)"/>
<ellipse cx="175.7" cy="708.6" rx="0.72" ry="0.40" fill="#83577f" opacity="0.83" transform="rotate(82 175.7 708.6)"/>
<ellipse cx="173.0" cy="670.1" rx="0.73" ry="0.80" fill="#a07598" opacity="0.70" transform="rotate(79 173.0 670.1)"/>
<ellipse cx="123.3" cy="721.6" rx="0.77" ry="0.40" fill="#94648f" opacity="0.74" transform="rotate(46 123.3 721.6)"/>
<ellipse cx="186.9" cy="676.8" rx="0.92" ry="0.60" fill="#94648f" opacity="0.75" transform="rotate(66 186.9 676.8)"/>
<ellipse cx="128.7" cy="699.0" rx="1.03" ry="0.60" fill="#94648f" opacity="0.87" transform="rotate(144 128.7 699.0)"/>
<ellipse cx="180.8" cy="662.2" rx="0.84" ry="0.50" fill="#94648f" opacity="0.64" transform="rotate(177 180.8 662.2)"/>
<ellipse cx="184.8" cy="674.1" rx="0.74" ry="0.55" fill="#a07598" opacity="0.63" transform="rotate(82 184.8 674.1)"/>
<ellipse cx="135.2" cy="721.8" rx="0.89" ry="0.55" fill="#83577f" opacity="0.75" transform="rotate(92 135.2 721.8)"/>
<ellipse cx="131.6" cy="668.6" rx="0.70" ry="0.45" fill="#83577f" opacity="0.59" transform="rotate(84 131.6 668.6)"/>
<ellipse cx="110.3" cy="679.5" rx="0.89" ry="0.55" fill="#a8789e" opacity="0.90" transform="rotate(28 110.3 679.5)"/>
<ellipse cx="159.3" cy="685.7" rx="1.12" ry="0.60" fill="#6e4274" opacity="0.68" transform="rotate(29 159.3 685.7)"/>
<ellipse cx="158.7" cy="663.4" rx="0.98" ry="0.80" fill="#a07598" opacity="0.89" transform="rotate(38 158.7 663.4)"/>
<ellipse cx="166.8" cy="690.9" rx="0.60" ry="0.55" fill="#b48aab" opacity="0.53" transform="rotate(66 166.8 690.9)"/>
<ellipse cx="113.9" cy="716.1" rx="0.72" ry="0.40" fill="#b48aab" opacity="0.74" transform="rotate(3 113.9 716.1)"/>
<ellipse cx="182.0" cy="654.2" rx="0.54" ry="0.55" fill="#a8789e" opacity="0.70" transform="rotate(88 182.0 654.2)"/>
<ellipse cx="178.4" cy="698.7" rx="0.75" ry="0.45" fill="#6e4274" opacity="0.86" transform="rotate(27 178.4 698.7)"/>
<ellipse cx="141.7" cy="706.5" rx="0.43" ry="0.40" fill="#83577f" opacity="0.83" transform="rotate(132 141.7 706.5)"/>
<ellipse cx="170.4" cy="671.4" rx="0.63" ry="0.40" fill="#a8789e" opacity="0.58" transform="rotate(103 170.4 671.4)"/>
<ellipse cx="126.9" cy="714.5" rx="1.04" ry="0.60" fill="#b48aab" opacity="0.81" transform="rotate(87 126.9 714.5)"/>
<ellipse cx="151.7" cy="670.9" rx="0.96" ry="0.55" fill="#6e4274" opacity="0.52" transform="rotate(178 151.7 670.9)"/>
<ellipse cx="141.0" cy="660.9" rx="1.07" ry="0.60" fill="#a8789e" opacity="0.87" transform="rotate(41 141.0 660.9)"/>
<ellipse cx="134.0" cy="667.9" rx="1.25" ry="0.70" fill="#c29cba" opacity="0.52" transform="rotate(88 134.0 667.9)"/>
<ellipse cx="132.0" cy="673.5" rx="0.63" ry="0.40" fill="#b48aab" opacity="0.64" transform="rotate(173 132.0 673.5)"/>
<ellipse cx="135.5" cy="697.8" rx="0.57" ry="0.55" fill="#b48aab" opacity="0.79" transform="rotate(55 135.5 697.8)"/>
<ellipse cx="169.4" cy="686.6" rx="0.54" ry="0.50" fill="#94648f" opacity="0.83" transform="rotate(3 169.4 686.6)"/>
<ellipse cx="125.3" cy="673.8" rx="0.74" ry="0.50" fill="#a07598" opacity="0.52" transform="rotate(19 125.3 673.8)"/>
<ellipse cx="117.9" cy="644.7" rx="0.49" ry="0.50" fill="#a8789e" opacity="0.52" transform="rotate(174 117.9 644.7)"/>
<ellipse cx="171.6" cy="692.7" rx="0.70" ry="0.50" fill="#6e4274" opacity="0.51" transform="rotate(50 171.6 692.7)"/>
<ellipse cx="115.4" cy="684.9" rx="0.62" ry="0.40" fill="#6e4274" opacity="0.83" transform="rotate(90 115.4 684.9)"/>
<ellipse cx="111.9" cy="689.1" rx="0.84" ry="0.60" fill="#83577f" opacity="0.57" transform="rotate(155 111.9 689.1)"/>
<ellipse cx="114.3" cy="704.3" rx="0.58" ry="0.50" fill="#94648f" opacity="0.69" transform="rotate(86 114.3 704.3)"/>
<ellipse cx="128.2" cy="680.5" rx="0.51" ry="0.55" fill="#a07598" opacity="0.83" transform="rotate(38 128.2 680.5)"/>
<ellipse cx="128.1" cy="667.1" rx="0.81" ry="0.50" fill="#b48aab" opacity="0.71" transform="rotate(143 128.1 667.1)"/>
<ellipse cx="149.3" cy="644.4" rx="1.02" ry="0.55" fill="#6e4274" opacity="0.85" transform="rotate(2 149.3 644.4)"/>
<ellipse cx="156.8" cy="723.7" rx="0.66" ry="0.45" fill="#b48aab" opacity="0.74" transform="rotate(41 156.8 723.7)"/>
<ellipse cx="173.3" cy="716.1" rx="0.65" ry="0.40" fill="#6e4274" opacity="0.68" transform="rotate(164 173.3 716.1)"/>
<ellipse cx="141.6" cy="660.6" rx="1.09" ry="0.55" fill="#6e4274" opacity="0.85" transform="rotate(92 141.6 660.6)"/>
<ellipse cx="118.4" cy="678.3" rx="0.43" ry="0.45" fill="#6e4274" opacity="0.68" transform="rotate(102 118.4 678.3)"/>
<ellipse cx="126.0" cy="692.4" rx="0.76" ry="0.55" fill="#a8789e" opacity="0.52" transform="rotate(155 126.0 692.4)"/>
<ellipse cx="110.8" cy="690.6" rx="0.61" ry="0.45" fill="#b48aab" opacity="0.73" transform="rotate(47 110.8 690.6)"/>
<ellipse cx="139.7" cy="653.3" rx="1.13" ry="0.60" fill="#a8789e" opacity="0.67" transform="rotate(156 139.7 653.3)"/>
<ellipse cx="184.2" cy="695.5" rx="0.51" ry="0.45" fill="#a8789e" opacity="0.72" transform="rotate(160 184.2 695.5)"/>
<ellipse cx="116.6" cy="650.4" rx="0.49" ry="0.50" fill="#94648f" opacity="0.72" transform="rotate(137 116.6 650.4)"/>
<ellipse cx="158.9" cy="693.3" rx="0.86" ry="0.60" fill="#a8789e" opacity="0.84" transform="rotate(60 158.9 693.3)"/>
<ellipse cx="103.7" cy="678.3" rx="0.71" ry="0.70" fill="#b48aab" opacity="0.88" transform="rotate(99 103.7 678.3)"/>
<ellipse cx="139.0" cy="703.1" rx="0.74" ry="0.80" fill="#b48aab" opacity="0.74" transform="rotate(104 139.0 703.1)"/>
<ellipse cx="104.4" cy="644.6" rx="0.59" ry="0.40" fill="#6e4274" opacity="0.67" transform="rotate(95 104.4 644.6)"/>
<ellipse cx="131.5" cy="705.6" rx="0.91" ry="0.55" fill="#83577f" opacity="0.73" transform="rotate(83 131.5 705.6)"/>
<ellipse cx="143.1" cy="656.5" rx="0.56" ry="0.45" fill="#a8789e" opacity="0.83" transform="rotate(0 143.1 656.5)"/>
<ellipse cx="104.7" cy="700.9" rx="1.33" ry="0.70" fill="#94648f" opacity="0.78" transform="rotate(117 104.7 700.9)"/>
<ellipse cx="177.1" cy="706.7" rx="0.88" ry="0.45" fill="#83577f" opacity="0.74" transform="rotate(180 177.1 706.7)"/>
<ellipse cx="156.9" cy="687.6" rx="0.65" ry="0.40" fill="#c29cba" opacity="0.87" transform="rotate(0 156.9 687.6)"/>
<ellipse cx="172.0" cy="670.8" rx="1.19" ry="0.60" fill="#83577f" opacity="0.79" transform="rotate(57 172.0 670.8)"/>
<ellipse cx="111.9" cy="695.7" rx="0.76" ry="0.50" fill="#a07598" opacity="0.79" transform="rotate(157 111.9 695.7)"/>
<ellipse cx="131.7" cy="650.2" rx="0.65" ry="0.60" fill="#b48aab" opacity="0.73" transform="rotate(109 131.7 650.2)"/>
<ellipse cx="157.7" cy="705.7" rx="0.75" ry="0.80" fill="#94648f" opacity="0.58" transform="rotate(71 157.7 705.7)"/>
<ellipse cx="125.5" cy="709.8" rx="0.42" ry="0.40" fill="#a07598" opacity="0.89" transform="rotate(43 125.5 709.8)"/>
<ellipse cx="159.4" cy="721.3" rx="1.01" ry="0.80" fill="#c29cba" opacity="0.87" transform="rotate(0 159.4 721.3)"/>
<ellipse cx="174.0" cy="684.1" rx="1.22" ry="0.80" fill="#b48aab" opacity="0.63" transform="rotate(125 174.0 684.1)"/>
<ellipse cx="177.0" cy="709.9" rx="0.82" ry="0.60" fill="#83577f" opacity="0.53" transform="rotate(85 177.0 709.9)"/>
<ellipse cx="149.0" cy="698.6" rx="0.54" ry="0.45" fill="#6e4274" opacity="0.57" transform="rotate(89 149.0 698.6)"/>
<ellipse cx="147.5" cy="692.8" rx="1.05" ry="0.80" fill="#6e4274" opacity="0.88" transform="rotate(72 147.5 692.8)"/>
<ellipse cx="152.8" cy="643.8" rx="0.82" ry="0.45" fill="#6e4274" opacity="0.87" transform="rotate(143 152.8 643.8)"/>
<ellipse cx="163.6" cy="670.5" rx="0.63" ry="0.50" fill="#a07598" opacity="0.62" transform="rotate(65 163.6 670.5)"/>
<ellipse cx="136.0" cy="704.1" rx="0.90" ry="0.55" fill="#c29cba" opacity="0.58" transform="rotate(171 136.0 704.1)"/>
<ellipse cx="157.7" cy="654.6" rx="0.94" ry="0.55" fill="#94648f" opacity="0.73" transform="rotate(143 157.7 654.6)"/>
<ellipse cx="151.4" cy="646.9" rx="0.83" ry="0.45" fill="#c29cba" opacity="0.55" transform="rotate(175 151.4 646.9)"/>
<ellipse cx="128.1" cy="688.9" rx="0.75" ry="0.50" fill="#c29cba" opacity="0.76" transform="rotate(153 128.1 688.9)"/>
<ellipse cx="154.8" cy="670.7" rx="0.98" ry="0.50" fill="#a07598" opacity="0.84" transform="rotate(20 154.8 670.7)"/>
<ellipse cx="105.3" cy="672.5" rx="1.30" ry="0.70" fill="#a07598" opacity="0.66" transform="rotate(40 105.3 672.5)"/>
<ellipse cx="117.9" cy="650.0" rx="0.85" ry="0.50" fill="#6e4274" opacity="0.79" transform="rotate(66 117.9 650.0)"/>
<ellipse cx="131.4" cy="708.0" rx="0.69" ry="0.60" fill="#94648f" opacity="0.78" transform="rotate(55 131.4 708.0)"/>
<ellipse cx="114.5" cy="665.3" rx="1.01" ry="0.55" fill="#94648f" opacity="0.74" transform="rotate(80 114.5 665.3)"/>
<ellipse cx="106.6" cy="682.3" rx="0.56" ry="0.60" fill="#c29cba" opacity="0.56" transform="rotate(66 106.6 682.3)"/>
<ellipse cx="104.3" cy="655.2" rx="0.48" ry="0.40" fill="#c29cba" opacity="0.56" transform="rotate(171 104.3 655.2)"/>
<ellipse cx="166.9" cy="666.7" rx="0.87" ry="0.70" fill="#c29cba" opacity="0.75" transform="rotate(39 166.9 666.7)"/>
<ellipse cx="116.1" cy="711.2" rx="0.48" ry="0.50" fill="#a07598" opacity="0.54" transform="rotate(42 116.1 711.2)"/>
<ellipse cx="115.0" cy="685.0" rx="1.30" ry="0.80" fill="#83577f" opacity="0.73" transform="rotate(132 115.0 685.0)"/>
<ellipse cx="133.9" cy="662.0" rx="0.62" ry="0.50" fill="#a8789e" opacity="0.68" transform="rotate(30 133.9 662.0)"/>
<ellipse cx="168.9" cy="660.7" rx="0.40" ry="0.40" fill="#c29cba" opacity="0.89" transform="rotate(167 168.9 660.7)"/>
<ellipse cx="140.3" cy="665.1" rx="0.46" ry="0.45" fill="#a8789e" opacity="0.89" transform="rotate(173 140.3 665.1)"/>
<ellipse cx="162.3" cy="719.6" rx="0.53" ry="0.40" fill="#b48aab" opacity="0.68" transform="rotate(97 162.3 719.6)"/>
<ellipse cx="160.9" cy="678.6" rx="0.77" ry="0.40" fill="#a07598" opacity="0.71" transform="rotate(4 160.9 678.6)"/>
<ellipse cx="176.9" cy="684.8" rx="0.51" ry="0.40" fill="#b48aab" opacity="0.69" transform="rotate(140 176.9 684.8)"/>
<ellipse cx="158.6" cy="697.8" rx="0.85" ry="0.50" fill="#a07598" opacity="0.56" transform="rotate(10 158.6 697.8)"/>
<ellipse cx="138.6" cy="660.6" rx="1.00" ry="0.80" fill="#6e4274" opacity="0.86" transform="rotate(86 138.6 660.6)"/>
<ellipse cx="157.6" cy="698.7" rx="0.85" ry="0.80" fill="#c29cba" opacity="0.76" transform="rotate(21 157.6 698.7)"/>
<ellipse cx="144.5" cy="646.0" rx="0.98" ry="0.60" fill="#b48aab" opacity="0.88" transform="rotate(163 144.5 646.0)"/>
<ellipse cx="156.0" cy="688.1" rx="1.34" ry="0.80" fill="#b48aab" opacity="0.53" transform="rotate(43 156.0 688.1)"/>
<ellipse cx="156.4" cy="707.8" rx="0.95" ry="0.70" fill="#a8789e" opacity="0.62" transform="rotate(149 156.4 707.8)"/>
<ellipse cx="141.2" cy="709.1" rx="0.96" ry="0.55" fill="#a8789e" opacity="0.86" transform="rotate(19 141.2 709.1)"/>
<ellipse cx="104.6" cy="723.8" rx="0.68" ry="0.45" fill="#b48aab" opacity="0.57" transform="rotate(83 104.6 723.8)"/>
<ellipse cx="112.5" cy="717.1" rx="1.60" ry="0.80" fill="#94648f" opacity="0.84" transform="rotate(82 112.5 717.1)"/>
<ellipse cx="112.2" cy="668.7" rx="0.88" ry="0.70" fill="#6e4274" opacity="0.71" transform="rotate(161 112.2 668.7)"/>
<ellipse cx="142.2" cy="674.1" rx="1.11" ry="0.80" fill="#94648f" opacity="0.86" transform="rotate(86 142.2 674.1)"/>
<ellipse cx="110.1" cy="703.8" rx="0.61" ry="0.55" fill="#b48aab" opacity="0.56" transform="rotate(123 110.1 703.8)"/>
<ellipse cx="149.3" cy="676.6" rx="1.29" ry="0.70" fill="#b48aab" opacity="0.69" transform="rotate(75 149.3 676.6)"/>
<ellipse cx="139.8" cy="679.4" rx="0.71" ry="0.45" fill="#a07598" opacity="0.79" transform="rotate(159 139.8 679.4)"/>
<ellipse cx="111.4" cy="672.2" rx="0.84" ry="0.50" fill="#c29cba" opacity="0.56" transform="rotate(115 111.4 672.2)"/>
<ellipse cx="116.3" cy="660.5" rx="0.86" ry="0.60" fill="#83577f" opacity="0.59" transform="rotate(79 116.3 660.5)"/>
<ellipse cx="182.5" cy="660.6" rx="0.86" ry="0.55" fill="#c29cba" opacity="0.83" transform="rotate(62 182.5 660.6)"/>
<ellipse cx="116.3" cy="671.0" rx="0.37" ry="0.40" fill="#b48aab" opacity="0.66" transform="rotate(111 116.3 671.0)"/>
<ellipse cx="152.5" cy="669.8" rx="0.65" ry="0.60" fill="#94648f" opacity="0.78" transform="rotate(77 152.5 669.8)"/>
<ellipse cx="113.7" cy="699.7" rx="0.39" ry="0.40" fill="#c29cba" opacity="0.76" transform="rotate(35 113.7 699.7)"/>
<ellipse cx="169.3" cy="694.0" rx="0.83" ry="0.45" fill="#c29cba" opacity="0.88" transform="rotate(52 169.3 694.0)"/>
<ellipse cx="110.4" cy="713.9" rx="1.04" ry="0.80" fill="#a8789e" opacity="0.76" transform="rotate(24 110.4 713.9)"/>
<ellipse cx="184.6" cy="686.3" rx="0.52" ry="0.50" fill="#a07598" opacity="0.51" transform="rotate(7 184.6 686.3)"/>
<ellipse cx="160.6" cy="694.2" rx="0.55" ry="0.40" fill="#94648f" opacity="0.79" transform="rotate(18 160.6 694.2)"/>
<ellipse cx="106.6" cy="702.4" rx="0.78" ry="0.50" fill="#94648f" opacity="0.51" transform="rotate(35 106.6 702.4)"/>
<ellipse cx="170.2" cy="689.8" rx="1.39" ry="0.80" fill="#a8789e" opacity="0.70" transform="rotate(50 170.2 689.8)"/>
<ellipse cx="184.5" cy="684.9" rx="0.74" ry="0.70" fill="#c29cba" opacity="0.70" transform="rotate(58 184.5 684.9)"/>
<ellipse cx="106.5" cy="708.0" rx="0.75" ry="0.70" fill="#6e4274" opacity="0.62" transform="rotate(158 106.5 708.0)"/>
<ellipse cx="137.6" cy="680.2" rx="0.61" ry="0.55" fill="#94648f" opacity="0.81" transform="rotate(106 137.6 680.2)"/>
<ellipse cx="183.6" cy="709.5" rx="0.86" ry="0.50" fill="#a07598" opacity="0.83" transform="rotate(132 183.6 709.5)"/>
<ellipse cx="137.7" cy="650.4" rx="1.43" ry="0.80" fill="#c29cba" opacity="0.68" transform="rotate(10 137.7 650.4)"/>
<ellipse cx="103.9" cy="668.8" rx="0.67" ry="0.45" fill="#b48aab" opacity="0.69" transform="rotate(144 103.9 668.8)"/>
<ellipse cx="139.3" cy="713.1" rx="0.62" ry="0.40" fill="#a8789e" opacity="0.52" transform="rotate(87 139.3 713.1)"/>
<ellipse cx="136.5" cy="690.8" rx="0.93" ry="0.60" fill="#94648f" opacity="0.76" transform="rotate(114 136.5 690.8)"/>
<ellipse cx="153.6" cy="655.9" rx="1.18" ry="0.60" fill="#a8789e" opacity="0.60" transform="rotate(173 153.6 655.9)"/>
<ellipse cx="180.0" cy="698.5" rx="0.89" ry="0.80" fill="#b48aab" opacity="0.83" transform="rotate(60 180.0 698.5)"/>
<ellipse cx="118.0" cy="714.6" rx="0.56" ry="0.60" fill="#a07598" opacity="0.71" transform="rotate(72 118.0 714.6)"/>
<ellipse cx="155.1" cy="644.7" rx="0.96" ry="0.70" fill="#94648f" opacity="0.51" transform="rotate(163 155.1 644.7)"/>
<ellipse cx="148.0" cy="703.7" rx="0.67" ry="0.50" fill="#c29cba" opacity="0.66" transform="rotate(121 148.0 703.7)"/>
<ellipse cx="110.4" cy="644.9" rx="0.69" ry="0.40" fill="#83577f" opacity="0.83" transform="rotate(2 110.4 644.9)"/>
<ellipse cx="180.6" cy="661.6" rx="0.73" ry="0.40" fill="#a07598" opacity="0.87" transform="rotate(85 180.6 661.6)"/>
<ellipse cx="118.5" cy="659.0" rx="0.98" ry="0.80" fill="#83577f" opacity="0.51" transform="rotate(4 118.5 659.0)"/>
<ellipse cx="118.9" cy="724.5" rx="0.85" ry="0.45" fill="#94648f" opacity="0.64" transform="rotate(63 118.9 724.5)"/>
<ellipse cx="186.0" cy="654.1" rx="1.47" ry="0.80" fill="#6e4274" opacity="0.53" transform="rotate(161 186.0 654.1)"/>
<ellipse cx="106.2" cy="684.9" rx="0.64" ry="0.60" fill="#c29cba" opacity="0.74" transform="rotate(35 106.2 684.9)"/>
<ellipse cx="185.1" cy="648.1" rx="0.73" ry="0.55" fill="#c29cba" opacity="0.57" transform="rotate(43 185.1 648.1)"/>
<ellipse cx="107.7" cy="648.7" rx="0.77" ry="0.50" fill="#a8789e" opacity="0.72" transform="rotate(45 107.7 648.7)"/>
<ellipse cx="151.3" cy="681.9" rx="0.96" ry="0.80" fill="#94648f" opacity="0.66" transform="rotate(126 151.3 681.9)"/>
<ellipse cx="106.4" cy="687.2" rx="0.67" ry="0.50" fill="#c29cba" opacity="0.77" transform="rotate(111 106.4 687.2)"/>
<ellipse cx="113.1" cy="648.0" rx="0.78" ry="0.40" fill="#a8789e" opacity="0.66" transform="rotate(57 113.1 648.0)"/>
<ellipse cx="124.5" cy="660.9" rx="0.41" ry="0.45" fill="#94648f" opacity="0.59" transform="rotate(122 124.5 660.9)"/>
<ellipse cx="112.9" cy="689.0" rx="1.04" ry="0.60" fill="#6e4274" opacity="0.83" transform="rotate(160 112.9 689.0)"/>
<ellipse cx="119.5" cy="664.5" rx="0.46" ry="0.40" fill="#b48aab" opacity="0.73" transform="rotate(121 119.5 664.5)"/>
<ellipse cx="105.2" cy="699.2" rx="0.75" ry="0.45" fill="#a07598" opacity="0.54" transform="rotate(123 105.2 699.2)"/>
<ellipse cx="125.7" cy="673.0" rx="0.80" ry="0.70" fill="#b48aab" opacity="0.88" transform="rotate(151 125.7 673.0)"/>
<ellipse cx="159.4" cy="702.4" rx="0.73" ry="0.55" fill="#b48aab" opacity="0.87" transform="rotate(96 159.4 702.4)"/>
<ellipse cx="139.7" cy="661.7" rx="0.99" ry="0.55" fill="#c29cba" opacity="0.82" transform="rotate(75 139.7 661.7)"/>
<ellipse cx="137.1" cy="694.3" rx="0.99" ry="0.80" fill="#c29cba" opacity="0.54" transform="rotate(130 137.1 694.3)"/>
<ellipse cx="175.5" cy="688.4" rx="0.88" ry="0.70" fill="#a8789e" opacity="0.63" transform="rotate(30 175.5 688.4)"/>
<ellipse cx="173.1" cy="719.9" rx="0.63" ry="0.45" fill="#a8789e" opacity="0.62" transform="rotate(16 173.1 719.9)"/>
<ellipse cx="146.2" cy="708.9" rx="0.46" ry="0.40" fill="#94648f" opacity="0.56" transform="rotate(126 146.2 708.9)"/>
<ellipse cx="120.7" cy="725.0" rx="1.41" ry="0.80" fill="#83577f" opacity="0.66" transform="rotate(14 120.7 725.0)"/>
<ellipse cx="186.3" cy="705.6" rx="0.97" ry="0.50" fill="#a8789e" opacity="0.89" transform="rotate(145 186.3 705.6)"/>
<ellipse cx="166.7" cy="660.5" rx="1.29" ry="0.80" fill="#a07598" opacity="0.72" transform="rotate(52 166.7 660.5)"/>
<ellipse cx="135.0" cy="683.1" rx="1.15" ry="0.60" fill="#94648f" opacity="0.76" transform="rotate(115 135.0 683.1)"/>
<ellipse cx="180.1" cy="708.5" rx="0.85" ry="0.60" fill="#c29cba" opacity="0.82" transform="rotate(83 180.1 708.5)"/>
<ellipse cx="165.4" cy="696.9" rx="0.53" ry="0.50" fill="#83577f" opacity="0.57" transform="rotate(7 165.4 696.9)"/>
<ellipse cx="139.5" cy="680.9" rx="0.98" ry="0.60" fill="#6e4274" opacity="0.84" transform="rotate(60 139.5 680.9)"/>
<ellipse cx="121.4" cy="651.7" rx="0.93" ry="0.60" fill="#a8789e" opacity="0.86" transform="rotate(94 121.4 651.7)"/>
<ellipse cx="123.7" cy="703.5" rx="0.64" ry="0.50" fill="#c29cba" opacity="0.81" transform="rotate(5 123.7 703.5)"/>
<ellipse cx="119.8" cy="710.1" rx="0.86" ry="0.55" fill="#83577f" opacity="0.63" transform="rotate(118 119.8 710.1)"/>
<ellipse cx="141.8" cy="661.1" rx="1.31" ry="0.70" fill="#6e4274" opacity="0.70" transform="rotate(149 141.8 661.1)"/>
<ellipse cx="172.2" cy="703.9" rx="0.85" ry="0.50" fill="#b48aab" opacity="0.54" transform="rotate(46 172.2 703.9)"/>
<ellipse cx="115.5" cy="722.2" rx="0.67" ry="0.45" fill="#a8789e" opacity="0.59" transform="rotate(28 115.5 722.2)"/>
<ellipse cx="175.4" cy="673.9" rx="0.91" ry="0.50" fill="#83577f" opacity="0.63" transform="rotate(52 175.4 673.9)"/>
<ellipse cx="180.0" cy="697.4" rx="0.61" ry="0.55" fill="#b48aab" opacity="0.81" transform="rotate(149 180.0 697.4)"/>
<ellipse cx="108.9" cy="654.2" rx="0.58" ry="0.40" fill="#83577f" opacity="0.51" transform="rotate(49 108.9 654.2)"/>
<ellipse cx="143.7" cy="696.1" rx="1.00" ry="0.55" fill="#94648f" opacity="0.84" transform="rotate(133 143.7 696.1)"/>
<ellipse cx="103.3" cy="706.9" rx="0.94" ry="0.60" fill="#6e4274" opacity="0.62" transform="rotate(38 103.3 706.9)"/>
<ellipse cx="158.1" cy="685.4" rx="1.06" ry="0.60" fill="#b48aab" opacity="0.86" transform="rotate(45 158.1 685.4)"/>
<ellipse cx="183.9" cy="673.0" rx="0.78" ry="0.70" fill="#94648f" opacity="0.86" transform="rotate(75 183.9 673.0)"/>
<ellipse cx="128.8" cy="677.5" rx="0.65" ry="0.45" fill="#c29cba" opacity="0.90" transform="rotate(168 128.8 677.5)"/>
<ellipse cx="123.5" cy="665.4" rx="0.84" ry="0.45" fill="#94648f" opacity="0.50" transform="rotate(104 123.5 665.4)"/>
<ellipse cx="168.1" cy="668.1" rx="0.61" ry="0.60" fill="#a8789e" opacity="0.78" transform="rotate(26 168.1 668.1)"/>
<ellipse cx="165.1" cy="725.2" rx="0.68" ry="0.55" fill="#c29cba" opacity="0.85" transform="rotate(169 165.1 725.2)"/>
<ellipse cx="172.3" cy="694.0" rx="0.74" ry="0.50" fill="#a8789e" opacity="0.80" transform="rotate(80 172.3 694.0)"/>
<ellipse cx="186.1" cy="648.3" rx="0.48" ry="0.45" fill="#83577f" opacity="0.70" transform="rotate(130 186.1 648.3)"/>
<ellipse cx="144.6" cy="650.0" rx="0.76" ry="0.40" fill="#b48aab" opacity="0.78" transform="rotate(132 144.6 650.0)"/>
<ellipse cx="136.7" cy="680.8" rx="0.80" ry="0.55" fill="#94648f" opacity="0.58" transform="rotate(27 136.7 680.8)"/>
<ellipse cx="113.5" cy="716.8" rx="0.46" ry="0.45" fill="#94648f" opacity="0.52" transform="rotate(57 113.5 716.8)"/>
<ellipse cx="118.2" cy="648.8" rx="0.82" ry="0.70" fill="#94648f" opacity="0.64" transform="rotate(146 118.2 648.8)"/>
<ellipse cx="120.2" cy="715.5" rx="0.86" ry="0.80" fill="#b48aab" opacity="0.67" transform="rotate(0 120.2 715.5)"/>
<ellipse cx="149.0" cy="704.7" rx="0.54" ry="0.50" fill="#b48aab" opacity="0.68" transform="rotate(116 149.0 704.7)"/>
<ellipse cx="142.8" cy="682.4" rx="0.55" ry="0.45" fill="#a8789e" opacity="0.53" transform="rotate(118 142.8 682.4)"/>
<ellipse cx="159.9" cy="677.5" rx="0.83" ry="0.45" fill="#83577f" opacity="0.76" transform="rotate(24 159.9 677.5)"/>
<ellipse cx="122.6" cy="718.9" rx="0.77" ry="0.45" fill="#94648f" opacity="0.67" transform="rotate(157 122.6 718.9)"/>
<ellipse cx="169.3" cy="685.8" rx="0.45" ry="0.45" fill="#83577f" opacity="0.70" transform="rotate(116 169.3 685.8)"/>
<ellipse cx="165.7" cy="714.2" rx="0.84" ry="0.45" fill="#a8789e" opacity="0.80" transform="rotate(51 165.7 714.2)"/>
<ellipse cx="184.5" cy="692.0" rx="1.15" ry="0.80" fill="#c29cba" opacity="0.88" transform="rotate(127 184.5 692.0)"/>
<ellipse cx="151.4" cy="668.5" rx="0.67" ry="0.55" fill="#94648f" opacity="0.66" transform="rotate(123 151.4 668.5)"/>
<ellipse cx="108.4" cy="652.1" rx="0.98" ry="0.60" fill="#83577f" opacity="0.76" transform="rotate(9 108.4 652.1)"/>
<ellipse cx="133.9" cy="669.3" rx="1.35" ry="0.70" fill="#94648f" opacity="0.61" transform="rotate(58 133.9 669.3)"/>
<ellipse cx="158.6" cy="685.7" rx="0.49" ry="0.50" fill="#a8789e" opacity="0.79" transform="rotate(63 158.6 685.7)"/>
<ellipse cx="146.1" cy="724.3" rx="0.62" ry="0.45" fill="#6e4274" opacity="0.77" transform="rotate(57 146.1 724.3)"/>
<ellipse cx="177.9" cy="666.0" rx="1.15" ry="0.70" fill="#a07598" opacity="0.80" transform="rotate(106 177.9 666.0)"/>
<ellipse cx="183.2" cy="660.7" rx="0.99" ry="0.70" fill="#6e4274" opacity="0.79" transform="rotate(56 183.2 660.7)"/>
<ellipse cx="178.6" cy="685.3" rx="0.57" ry="0.45" fill="#c29cba" opacity="0.77" transform="rotate(157 178.6 685.3)"/>
<ellipse cx="175.6" cy="678.8" rx="0.52" ry="0.40" fill="#94648f" opacity="0.56" transform="rotate(104 175.6 678.8)"/>
<ellipse cx="125.2" cy="698.6" rx="0.98" ry="0.70" fill="#a07598" opacity="0.85" transform="rotate(95 125.2 698.6)"/>
<ellipse cx="156.6" cy="678.6" rx="0.40" ry="0.40" fill="#83577f" opacity="0.52" transform="rotate(54 156.6 678.6)"/>
<ellipse cx="140.1" cy="694.2" rx="1.25" ry="0.69" fill="#b08cc0" opacity="0.7" transform="rotate(34 140.1 694.2)"/>
<ellipse cx="124.8" cy="669.7" rx="1.15" ry="0.75" fill="#b08cc0" opacity="0.7" transform="rotate(112 124.8 669.7)"/>
<ellipse cx="132.9" cy="692.9" rx="1.88" ry="0.70" fill="#9a72a8" opacity="0.7" transform="rotate(75 132.9 692.9)"/>
<ellipse cx="134.0" cy="727.9" rx="1.35" ry="0.65" fill="#9a72a8" opacity="0.7" transform="rotate(141 134.0 727.9)"/>
<ellipse cx="137.5" cy="708.1" rx="1.26" ry="0.71" fill="#8a5e9c" opacity="0.7" transform="rotate(91 137.5 708.1)"/>
<ellipse cx="144.9" cy="712.7" rx="2.48" ry="0.81" fill="#9a72a8" opacity="0.7" transform="rotate(30 144.9 712.7)"/>
<ellipse cx="131.4" cy="705.0" rx="1.33" ry="0.84" fill="#b08cc0" opacity="0.7" transform="rotate(95 131.4 705.0)"/>
<ellipse cx="146.6" cy="655.1" rx="1.14" ry="0.66" fill="#b08cc0" opacity="0.7" transform="rotate(127 146.6 655.1)"/>
<ellipse cx="123.0" cy="695.9" rx="2.27" ry="0.45" fill="#9a72a8" opacity="0.7" transform="rotate(112 123.0 695.9)"/>
<ellipse cx="107.8" cy="691.3" rx="1.90" ry="0.74" fill="#9a72a8" opacity="0.7" transform="rotate(70 107.8 691.3)"/>
<ellipse cx="123.9" cy="699.3" rx="1.78" ry="0.55" fill="#b08cc0" opacity="0.7" transform="rotate(179 123.9 699.3)"/>
<ellipse cx="129.1" cy="676.8" rx="2.57" ry="0.62" fill="#9a72a8" opacity="0.7" transform="rotate(79 129.1 676.8)"/>
<ellipse cx="130.5" cy="678.0" rx="2.56" ry="0.80" fill="#8a5e9c" opacity="0.7" transform="rotate(20 130.5 678.0)"/>
<ellipse cx="142.1" cy="684.1" rx="2.60" ry="0.79" fill="#b08cc0" opacity="0.7" transform="rotate(87 142.1 684.1)"/>
<ellipse cx="143.8" cy="696.8" rx="1.46" ry="0.46" fill="#9a72a8" opacity="0.7" transform="rotate(102 143.8 696.8)"/>
<ellipse cx="145.3" cy="706.9" rx="1.72" ry="0.55" fill="#8a5e9c" opacity="0.7" transform="rotate(47 145.3 706.9)"/>
<ellipse cx="132.1" cy="703.8" rx="2.26" ry="0.83" fill="#b08cc0" opacity="0.7" transform="rotate(16 132.1 703.8)"/>
<ellipse cx="114.4" cy="700.1" rx="2.02" ry="0.47" fill="#b08cc0" opacity="0.7" transform="rotate(104 114.4 700.1)"/>
<ellipse cx="142.1" cy="672.8" rx="2.25" ry="0.47" fill="#8a5e9c" opacity="0.7" transform="rotate(58 142.1 672.8)"/>
<ellipse cx="110.0" cy="681.5" rx="2.54" ry="0.71" fill="#8a5e9c" opacity="0.7" transform="rotate(41 110.0 681.5)"/>
<ellipse cx="149.0" cy="667.2" rx="1.87" ry="0.48" fill="#9a72a8" opacity="0.7" transform="rotate(59 149.0 667.2)"/>
<ellipse cx="135.9" cy="685.4" rx="1.33" ry="0.62" fill="#9a72a8" opacity="0.7" transform="rotate(130 135.9 685.4)"/>
<ellipse cx="113.0" cy="691.3" rx="2.01" ry="0.74" fill="#8a5e9c" opacity="0.7" transform="rotate(83 113.0 691.3)"/>
<ellipse cx="162.1" cy="649.2" rx="1.75" ry="0.75" fill="#8a5e9c" opacity="0.7" transform="rotate(153 162.1 649.2)"/>
<ellipse cx="167.6" cy="666.6" rx="2.30" ry="0.84" fill="#8a5e9c" opacity="0.7" transform="rotate(105 167.6 666.6)"/>
<ellipse cx="176.4" cy="676.1" rx="1.08" ry="0.71" fill="#8a5e9c" opacity="0.7" transform="rotate(123 176.4 676.1)"/>
<ellipse cx="149.9" cy="664.8" rx="2.56" ry="0.81" fill="#9a72a8" opacity="0.7" transform="rotate(3 149.9 664.8)"/>
<ellipse cx="147.5" cy="652.5" rx="1.41" ry="0.56" fill="#9a72a8" opacity="0.7" transform="rotate(121 147.5 652.5)"/>
<ellipse cx="148.5" cy="691.0" rx="1.85" ry="0.62" fill="#9a72a8" opacity="0.7" transform="rotate(172 148.5 691.0)"/>
<ellipse cx="126.9" cy="664.5" rx="1.38" ry="0.84" fill="#b08cc0" opacity="0.7" transform="rotate(141 126.9 664.5)"/>
<ellipse cx="136.8" cy="673.1" rx="1.55" ry="0.83" fill="#9a72a8" opacity="0.7" transform="rotate(96 136.8 673.1)"/>
<ellipse cx="128.0" cy="710.7" rx="2.40" ry="0.76" fill="#9a72a8" opacity="0.7" transform="rotate(176 128.0 710.7)"/>
<ellipse cx="124.2" cy="698.6" rx="2.01" ry="0.60" fill="#9a72a8" opacity="0.7" transform="rotate(128 124.2 698.6)"/>
<ellipse cx="145.1" cy="698.7" rx="2.33" ry="0.51" fill="#b08cc0" opacity="0.7" transform="rotate(119 145.1 698.7)"/>
<ellipse cx="139.5" cy="663.0" rx="1.56" ry="0.63" fill="#9a72a8" opacity="0.7" transform="rotate(109 139.5 663.0)"/>
<ellipse cx="114.3" cy="691.1" rx="1.48" ry="0.72" fill="#b08cc0" opacity="0.7" transform="rotate(151 114.3 691.1)"/>
<ellipse cx="135.6" cy="664.4" rx="2.38" ry="0.61" fill="#b08cc0" opacity="0.7" transform="rotate(10 135.6 664.4)"/>
<ellipse cx="150.0" cy="666.0" rx="1.16" ry="0.55" fill="#9a72a8" opacity="0.7" transform="rotate(84 150.0 666.0)"/>
<ellipse cx="150.8" cy="672.8" rx="2.51" ry="0.71" fill="#b08cc0" opacity="0.7" transform="rotate(84 150.8 672.8)"/>
<ellipse cx="117.0" cy="694.7" rx="1.25" ry="0.68" fill="#8a5e9c" opacity="0.7" transform="rotate(0 117.0 694.7)"/>
<ellipse cx="156.2" cy="669.0" rx="1.66" ry="0.67" fill="#8a5e9c" opacity="0.7" transform="rotate(79 156.2 669.0)"/>
<ellipse cx="138.9" cy="662.3" rx="1.73" ry="0.82" fill="#8a5e9c" opacity="0.7" transform="rotate(179 138.9 662.3)"/>
<ellipse cx="145.8" cy="660.9" rx="1.31" ry="0.80" fill="#b08cc0" opacity="0.7" transform="rotate(78 145.8 660.9)"/>
<ellipse cx="124.7" cy="674.4" rx="1.76" ry="0.76" fill="#8a5e9c" opacity="0.7" transform="rotate(51 124.7 674.4)"/>
<ellipse cx="143.3" cy="707.1" rx="2.55" ry="0.84" fill="#b08cc0" opacity="0.7" transform="rotate(70 143.3 707.1)"/>
<ellipse cx="119.6" cy="689.4" rx="2.57" ry="0.73" fill="#b08cc0" opacity="0.7" transform="rotate(42 119.6 689.4)"/>
<ellipse cx="126.1" cy="708.2" rx="2.43" ry="0.69" fill="#8a5e9c" opacity="0.7" transform="rotate(52 126.1 708.2)"/>
<ellipse cx="123.2" cy="694.9" rx="1.46" ry="0.47" fill="#8a5e9c" opacity="0.7" transform="rotate(160 123.2 694.9)"/>
<ellipse cx="146.0" cy="703.4" rx="1.87" ry="0.50" fill="#8a5e9c" opacity="0.7" transform="rotate(142 146.0 703.4)"/>
<ellipse cx="151.6" cy="697.4" rx="2.29" ry="0.79" fill="#9a72a8" opacity="0.7" transform="rotate(95 151.6 697.4)"/>
<ellipse cx="132.8" cy="707.1" rx="1.88" ry="0.61" fill="#8a5e9c" opacity="0.7" transform="rotate(11 132.8 707.1)"/>
<ellipse cx="157.1" cy="645.5" rx="1.76" ry="0.79" fill="#9a72a8" opacity="0.7" transform="rotate(94 157.1 645.5)"/>
<ellipse cx="156.5" cy="668.6" rx="2.57" ry="0.75" fill="#8a5e9c" opacity="0.7" transform="rotate(44 156.5 668.6)"/>
<ellipse cx="115.4" cy="694.1" rx="1.57" ry="0.49" fill="#b08cc0" opacity="0.7" transform="rotate(96 115.4 694.1)"/>
<ellipse cx="139.6" cy="697.8" rx="1.06" ry="0.48" fill="#b08cc0" opacity="0.7" transform="rotate(106 139.6 697.8)"/>
<ellipse cx="151.5" cy="659.1" rx="1.42" ry="0.74" fill="#9a72a8" opacity="0.7" transform="rotate(115 151.5 659.1)"/>
<ellipse cx="151.9" cy="661.7" rx="2.05" ry="0.79" fill="#b08cc0" opacity="0.7" transform="rotate(14 151.9 661.7)"/>
<ellipse cx="124.7" cy="687.8" rx="2.22" ry="0.46" fill="#b08cc0" opacity="0.7" transform="rotate(28 124.7 687.8)"/>
<ellipse cx="133.0" cy="698.8" rx="1.92" ry="0.54" fill="#9a72a8" opacity="0.7" transform="rotate(58 133.0 698.8)"/>
<ellipse cx="152.3" cy="657.3" rx="2.11" ry="0.67" fill="#b08cc0" opacity="0.7" transform="rotate(18 152.3 657.3)"/>
<ellipse cx="114.5" cy="685.2" rx="1.41" ry="0.82" fill="#8a5e9c" opacity="0.7" transform="rotate(11 114.5 685.2)"/>
<ellipse cx="117.3" cy="690.2" rx="1.31" ry="0.52" fill="#b08cc0" opacity="0.7" transform="rotate(63 117.3 690.2)"/>
<ellipse cx="143.2" cy="712.9" rx="2.37" ry="0.66" fill="#9a72a8" opacity="0.7" transform="rotate(99 143.2 712.9)"/>
<ellipse cx="162.0" cy="674.5" rx="1.17" ry="0.56" fill="#8a5e9c" opacity="0.7" transform="rotate(136 162.0 674.5)"/>
<ellipse cx="140.8" cy="706.7" rx="2.43" ry="0.81" fill="#9a72a8" opacity="0.7" transform="rotate(144 140.8 706.7)"/>
<ellipse cx="119.2" cy="690.1" rx="1.48" ry="0.74" fill="#9a72a8" opacity="0.7" transform="rotate(166 119.2 690.1)"/>
<ellipse cx="141.0" cy="717.9" rx="2.31" ry="0.65" fill="#9a72a8" opacity="0.7" transform="rotate(25 141.0 717.9)"/>
<ellipse cx="165.4" cy="671.4" rx="2.59" ry="0.61" fill="#b08cc0" opacity="0.7" transform="rotate(55 165.4 671.4)"/>
<ellipse cx="158.1" cy="661.1" rx="1.26" ry="0.60" fill="#9a72a8" opacity="0.7" transform="rotate(156 158.1 661.1)"/>
<ellipse cx="119.5" cy="658.7" rx="2.07" ry="0.47" fill="#9a72a8" opacity="0.7" transform="rotate(24 119.5 658.7)"/>
</g>
<rect x="201.90" y="149.60" width="22.80" height="12.90" fill="#fff" stroke="#111" stroke-width="1.1"/>
<text x="213.30" y="159.30" font-size="8.96" text-anchor="middle" textLength="19.50" lengthAdjust="spacingAndGlyphs">SDC1</text>
<line x1="211.60" y1="162.50" x2="211.60" y2="704.90" stroke="#1e1e1e" stroke-width="1.45" />
<line x1="211.60" y1="173.50" x2="322.70" y2="173.50" stroke="#1e1e1e" stroke-width="1.45" />
<rect x="329.95" y="167.45" width="17.80" height="12.10" fill="#fff" stroke="#111" stroke-width="1.1"/>
<text x="338.85" y="175.90" font-size="7.34" text-anchor="middle" textLength="14.30" lengthAdjust="spacingAndGlyphs" style="fill:#333;stroke:#333;">NRP1</text>
<line x1="211.60" y1="188.78" x2="324.60" y2="188.78" stroke="#1e1e1e" stroke-width="1.45" />
<rect x="331.15" y="182.74" width="21.00" height="12.10" fill="#fff" stroke="#111" stroke-width="1.1"/>
<text x="341.65" y="191.19" font-size="7.34" text-anchor="middle" textLength="17.50" lengthAdjust="spacingAndGlyphs" style="fill:#333;stroke:#333;">CHPF2</text>
<line x1="211.60" y1="204.07" x2="363.30" y2="204.07" stroke="#1e1e1e" stroke-width="1.45" />
<rect x="368.75" y="198.02" width="19.20" height="12.10" fill="#fff" stroke="#111" stroke-width="1.1"/>
<text x="378.35" y="206.47" font-size="7.34" text-anchor="middle" textLength="15.70" lengthAdjust="spacingAndGlyphs" style="fill:#333;stroke:#333;">HAS3</text>
<line x1="211.60" y1="219.36" x2="363.80" y2="219.36" stroke="#1e1e1e" stroke-width="1.45" />
<rect x="369.75" y="213.31" width="14.30" height="12.10" fill="#fff" stroke="#111" stroke-width="1.1"/>
<text x="376.90" y="221.76" font-size="7.34" text-anchor="middle" textLength="10.80" lengthAdjust="spacingAndGlyphs" style="fill:#333;stroke:#333;">DSE</text>
<line x1="211.60" y1="234.64" x2="366.50" y2="234.64" stroke="#1e1e1e" stroke-width="1.45" />
<rect x="372.00" y="228.04" width="22.20" height="13.20" fill="#d3282f"/>
<text x="383.10" y="237.04" font-size="7.34" text-anchor="middle" textLength="17.60" lengthAdjust="spacingAndGlyphs" style="fill:#3a0204;stroke:#3a0204;">CHSY1</text>
<line x1="211.60" y1="249.93" x2="368.60" y2="249.93" stroke="#1e1e1e" stroke-width="1.45" />
<rect x="373.55" y="243.88" width="18.50" height="12.10" fill="#fff" stroke="#111" stroke-width="1.1"/>
<text x="382.80" y="252.33" font-size="7.34" text-anchor="middle" textLength="15.00" lengthAdjust="spacingAndGlyphs" style="fill:#333;stroke:#333;">EXT2</text>
<line x1="211.60" y1="265.21" x2="369.00" y2="265.21" stroke="#1e1e1e" stroke-width="1.45" />
<rect x="374.05" y="259.16" width="24.60" height="12.10" fill="#fff" stroke="#111" stroke-width="1.1"/>
<text x="386.35" y="267.61" font-size="7.34" text-anchor="middle" textLength="21.10" lengthAdjust="spacingAndGlyphs" style="fill:#333;stroke:#333;">GXYLT2</text>
<line x1="211.60" y1="280.50" x2="368.50" y2="280.50" stroke="#1e1e1e" stroke-width="1.45" />
<rect x="373.85" y="274.44" width="18.30" height="12.10" fill="#fff" stroke="#111" stroke-width="1.1"/>
<text x="383.00" y="282.89" font-size="7.34" text-anchor="middle" textLength="14.80" lengthAdjust="spacingAndGlyphs" style="fill:#333;stroke:#333;">CHPF</text>
<line x1="211.60" y1="295.78" x2="322.00" y2="295.78" stroke="#1e1e1e" stroke-width="1.45" />
<rect x="327.00" y="289.18" width="27.60" height="13.20" fill="#d3282f"/>
<text x="340.80" y="298.18" font-size="7.34" text-anchor="middle" textLength="23.00" lengthAdjust="spacingAndGlyphs" style="fill:#3a0204;stroke:#3a0204;">COL1A2</text>
<line x1="211.60" y1="311.06" x2="328.50" y2="311.06" stroke="#1e1e1e" stroke-width="1.45" />
<rect x="333.55" y="305.01" width="25.40" height="12.10" fill="#fff" stroke="#111" stroke-width="1.1"/>
<text x="346.25" y="313.46" font-size="7.34" text-anchor="middle" textLength="21.90" lengthAdjust="spacingAndGlyphs" style="fill:#333;stroke:#333;">COL5A1</text>
<line x1="211.60" y1="326.35" x2="332.30" y2="326.35" stroke="#1e1e1e" stroke-width="1.45" />
<rect x="337.75" y="320.30" width="25.50" height="12.10" fill="#fff" stroke="#111" stroke-width="1.1"/>
<text x="350.50" y="328.75" font-size="7.34" text-anchor="middle" textLength="22.00" lengthAdjust="spacingAndGlyphs" style="fill:#333;stroke:#333;">COL1A1</text>
<line x1="211.60" y1="341.63" x2="344.40" y2="341.63" stroke="#1e1e1e" stroke-width="1.45" />
<rect x="349.75" y="335.58" width="25.50" height="12.10" fill="#fff" stroke="#111" stroke-width="1.1"/>
<text x="362.50" y="344.03" font-size="7.34" text-anchor="middle" textLength="22.00" lengthAdjust="spacingAndGlyphs" style="fill:#333;stroke:#333;">COL8A1</text>
<line x1="211.60" y1="356.92" x2="346.60" y2="356.92" stroke="#1e1e1e" stroke-width="1.45" />
<rect x="352.00" y="350.32" width="28.80" height="13.20" fill="#d3282f"/>
<text x="366.40" y="359.32" font-size="7.34" text-anchor="middle" textLength="24.20" lengthAdjust="spacingAndGlyphs" style="fill:#3a0204;stroke:#3a0204;">COL18A1</text>
<line x1="211.60" y1="372.21" x2="347.20" y2="372.21" stroke="#1e1e1e" stroke-width="1.45" />
<rect x="352.85" y="366.16" width="25.50" height="12.10" fill="#fff" stroke="#111" stroke-width="1.1"/>
<text x="365.60" y="374.61" font-size="7.34" text-anchor="middle" textLength="22.00" lengthAdjust="spacingAndGlyphs" style="fill:#333;stroke:#333;">COL3A1</text>
<line x1="211.60" y1="387.49" x2="347.70" y2="387.49" stroke="#1e1e1e" stroke-width="1.45" />
<rect x="352.30" y="380.89" width="26.60" height="13.20" fill="#d3282f"/>
<text x="365.60" y="389.89" font-size="7.34" text-anchor="middle" textLength="22.00" lengthAdjust="spacingAndGlyphs" style="fill:#3a0204;stroke:#3a0204;">COL5A2</text>
<line x1="211.60" y1="402.77" x2="356.40" y2="402.77" stroke="#1e1e1e" stroke-width="1.45" />
<rect x="361.75" y="396.72" width="24.70" height="12.10" fill="#fff" stroke="#111" stroke-width="1.1"/>
<text x="374.10" y="405.17" font-size="7.34" text-anchor="middle" textLength="21.20" lengthAdjust="spacingAndGlyphs" style="fill:#333;stroke:#333;">COL6A3</text>
<line x1="211.60" y1="418.06" x2="356.60" y2="418.06" stroke="#1e1e1e" stroke-width="1.45" />
<rect x="361.20" y="411.46" width="26.00" height="13.20" fill="#d3282f"/>
<text x="374.20" y="420.46" font-size="7.34" text-anchor="middle" textLength="21.40" lengthAdjust="spacingAndGlyphs" style="fill:#3a0204;stroke:#3a0204;">COL6A2</text>
<line x1="211.60" y1="433.35" x2="357.70" y2="433.35" stroke="#1e1e1e" stroke-width="1.45" />
<rect x="363.40" y="426.75" width="20.40" height="13.20" fill="#d3282f"/>
<text x="373.60" y="435.75" font-size="7.34" text-anchor="middle" textLength="15.80" lengthAdjust="spacingAndGlyphs" style="fill:#3a0204;stroke:#3a0204;">ITGA5</text>
<line x1="211.60" y1="448.63" x2="326.90" y2="448.63" stroke="#1e1e1e" stroke-width="1.45" />
<rect x="332.55" y="442.58" width="25.40" height="12.10" fill="#fff" stroke="#111" stroke-width="1.1"/>
<text x="345.25" y="451.03" font-size="7.34" text-anchor="middle" textLength="21.90" lengthAdjust="spacingAndGlyphs" style="fill:#333;stroke:#333;">MMP14</text>
<line x1="211.60" y1="463.92" x2="331.50" y2="463.92" stroke="#1e1e1e" stroke-width="1.45" />
<rect x="337.15" y="457.87" width="22.60" height="12.10" fill="#fff" stroke="#111" stroke-width="1.1"/>
<text x="348.45" y="466.31" font-size="7.34" text-anchor="middle" textLength="19.10" lengthAdjust="spacingAndGlyphs" style="fill:#333;stroke:#333;">PLOD3</text>
<line x1="211.60" y1="479.20" x2="333.50" y2="479.20" stroke="#1e1e1e" stroke-width="1.45" />
<rect x="338.50" y="472.60" width="22.30" height="13.20" fill="#d3282f"/>
<text x="349.65" y="481.60" font-size="7.34" text-anchor="middle" textLength="17.70" lengthAdjust="spacingAndGlyphs" style="fill:#3a0204;stroke:#3a0204;">PDIA5</text>
<line x1="211.60" y1="494.49" x2="337.70" y2="494.49" stroke="#1e1e1e" stroke-width="1.45" />
<rect x="343.40" y="487.88" width="22.40" height="13.20" fill="#d3282f"/>
<text x="354.60" y="496.88" font-size="7.34" text-anchor="middle" textLength="17.80" lengthAdjust="spacingAndGlyphs" style="fill:#3a0204;stroke:#3a0204;">PLOD1</text>
<line x1="211.60" y1="509.77" x2="341.20" y2="509.77" stroke="#1e1e1e" stroke-width="1.45" />
<rect x="347.05" y="503.72" width="22.40" height="12.10" fill="#fff" stroke="#111" stroke-width="1.1"/>
<text x="358.25" y="512.17" font-size="7.34" text-anchor="middle" textLength="18.90" lengthAdjust="spacingAndGlyphs" style="fill:#333;stroke:#333;">PLAUR</text>
<line x1="211.60" y1="525.06" x2="344.90" y2="525.06" stroke="#1e1e1e" stroke-width="1.45" />
<rect x="350.00" y="518.46" width="21.50" height="13.20" fill="#d3282f"/>
<text x="360.75" y="527.46" font-size="7.34" text-anchor="middle" textLength="16.90" lengthAdjust="spacingAndGlyphs" style="fill:#3a0204;stroke:#3a0204;">LOXL1</text>
<line x1="211.60" y1="540.34" x2="345.40" y2="540.34" stroke="#1e1e1e" stroke-width="1.45" />
<rect x="350.80" y="533.74" width="24.10" height="13.20" fill="#d3282f"/>
<text x="362.85" y="542.74" font-size="7.34" text-anchor="middle" textLength="19.50" lengthAdjust="spacingAndGlyphs" style="fill:#3a0204;stroke:#3a0204;">P4HA2</text>
<line x1="211.60" y1="555.62" x2="348.50" y2="555.62" stroke="#1e1e1e" stroke-width="1.45" />
<rect x="353.55" y="549.57" width="23.90" height="12.10" fill="#fff" stroke="#111" stroke-width="1.1"/>
<text x="365.50" y="558.02" font-size="7.34" text-anchor="middle" textLength="20.40" lengthAdjust="spacingAndGlyphs" style="fill:#333;stroke:#333;">MMP11</text>
<line x1="211.60" y1="570.91" x2="353.40" y2="570.91" stroke="#1e1e1e" stroke-width="1.45" />
<rect x="357.40" y="564.31" width="22.10" height="13.20" fill="#d3282f"/>
<text x="368.45" y="573.31" font-size="7.34" text-anchor="middle" textLength="17.50" lengthAdjust="spacingAndGlyphs" style="fill:#3a0204;stroke:#3a0204;">LOXL3</text>
<line x1="211.60" y1="586.19" x2="354.30" y2="586.19" stroke="#1e1e1e" stroke-width="1.45" />
<rect x="358.90" y="579.59" width="29.60" height="13.20" fill="#d3282f"/>
<text x="373.70" y="588.59" font-size="7.34" text-anchor="middle" textLength="25.00" lengthAdjust="spacingAndGlyphs" style="fill:#3a0204;stroke:#3a0204;">ADAM12</text>
<line x1="211.60" y1="601.48" x2="355.40" y2="601.48" stroke="#1e1e1e" stroke-width="1.45" />
<rect x="361.05" y="595.43" width="20.60" height="12.10" fill="#fff" stroke="#111" stroke-width="1.1"/>
<text x="371.35" y="603.88" font-size="7.34" text-anchor="middle" textLength="17.10" lengthAdjust="spacingAndGlyphs" style="fill:#333;stroke:#333;">LOXL2</text>
<line x1="211.60" y1="616.76" x2="358.90" y2="616.76" stroke="#1e1e1e" stroke-width="1.45" />
<rect x="364.75" y="610.71" width="18.90" height="12.10" fill="#fff" stroke="#111" stroke-width="1.1"/>
<text x="374.20" y="619.16" font-size="7.34" text-anchor="middle" textLength="15.40" lengthAdjust="spacingAndGlyphs" style="fill:#333;stroke:#333;">PLAU</text>
<line x1="211.60" y1="632.05" x2="365.70" y2="632.05" stroke="#1e1e1e" stroke-width="1.45" />
<rect x="369.70" y="625.45" width="17.50" height="13.20" fill="#d3282f"/>
<text x="378.45" y="634.45" font-size="7.34" text-anchor="middle" textLength="12.90" lengthAdjust="spacingAndGlyphs" style="fill:#3a0204;stroke:#3a0204;">LOX</text>
<line x1="211.60" y1="647.34" x2="350.80" y2="647.34" stroke="#1e1e1e" stroke-width="1.45" />
<rect x="355.95" y="641.28" width="25.00" height="12.10" fill="#fff" stroke="#111" stroke-width="1.1"/>
<text x="368.45" y="649.74" font-size="7.34" text-anchor="middle" textLength="21.50" lengthAdjust="spacingAndGlyphs" style="fill:#333;stroke:#333;">RAB27A</text>
<line x1="211.60" y1="662.62" x2="353.40" y2="662.62" stroke="#1e1e1e" stroke-width="1.45" />
<rect x="359.05" y="656.57" width="18.00" height="12.10" fill="#fff" stroke="#111" stroke-width="1.1"/>
<text x="368.05" y="665.02" font-size="7.34" text-anchor="middle" textLength="14.50" lengthAdjust="spacingAndGlyphs" style="fill:#333;stroke:#333;">ARF6</text>
<line x1="211.60" y1="677.90" x2="361.40" y2="677.90" stroke="#1e1e1e" stroke-width="1.45" />
<rect x="363.80" y="671.30" width="28.60" height="13.20" fill="#d3282f"/>
<text x="378.10" y="680.30" font-size="7.34" text-anchor="middle" textLength="24.00" lengthAdjust="spacingAndGlyphs" style="fill:#3a0204;stroke:#3a0204;">SLC16A3</text>
<line x1="211.60" y1="693.19" x2="371.40" y2="693.19" stroke="#1e1e1e" stroke-width="1.45" />
<rect x="374.90" y="686.59" width="20.70" height="13.20" fill="#d3282f"/>
<text x="385.25" y="695.59" font-size="7.34" text-anchor="middle" textLength="16.10" lengthAdjust="spacingAndGlyphs" style="fill:#3a0204;stroke:#3a0204;">CA12</text>
<line x1="339.20" y1="288.30" x2="517.00" y2="288.30" stroke="#111" stroke-width="1.4" stroke-dasharray="2.6 1.9"/>
<line x1="339.20" y1="441.00" x2="517.00" y2="441.00" stroke="#111" stroke-width="1.4" stroke-dasharray="2.6 1.9"/>
<line x1="339.20" y1="640.00" x2="517.00" y2="640.00" stroke="#111" stroke-width="1.4" stroke-dasharray="2.6 1.9"/>
<line x1="339.20" y1="670.40" x2="517.00" y2="670.40" stroke="#111" stroke-width="1.4" stroke-dasharray="2.6 1.9"/>
<text x="415.70" y="233.40" font-size="8.86" textLength="76.60" lengthAdjust="spacingAndGlyphs">Proteoglycan related</text>
<text x="420.30" y="366.30" font-size="8.86" textLength="65.10" lengthAdjust="spacingAndGlyphs">ECM components</text>
<text x="421.00" y="544.60" font-size="8.86" textLength="91.60" lengthAdjust="spacingAndGlyphs">ECM-modifying enzymes</text>
<text x="421.00" y="661.00" font-size="8.86" textLength="50.80" lengthAdjust="spacingAndGlyphs">EV biogenesis</text>
<text x="422.80" y="689.40" font-size="8.86" textLength="29.70" lengthAdjust="spacingAndGlyphs">Acidosis</text>
<rect x="376.30" y="156.50" width="13.90" height="13.00" fill="#d3282f"/>
<text x="391.60" y="165.50" font-size="8.21" textLength="49.10" lengthAdjust="spacingAndGlyphs">Hypoxia induced</text>
<rect x="444.10" y="157.10" width="12.00" height="11.80" fill="#fff" stroke="#111" stroke-width="1.2"/>
<text x="458.80" y="165.50" font-size="8.21" textLength="59.70" lengthAdjust="spacingAndGlyphs">Not hypoxia induced</text>
<line x1="210.90" y1="704.30" x2="393.00" y2="704.30" stroke="#1e1e1e" stroke-width="1.3" />
<line x1="212.40" y1="704.30" x2="212.40" y2="707.50" stroke="#1e1e1e" stroke-width="1.1" />
<text x="212.80" y="714.70" font-size="8.64" text-anchor="middle" textLength="10.50" lengthAdjust="spacingAndGlyphs">1.0</text>
<line x1="271.10" y1="704.30" x2="271.10" y2="707.50" stroke="#1e1e1e" stroke-width="1.1" />
<text x="271.50" y="714.70" font-size="8.64" text-anchor="middle" textLength="10.50" lengthAdjust="spacingAndGlyphs">0.8</text>
<line x1="329.80" y1="704.30" x2="329.80" y2="707.50" stroke="#1e1e1e" stroke-width="1.1" />
<text x="330.20" y="714.70" font-size="8.64" text-anchor="middle" textLength="10.50" lengthAdjust="spacingAndGlyphs">0.6</text>
<line x1="388.50" y1="704.30" x2="388.50" y2="707.50" stroke="#1e1e1e" stroke-width="1.1" />
<text x="388.90" y="714.70" font-size="8.64" text-anchor="middle" textLength="10.50" lengthAdjust="spacingAndGlyphs">0.4</text>
<text x="237.7" y="724.5" font-size="8.64" textLength="133.7" lengthAdjust="spacingAndGlyphs">Genes correlated with SDC1 (<tspan font-style="italic">r</tspan> value)</text>
</svg>
</body></html>
